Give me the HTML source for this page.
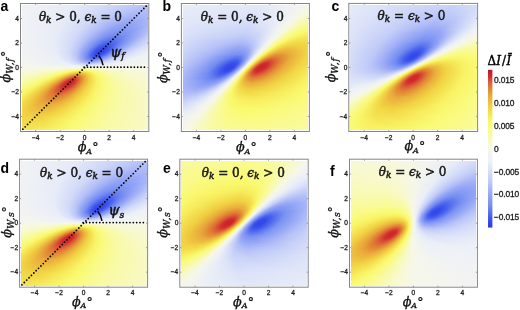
<!DOCTYPE html>
<html><head><meta charset="utf-8"><style>
html,body{margin:0;padding:0;background:#fff;}
#fig{filter:blur(0.25px);position:relative;width:520px;height:310px;overflow:hidden;background:#fff;}
.hm{position:absolute;display:flex;flex-direction:column;}
.hm i{display:block;flex:1 1 0;}
svg{position:absolute;left:0;top:0;}
.tl{font-family:"Liberation Sans",Arial,sans-serif;font-size:6.6px;fill:#222;stroke:#222;stroke-width:0.3px;}
.pl{font-family:"Liberation Sans",Arial,sans-serif;font-size:14px;font-weight:bold;fill:#000;}
.ti{font-family:"DejaVu Serif","Liberation Serif",serif;font-size:12px;fill:#1a1a1a;stroke:#1a1a1a;stroke-width:0.5px;}
.al{font-family:"DejaVu Serif","Liberation Serif",serif;fill:#111;stroke:#111;stroke-width:0.3px;}
.psi{font-family:"DejaVu Serif","Liberation Serif",serif;font-size:14px;font-style:italic;fill:#111;stroke:#111;stroke-width:0.5px;}
.cbl{font-family:"Liberation Sans",Arial,sans-serif;font-size:8.4px;fill:#1a1a1a;stroke:#1a1a1a;stroke-width:0.3px;letter-spacing:-0.12px;}
.cbt{font-family:"DejaVu Serif","Liberation Serif",serif;font-size:12px;fill:#000;stroke:#000;stroke-width:0.4px;}
</style></head><body><div id="fig">
<div class="hm" style="left:22px;top:5px;width:126px;height:125px"><i style="background:linear-gradient(90deg,#f0f2f4 0.4%,#e7ebf8 41.7%,#cad3f8 75.8%,#b9c4f8 97.2%,#b9c4f8 99.6%)"></i><i style="background:linear-gradient(90deg,#f0f2f4 0.4%,#e7ebf8 40.9%,#cbd4f8 72.6%,#b8c3f8 95.6%,#b8c3f8 99.6%)"></i><i style="background:linear-gradient(90deg,#f0f2f4 0.4%,#e7ebf8 40.1%,#ccd5f8 71.0%,#b6c2f8 94.0%,#b6c2f8 99.6%)"></i><i style="background:linear-gradient(90deg,#f0f2f4 0.4%,#e6ebf8 40.1%,#cbd4f8 70.2%,#b5c0f8 93.3%,#b5c0f8 99.6%)"></i><i style="background:linear-gradient(90deg,#f0f2f4 0.4%,#e7ebf8 39.3%,#cdd5f8 67.9%,#b4bff8 91.7%,#b4bff8 99.6%)"></i><i style="background:linear-gradient(90deg,#f0f2f4 0.4%,#e7ebf8 38.5%,#cdd6f8 66.3%,#b2bef8 90.9%,#b2bef8 99.6%)"></i><i style="background:linear-gradient(90deg,#f0f2f4 0.4%,#e7ebf8 37.7%,#ced6f8 64.7%,#b1bdf8 89.3%,#b1bdf8 99.6%)"></i><i style="background:linear-gradient(90deg,#f0f2f4 0.4%,#e6ebf8 37.7%,#cdd6f8 63.9%,#aebbf8 89.3%,#b0bcf8 99.6%)"></i><i style="background:linear-gradient(90deg,#f0f2f4 0.4%,#e7ebf8 36.9%,#ced7f8 62.3%,#acb9f8 88.5%,#afbbf8 99.6%)"></i><i style="background:linear-gradient(90deg,#f0f2f4 0.4%,#e7ebf8 36.1%,#ced6f8 61.5%,#aab7f8 87.7%,#adbaf8 99.6%)"></i><i style="background:linear-gradient(90deg,#f0f2f4 0.4%,#e6ebf8 36.1%,#ced6f8 60.7%,#a7b5f7 87.7%,#acb9f8 99.6%)"></i><i style="background:linear-gradient(90deg,#f0f2f4 0.4%,#e7ebf8 35.3%,#ced7f8 59.1%,#a6b3f7 86.1%,#a9b6f7 98.0%,#abb8f8 99.6%)"></i><i style="background:linear-gradient(90deg,#f0f2f4 0.4%,#e7ebf8 34.5%,#cfd8f8 57.5%,#a3b1f7 85.3%,#a7b4f7 97.2%,#aab7f8 99.6%)"></i><i style="background:linear-gradient(90deg,#f0f2f4 0.4%,#e6ebf8 34.5%,#cfd7f8 56.7%,#a1aff7 84.5%,#a4b2f7 95.6%,#aab7f7 99.6%)"></i><i style="background:linear-gradient(90deg,#f0f2f4 0.4%,#e7ebf8 33.7%,#cfd7f8 56.0%,#9eadf7 83.7%,#a1b0f7 94.8%,#a9b6f7 99.6%)"></i><i style="background:linear-gradient(90deg,#f0f2f4 0.4%,#e7ecf8 32.9%,#d0d8f8 54.4%,#9cabf6 82.9%,#9eadf6 93.3%,#a9b6f7 99.6%)"></i><i style="background:linear-gradient(90deg,#f0f2f4 0.4%,#e7ebf8 32.9%,#cfd7f8 54.4%,#9aaaf6 81.3%,#9aaaf6 91.7%,#a9b6f7 99.6%)"></i><i style="background:linear-gradient(90deg,#f0f2f4 0.4%,#e7ebf8 32.1%,#d0d8f8 52.8%,#97a7f6 80.6%,#99a9f6 91.7%,#a9b6f7 99.6%)"></i><i style="background:linear-gradient(90deg,#f0f2f4 0.4%,#e6ebf8 32.1%,#d0d8f8 52.0%,#96a6f6 79.0%,#96a6f6 90.1%,#a9b6f7 99.6%)"></i><i style="background:linear-gradient(90deg,#f0f2f4 0.4%,#e7ebf8 31.3%,#d0d8f8 51.2%,#a8b5f7 68.7%,#93a4f5 79.0%,#93a5f5 89.3%,#a9b7f7 99.6%)"></i><i style="background:linear-gradient(90deg,#f0f2f4 0.4%,#e6ebf8 31.3%,#d0d8f8 50.4%,#abb8f8 66.3%,#92a4f5 76.6%,#90a2f5 86.9%,#a1aff7 96.4%,#aab7f8 99.6%)"></i><i style="background:linear-gradient(90deg,#f0f2f4 0.4%,#e7ebf8 30.6%,#d0d8f8 49.6%,#acb9f8 64.7%,#91a3f5 75.0%,#8d9ff5 85.3%,#9faef7 95.6%,#abb8f8 99.6%)"></i><i style="background:linear-gradient(90deg,#f0f2f4 0.4%,#e6ebf8 30.6%,#d0d8f8 48.8%,#adbaf8 63.1%,#90a2f5 73.4%,#899df4 82.9%,#98a8f6 93.3%,#adb9f8 99.6%)"></i><i style="background:linear-gradient(90deg,#f0f2f4 0.4%,#e7ebf8 29.8%,#d0d9f8 48.0%,#afbbf8 61.5%,#90a2f5 71.8%,#869bf4 81.3%,#94a5f6 91.7%,#aebbf8 99.6%)"></i><i style="background:linear-gradient(90deg,#f0f2f4 0.4%,#e7ebf8 29.8%,#d1d9f8 47.2%,#b1bdf8 59.9%,#8ea0f5 71.0%,#8399f3 80.6%,#91a2f5 90.1%,#b0bcf8 99.6%)"></i><i style="background:linear-gradient(90deg,#f0f2f4 0.4%,#e7ecf8 29.0%,#d1d9f8 46.4%,#b3bef8 58.3%,#8da0f5 69.4%,#8196f3 79.0%,#8da0f5 88.5%,#b2bef8 99.6%)"></i><i style="background:linear-gradient(90deg,#f0f2f4 0.4%,#e7ebf8 29.0%,#d1d9f8 45.6%,#b2bef8 57.5%,#8b9ef4 68.7%,#7e94f3 77.4%,#879bf4 86.1%,#a5b3f7 95.6%,#b4bff8 99.6%)"></i><i style="background:linear-gradient(90deg,#f0f2f4 0.4%,#e6ebf8 29.0%,#d0d8f8 45.6%,#b2bdf8 56.7%,#8b9ef4 67.1%,#7b92f2 75.8%,#8197f3 83.7%,#a0aff7 94.0%,#b6c1f8 99.6%)"></i><i style="background:linear-gradient(90deg,#f0f2f4 0.4%,#e7ecf8 28.2%,#d0d8f8 44.8%,#b1bdf8 56.0%,#899df4 66.3%,#7890f2 75.0%,#7e95f3 82.9%,#9faef7 93.3%,#b8c4f8 99.6%)"></i><i style="background:linear-gradient(90deg,#f0f2f4 0.4%,#e7ebf8 28.2%,#d1d9f8 44.0%,#b4bff8 54.4%,#879bf4 65.5%,#738bf1 75.0%,#7e94f3 82.9%,#a2b0f7 93.3%,#bbc6f8 99.6%)"></i><i style="background:linear-gradient(90deg,#f0f2f4 0.4%,#e7ecf8 27.4%,#d1d9f8 43.3%,#b4bff8 53.6%,#859af4 64.7%,#6e86f1 74.2%,#778ff2 80.6%,#9dacf6 91.7%,#bec9f8 99.6%)"></i><i style="background:linear-gradient(90deg,#f0f2f4 0.4%,#e7ecf8 27.4%,#d2daf8 42.5%,#b6c2f8 52.0%,#8399f3 63.9%,#6a82f0 72.6%,#6e86f1 78.2%,#9cabf6 90.9%,#c1cbf8 99.6%)"></i><i style="background:linear-gradient(90deg,#f0f2f4 0.4%,#e7ebf8 27.4%,#d1d9f8 42.5%,#b4bff8 52.0%,#8297f3 63.1%,#677ff0 71.0%,#6880f0 76.6%,#9babf6 90.1%,#c1ccf8 98.8%,#c4cef8 99.6%)"></i><i style="background:linear-gradient(90deg,#f1f2f3 0.4%,#e7ecf8 26.6%,#d1d9f8 41.7%,#b7c2f8 50.4%,#8096f3 62.3%,#627aef 70.2%,#637bef 75.8%,#9faef7 90.1%,#c5cff8 98.8%,#c7d1f8 99.6%)"></i><i style="background:linear-gradient(90deg,#f1f2f3 0.4%,#e7ecf8 26.6%,#d2daf8 40.9%,#b7c3f8 49.6%,#7e94f3 61.5%,#5f77ee 68.7%,#5c74ee 73.4%,#6d85f0 79.0%,#c0caf8 96.4%,#cad3f8 99.6%)"></i><i style="background:linear-gradient(90deg,#f1f2f3 0.4%,#e7ecf8 26.6%,#d1d9f8 40.9%,#b5c0f8 49.6%,#6f87f1 63.1%,#5870ee 68.7%,#5770ee 73.4%,#6e86f1 79.0%,#8ea0f5 85.3%,#bdc8f8 94.8%,#cdd5f8 99.6%)"></i><i style="background:linear-gradient(90deg,#f1f2f3 0.4%,#e7ecf8 26.6%,#d2daf8 40.1%,#b9c4f8 48.0%,#7189f1 61.5%,#556dee 67.1%,#4f68ee 71.0%,#5e76ee 75.8%,#8197f3 82.1%,#bec9f8 94.0%,#d0d8f8 99.6%)"></i><i style="background:linear-gradient(90deg,#f1f2f3 0.4%,#e7ecf8 26.6%,#d1d9f8 40.1%,#b6c2f8 48.0%,#748cf1 59.9%,#4f68ee 66.3%,#4963ee 70.2%,#556eee 74.2%,#8096f3 81.3%,#bcc7f8 92.5%,#d3daf8 99.6%)"></i><i style="background:linear-gradient(90deg,#f1f2f3 0.4%,#e7ecf8 26.6%,#d2daf8 39.3%,#b7c2f8 47.2%,#728af1 59.1%,#4a64ee 65.5%,#445eee 69.4%,#516aee 73.4%,#8096f3 80.6%,#bdc8f8 91.7%,#d6ddf8 99.6%)"></i><i style="background:linear-gradient(90deg,#f1f2f3 0.4%,#e7ecf8 26.6%,#d2d9f8 39.3%,#b8c4f8 46.4%,#7088f1 58.3%,#4963ee 63.9%,#4058ed 67.9%,#4861ee 71.8%,#7f95f3 79.8%,#bbc6f8 90.1%,#d7def8 98.8%,#d9dff8 99.6%)"></i><i style="background:linear-gradient(90deg,#f1f3f3 0.4%,#e7ecf8 26.6%,#d3dbf8 38.5%,#bac5f8 45.6%,#768ef2 56.7%,#455eee 63.1%,#3d53ec 67.1%,#445dee 71.0%,#7f95f3 79.0%,#bcc7f8 89.3%,#dae0f8 98.8%,#dce2f8 99.6%)"></i><i style="background:linear-gradient(90deg,#f1f3f3 0.4%,#e7ecf8 26.6%,#d2daf8 38.5%,#b8c3f8 45.6%,#758df2 56.0%,#465fee 61.5%,#3a4feb 65.5%,#3e56ec 69.4%,#5069ee 72.6%,#7f95f3 78.2%,#bac5f8 87.7%,#d6ddf8 95.6%,#dee4f8 99.6%)"></i><i style="background:linear-gradient(90deg,#f1f3f3 0.4%,#e7ecf8 26.6%,#d2d9f8 38.5%,#b5c1f8 45.6%,#758df2 55.2%,#435ced 60.7%,#364beb 64.7%,#3b52ec 68.7%,#4d67ee 71.8%,#7f95f3 77.4%,#bcc7f8 86.9%,#d9e0f8 95.6%,#e1e6f8 99.6%)"></i><i style="background:linear-gradient(90deg,#f1f3f3 0.4%,#e7ecf8 26.6%,#d3dbf8 37.7%,#bcc7f8 44.0%,#7c93f2 53.6%,#425aed 59.9%,#3549ea 63.1%,#364beb 67.1%,#4c65ee 71.0%,#7a92f2 75.8%,#bac5f8 85.3%,#d5dcf8 92.5%,#e3e8f8 99.6%)"></i><i style="background:linear-gradient(90deg,#f2f3f2 0.4%,#e8ecf8 26.6%,#d3dbf8 37.7%,#bac5f8 44.0%,#778ff2 53.6%,#4058ed 59.1%,#3347e9 62.3%,#3448ea 66.3%,#4a64ee 70.2%,#7b92f2 75.0%,#b9c4f8 83.7%,#d5dcf8 90.9%,#e5eaf8 99.6%)"></i><i style="background:linear-gradient(90deg,#f2f3f2 0.4%,#e8ecf8 26.6%,#d3daf8 37.7%,#b8c4f8 44.0%,#7990f2 52.8%,#4057ed 58.3%,#3448ea 60.7%,#3447e9 65.5%,#435ced 68.7%,#7d94f3 74.2%,#bbc6f8 82.9%,#d7def8 90.1%,#e8ecf8 99.6%)"></i><i style="background:linear-gradient(90deg,#f2f3f2 0.4%,#e8edf8 26.6%,#d2daf8 37.7%,#b7c2f8 44.0%,#738bf1 52.8%,#4058ed 57.5%,#3447e9 59.9%,#3347e9 64.7%,#445ded 67.9%,#7990f2 72.6%,#bac5f8 81.3%,#d4dcf8 87.7%,#eaeef8 99.6%)"></i><i style="background:linear-gradient(90deg,#f2f3f2 0.4%,#e9edf8 26.6%,#d5dcf8 36.9%,#bac5f8 43.3%,#768ef2 52.0%,#4159ed 56.7%,#3448ea 59.1%,#3347e9 63.9%,#455fee 67.1%,#7b92f2 71.8%,#b9c4f8 79.8%,#d2daf8 85.3%,#e7ecf8 95.6%,#ecf0f8 99.6%)"></i><i style="background:linear-gradient(90deg,#f2f3f2 0.4%,#e8edf8 27.4%,#d3daf8 37.7%,#b9c5f8 43.3%,#7189f1 52.0%,#435ced 56.0%,#3549ea 58.3%,#3346e9 62.3%,#3c53ec 64.7%,#526bee 67.1%,#7890f2 70.2%,#b8c3f8 78.2%,#d2daf8 83.7%,#e8ecf8 94.0%,#edf0f7 99.6%)"></i><i style="background:linear-gradient(90deg,#f2f3f1 0.4%,#e9edf8 27.4%,#d3dbf8 37.7%,#b9c4f8 43.3%,#778ff2 51.2%,#4761ee 55.2%,#3549ea 58.3%,#3448ea 61.5%,#455eee 64.7%,#7c93f3 69.4%,#bcc7f8 77.4%,#dae0f8 84.5%,#edf0f7 97.2%,#eef1f6 99.6%)"></i><i style="background:linear-gradient(90deg,#f3f4f1 0.4%,#e8edf8 28.2%,#d4dbf8 37.7%,#b9c4f8 43.3%,#758df2 51.2%,#455fee 55.2%,#374ceb 58.3%,#384deb 60.7%,#4b65ee 63.9%,#7b92f2 67.9%,#bcc7f8 75.8%,#dbe1f8 82.9%,#edf0f7 94.8%,#eff1f5 99.6%)"></i><i style="background:linear-gradient(90deg,#f3f4f1 0.4%,#e9eef8 28.2%,#d5dcf8 37.7%,#b9c5f8 43.3%,#748cf1 51.2%,#4761ee 55.2%,#3d54ec 57.5%,#3e56ec 59.9%,#4c66ee 62.3%,#7a91f2 66.3%,#bdc8f8 74.2%,#dce2f8 81.3%,#edf1f7 93.3%,#f0f2f4 99.6%)"></i><i style="background:linear-gradient(90deg,#f3f4f0 0.4%,#e9eef8 29.0%,#d3dbf8 38.5%,#bbc6f8 43.3%,#758df2 51.2%,#4d66ee 55.2%,#445dee 57.5%,#4b65ee 59.9%,#8197f3 65.5%,#bec9f8 72.6%,#dde3f8 79.8%,#edf1f7 90.9%,#f0f2f4 99.6%)"></i><i style="background:linear-gradient(90deg,#f3f4f0 0.4%,#e9eef8 29.8%,#d5dcf8 38.5%,#bdc7f8 43.3%,#7088f1 52.0%,#5770ee 55.2%,#536cee 57.5%,#677ff0 60.7%,#8499f3 63.9%,#bbc6f8 70.2%,#d7def8 75.8%,#ecf0f8 86.1%,#f1f3f3 99.6%)"></i><i style="background:linear-gradient(90deg,#f3f4ef 0.4%,#eaeef8 30.6%,#d4dbf8 39.3%,#bac5f8 44.0%,#8499f3 50.4%,#6880f0 54.4%,#657def 56.7%,#778ff2 59.9%,#a4b2f7 65.5%,#c8d2f8 70.2%,#e2e7f8 77.4%,#eef1f6 86.9%,#f2f3f2 99.6%)"></i><i style="background:linear-gradient(90deg,#f4f5ef 0.4%,#eaeef8 31.3%,#d4dbf8 40.1%,#b9c4f8 44.8%,#8b9ef4 50.4%,#7991f2 54.4%,#7d94f3 57.5%,#9babf6 62.3%,#c3cdf8 67.1%,#e0e6f8 74.2%,#eef1f6 83.7%,#f2f3f1 99.6%)"></i><i style="background:linear-gradient(90deg,#f4f5ee 0.4%,#ebeff8 32.1%,#d5dcf8 40.9%,#bac5f8 45.6%,#91a3f5 51.2%,#899df4 55.2%,#99a9f6 59.1%,#c8d2f8 65.5%,#e3e8f8 72.6%,#eef1f6 81.3%,#f3f4f0 99.6%)"></i><i style="background:linear-gradient(90deg,#f4f5ee 0.4%,#ebf0f8 33.7%,#d7def8 41.7%,#b0bcf8 48.8%,#9eadf6 52.8%,#a1b0f7 56.0%,#d6ddf8 65.5%,#ecf0f8 74.2%,#f4f5ef 99.6%)"></i><i style="background:linear-gradient(90deg,#f5f6ed 0.4%,#ecf0f8 35.3%,#d5dcf8 44.0%,#b7c2f8 52.0%,#bcc7f8 56.0%,#e3e9f8 66.3%,#eef1f6 73.4%,#f4f5ee 99.6%)"></i><i style="background:linear-gradient(90deg,#f5f6ec 0.4%,#edf1f7 36.9%,#d5dcf8 47.2%,#cdd5f8 52.8%,#edf0f7 67.1%,#f5f6ed 99.6%)"></i><i style="background:linear-gradient(90deg,#f5f6ec 0.4%,#eef1f6 39.3%,#e0e6f8 52.0%,#f0f2f4 65.5%,#f5f6ec 99.6%)"></i><i style="background:linear-gradient(90deg,#f6f7eb 0.4%,#f1f2f3 42.5%,#f2f3f2 61.5%,#f6f7eb 99.6%)"></i><i style="background:linear-gradient(90deg,#f6f7ea 0.4%,#f6f7ea 99.6%)"></i><i style="background:linear-gradient(90deg,#f6f7e7 0.4%,#f7f8dc 29.8%,#f8f9c9 40.9%,#f8fab9 48.8%,#f8f9c8 56.7%,#f7f8dd 68.7%,#f6f7e7 99.6%)"></i><i style="background:linear-gradient(90deg,#f6f7e4 0.4%,#f7f8d7 24.2%,#f8f9c1 33.7%,#fafa8d 46.4%,#fafa8e 50.4%,#f8f9ca 65.5%,#f7f8dd 78.2%,#f6f7e5 99.6%)"></i><i style="background:linear-gradient(90deg,#f7f8e1 0.4%,#f8f9d1 21.0%,#f8fab7 30.6%,#fafa8d 38.5%,#faf96f 43.3%,#f9f568 48.0%,#fafa71 52.0%,#f8faab 61.5%,#f8f9ca 70.2%,#f7f8dc 84.5%,#f7f8e3 99.6%)"></i><i style="background:linear-gradient(90deg,#f7f8de 0.4%,#f8f9cd 17.9%,#f8fab1 27.4%,#fafa8b 34.5%,#f9f669 39.3%,#f4e151 44.8%,#f5e353 48.8%,#fafa77 56.0%,#f9faa2 62.3%,#f8f9c6 71.8%,#f7f8d8 84.5%,#f7f8e1 99.6%)"></i><i style="background:linear-gradient(90deg,#f7f8da 0.4%,#f8f9c9 15.5%,#f8faab 25.0%,#fafa89 31.3%,#f9f76b 35.3%,#f1d444 42.5%,#f0cc40 46.4%,#f2da4a 50.4%,#f9f66a 56.0%,#f9faa0 63.9%,#f8f9c3 73.4%,#f8f9d6 86.1%,#f7f8df 99.6%)"></i><i style="background:linear-gradient(90deg,#f7f8d7 0.4%,#f8f9c4 13.9%,#f9faa1 24.2%,#fafa79 30.6%,#f8ef5f 34.5%,#f0d141 39.3%,#edb83f 42.5%,#ebb33e 45.6%,#eec040 48.8%,#f1d444 51.2%,#f9f467 56.7%,#fafa7d 59.9%,#f9faa3 66.3%,#f8f9c5 76.6%,#f7f8d8 90.9%,#f7f8dd 99.6%)"></i><i style="background:linear-gradient(90deg,#f8f9d3 0.4%,#f8fabb 13.9%,#fafa96 23.4%,#faf86c 29.8%,#f6e959 32.9%,#f0cd40 36.9%,#ecb53e 39.3%,#e69a38 43.3%,#e69d39 45.6%,#eec140 50.4%,#f2d747 52.8%,#f9f466 57.5%,#fafa81 61.5%,#f9faa7 68.7%,#f8f9c7 79.8%,#f7f8da 97.2%,#f7f8db 99.6%)"></i><i style="background:linear-gradient(90deg,#f8f9ce 0.4%,#f8fab4 13.1%,#fafa91 21.8%,#faf86c 27.4%,#f6ea5a 30.6%,#f0ce40 34.5%,#e38a35 40.9%,#e18133 43.3%,#e28834 45.6%,#e7a03a 48.0%,#f1d343 52.8%,#f9f467 58.3%,#fafa81 62.3%,#f9faa6 69.4%,#f8f9c6 81.3%,#f7f8d9 99.6%)"></i><i style="background:linear-gradient(90deg,#f8f9c9 0.4%,#f8faab 13.1%,#fafa88 21.0%,#f9f66a 25.8%,#f6e656 29.0%,#f0d141 32.1%,#e7a63b 36.1%,#e28634 38.5%,#dc6935 41.7%,#dd6c34 44.0%,#e38b35 47.2%,#ebb43e 50.4%,#f0d040 52.8%,#f8f264 58.3%,#fafa76 61.5%,#f9fa9f 68.7%,#f8f9c2 80.6%,#f8f9d6 97.2%,#f7f8d8 99.6%)"></i><i style="background:linear-gradient(90deg,#f8f9c4 0.4%,#f9faa3 13.1%,#fafa7f 20.2%,#f9f567 24.2%,#f3da4a 29.0%,#f0d040 30.6%,#e7a13a 34.5%,#de7433 37.7%,#d95738 40.1%,#d74f36 41.7%,#da5c37 44.0%,#e28634 47.2%,#e8aa3c 49.6%,#f1d343 53.6%,#f9f466 59.1%,#fafa7e 63.1%,#f9faa2 70.2%,#f8f9c4 82.9%,#f8f9d6 99.6%)"></i><i style="background:linear-gradient(90deg,#f8fabf 0.4%,#f9fa9a 13.1%,#faf86e 21.0%,#f6e858 25.0%,#f0ce40 29.0%,#e6a03a 32.9%,#e07d32 35.3%,#d85538 37.7%,#d64032 39.3%,#d53830 40.9%,#d63e32 42.5%,#da5e37 44.8%,#e28434 47.2%,#e8a93c 49.6%,#f1d343 53.6%,#f9f365 59.1%,#fafa7b 63.1%,#f9faa2 71.0%,#f8f9c4 84.5%,#f8f9d5 99.6%)"></i><i style="background:linear-gradient(90deg,#f8fab9 0.4%,#fafa97 11.5%,#faf86d 19.4%,#f6e858 23.4%,#f0cf40 27.4%,#e7a13a 31.3%,#e07e32 33.7%,#d85338 36.1%,#d42f2d 38.5%,#d2292c 40.1%,#d42d2d 41.7%,#d74e36 44.0%,#e07a32 46.4%,#e8aa3c 49.6%,#f1d343 53.6%,#f8f264 59.1%,#fafa79 63.1%,#f9faa0 71.0%,#f8f9c2 84.5%,#f8f9d4 99.6%)"></i><i style="background:linear-gradient(90deg,#f8fab3 0.4%,#fafa92 10.7%,#f9f76c 17.9%,#f6e858 21.8%,#f0d040 25.8%,#e7a43b 29.8%,#de7333 32.9%,#d85538 34.5%,#d42c2c 36.9%,#cc272b 39.3%,#d32a2c 41.7%,#d64132 43.3%,#da5f36 44.8%,#e07e32 46.4%,#e9ac3c 49.6%,#f1d343 53.6%,#f8f264 59.1%,#fafa7c 63.9%,#f9faa1 71.8%,#f8f9c3 86.1%,#f8f9d2 99.6%)"></i><i style="background:linear-gradient(90deg,#f8faae 0.4%,#fafa8d 9.9%,#f9f76c 16.3%,#f6e858 20.2%,#f0d141 24.2%,#e8a93c 28.2%,#e07a32 31.3%,#d74c36 33.7%,#d42f2d 35.3%,#cc272b 36.9%,#c8252b 39.3%,#d42b2c 41.7%,#d95738 44.0%,#e18233 46.4%,#eaaf3d 49.6%,#f1d444 53.6%,#f8f263 59.1%,#fafa7b 63.9%,#f9faa2 72.6%,#f8f9c4 87.7%,#f8f9d1 99.6%)"></i><i style="background:linear-gradient(90deg,#f8faa8 0.4%,#fafa85 9.9%,#f9f568 15.5%,#f3db4b 21.0%,#f0cc40 23.4%,#e7a23a 27.4%,#de7333 30.6%,#d85638 32.1%,#d42a2c 34.5%,#c7252b 36.9%,#c9262b 39.3%,#d2292c 40.9%,#d64133 42.5%,#da6036 44.0%,#e07d32 45.6%,#e8ab3c 48.8%,#f1d646 53.6%,#f8f264 59.1%,#fafa7b 63.9%,#f9faa0 72.6%,#f8f9c3 87.7%,#f8f9d0 99.6%)"></i><i style="background:linear-gradient(90deg,#f9faa2 0.4%,#fafa7c 9.9%,#f8f162 15.5%,#f0cf40 21.8%,#e8a93c 25.8%,#e28734 28.2%,#dd6f34 29.8%,#d85237 31.3%,#d32a2c 33.7%,#c7252b 36.1%,#c8262b 38.5%,#d1292c 40.1%,#d63e32 41.7%,#da5c37 43.3%,#e28434 45.6%,#e9ae3d 48.8%,#f1d343 52.8%,#f9f364 59.1%,#fafa7a 63.9%,#f9fa9f 72.6%,#f8f9c2 88.5%,#f8f9cf 99.6%)"></i><i style="background:linear-gradient(90deg,#f9fa9d 0.4%,#fafa77 9.1%,#f8ef5f 14.7%,#efcb40 21.0%,#e7a53b 25.0%,#e07b32 28.2%,#d85137 30.6%,#d42a2c 32.9%,#c7252b 36.1%,#d2292c 39.3%,#d63e32 40.9%,#d95a37 42.5%,#e18233 44.8%,#e9ac3c 48.0%,#f1d545 52.8%,#f9f365 59.1%,#fafa7a 63.9%,#f9faa1 73.4%,#f8f9c4 90.1%,#f8f9ce 99.6%)"></i><i style="background:linear-gradient(90deg,#fafa97 0.4%,#faf86c 9.9%,#f6e858 14.7%,#f0cf40 19.4%,#e7a23a 24.2%,#df7932 27.4%,#d85237 29.8%,#d42d2d 32.1%,#ca262b 35.3%,#d42a2c 38.5%,#d95b37 41.7%,#e18033 44.0%,#e8aa3c 47.2%,#f1d242 52.0%,#f9f365 59.1%,#fafa7f 64.7%,#f9faa5 75.0%,#f8f9c6 92.5%,#f8f9cd 99.6%)"></i><i style="background:linear-gradient(90deg,#fafa91 0.4%,#f9f66a 9.1%,#f5e555 13.9%,#f0cc40 18.7%,#e8aa3c 22.6%,#df7932 26.6%,#d85438 29.0%,#d5322e 31.3%,#d42a2c 32.1%,#ce282b 35.3%,#d32a2c 36.9%,#d64433 39.3%,#da5c37 40.9%,#e28834 44.0%,#eaaf3d 47.2%,#f1d545 52.0%,#f9f466 59.1%,#fafa7f 64.7%,#f9faa4 75.0%,#f8f9c5 92.5%,#f8f9cd 99.6%)"></i><i style="background:linear-gradient(90deg,#fafa8b 0.4%,#f9f76b 7.5%,#f6e757 12.3%,#efc940 17.9%,#e8a93c 21.8%,#e07a32 25.8%,#d74d36 29.0%,#d5312e 31.3%,#d2292c 33.7%,#d42f2d 36.1%,#d74935 38.5%,#da5f36 40.1%,#e28834 43.3%,#e9ae3d 46.4%,#f1d343 51.2%,#f9f364 58.3%,#fafa7b 63.9%,#f9faa1 74.2%,#f8f9c4 92.5%,#f8f9cc 99.6%)"></i><i style="background:linear-gradient(90deg,#fafa84 0.4%,#f9f669 6.7%,#f5e555 11.5%,#f0ce40 16.3%,#e8a83c 21.0%,#de7134 25.8%,#d85338 28.2%,#d53930 30.6%,#d5302e 32.9%,#d53830 35.3%,#d95937 38.5%,#e18133 41.7%,#e9ad3d 45.6%,#f0d242 50.4%,#f9f365 58.3%,#fafa7c 63.9%,#f9faa3 75.0%,#f8f9c4 93.3%,#f8f9cb 99.6%)"></i><i style="background:linear-gradient(90deg,#fafa7e 0.4%,#f9f567 6.0%,#f2d949 13.1%,#efc640 16.3%,#e8a83c 20.2%,#df7533 25.0%,#d85137 28.2%,#d63e32 30.6%,#d63a31 32.9%,#d74734 35.3%,#da5f36 37.7%,#e18333 40.9%,#ebb23e 45.6%,#f1d444 50.4%,#f9f466 58.3%,#fafa80 64.7%,#f9faa5 75.8%,#f8f9c5 94.8%,#f8f9ca 99.6%)"></i><i style="background:linear-gradient(90deg,#fafa78 0.4%,#f7ed5d 7.5%,#f0cb40 14.7%,#e8a93c 19.4%,#e18133 23.4%,#d85237 28.2%,#d74534 30.6%,#d74734 32.9%,#db6536 36.9%,#e38c35 40.9%,#e9ad3d 44.0%,#f1d444 49.6%,#f9f365 57.5%,#fafa7e 63.9%,#f9faa2 75.0%,#f8f9c5 94.8%,#f8f9ca 99.6%)"></i><i style="background:linear-gradient(90deg,#fafa71 0.4%,#f7eb5b 6.7%,#efcb40 13.9%,#e7a13a 19.4%,#e18333 22.6%,#d95a37 27.4%,#d74f36 30.6%,#d95937 33.7%,#e18233 38.5%,#ebb23e 44.0%,#f1d343 48.8%,#f9f466 57.5%,#fafa7b 63.1%,#f9faa2 75.0%,#f8f9c4 94.8%,#f8f9c9 99.6%)"></i><i style="background:linear-gradient(90deg,#faf86d 0.4%,#f6e757 6.7%,#efca40 13.1%,#e7a33a 18.7%,#e18133 22.6%,#da5e36 27.4%,#d95937 30.6%,#dc6635 33.7%,#e38a35 38.5%,#e9ae3d 42.5%,#f1d242 48.0%,#f9f365 56.7%,#fafa7c 63.1%,#f9faa2 75.0%,#f8f9c5 95.6%,#f8f9c9 99.6%)"></i><i style="background:linear-gradient(90deg,#f9f66a 0.4%,#f5e656 6.0%,#efca40 12.3%,#e7a53b 17.9%,#e28434 21.8%,#db6436 27.4%,#db6336 30.6%,#df7932 34.5%,#e69b39 39.3%,#eaaf3d 41.7%,#f1d242 47.2%,#f9f466 56.7%,#fafa7e 63.1%,#f9faa4 75.8%,#f8f9c5 96.4%,#f8f9c8 99.6%)"></i><i style="background:linear-gradient(90deg,#f9f466 0.4%,#f0d040 10.7%,#e7a13a 17.9%,#e28434 21.8%,#dd6b35 27.4%,#de7134 31.3%,#e59738 37.7%,#eab03d 40.9%,#f0d242 46.4%,#f9f365 56.0%,#fafa7f 63.1%,#f9faa4 75.8%,#f8f9c5 97.2%,#f8f9c8 99.6%)"></i><i style="background:linear-gradient(90deg,#f8f263 0.4%,#efca40 10.7%,#e7a43b 17.1%,#e28834 21.0%,#de7433 26.6%,#e07a32 30.6%,#e59537 36.1%,#e9ad3d 39.3%,#f0d242 45.6%,#f9f467 56.0%,#fafa7d 62.3%,#f9faa3 75.0%,#f8f9c5 97.2%,#f8f9c7 99.6%)"></i><i style="background:linear-gradient(90deg,#f8ef5f 0.4%,#efcb40 9.9%,#e69b39 17.9%,#e28534 21.8%,#e07c32 27.4%,#e38b35 32.9%,#ebb23e 39.3%,#f1d242 44.8%,#f9f466 55.2%,#fafa7e 62.3%,#f9faa4 75.8%,#f8f9c5 98.0%,#f8f9c7 99.6%)"></i><i style="background:linear-gradient(90deg,#f7ec5c 0.4%,#f0cc40 9.1%,#e9ae3d 14.7%,#e38a35 21.0%,#e18133 26.6%,#e48f36 32.1%,#eab03d 37.7%,#f1d242 44.0%,#f9f365 54.4%,#fafa7d 61.5%,#f9faa3 75.0%,#f8f9c5 98.0%,#f8f9c7 99.6%)"></i><i style="background:linear-gradient(90deg,#f6e959 0.4%,#f0cc40 8.3%,#e9ad3d 14.7%,#e38c35 21.0%,#e28734 26.6%,#e59437 31.3%,#ecb53f 37.7%,#f1d343 43.3%,#f9f467 54.4%,#fafa81 62.3%,#f9faa6 76.6%,#f8f9c6 99.6%)"></i><i style="background:linear-gradient(90deg,#f5e656 0.4%,#f0ce40 7.5%,#ebb23e 13.1%,#e48f36 21.0%,#e38d35 26.6%,#e69e39 31.3%,#f1d343 42.5%,#f9f466 53.6%,#fafa80 61.5%,#f9faa5 75.8%,#f8f9c6 99.6%)"></i><i style="background:linear-gradient(90deg,#f5e353 0.4%,#efca40 7.5%,#e9ae3d 13.9%,#e49337 21.0%,#e59437 26.6%,#efc440 38.5%,#f1d646 42.5%,#f9f466 52.8%,#fafa7c 59.9%,#f9faa2 74.2%,#f8f9c4 98.0%,#f8f9c6 99.6%)"></i><i style="background:linear-gradient(90deg,#f4e050 0.4%,#f0cc40 6.7%,#eab03d 13.1%,#e59838 21.0%,#e69c39 26.6%,#efc640 37.7%,#f2d949 42.5%,#f9f568 52.8%,#fafa83 61.5%,#f8faa9 77.4%,#f8f9c6 99.6%)"></i><i style="background:linear-gradient(90deg,#f4de4e 0.4%,#efc940 6.7%,#eab13d 13.1%,#e69d39 21.0%,#e7a43b 26.6%,#efc440 36.1%,#f1d545 40.1%,#f9f567 52.0%,#fafa82 60.7%,#f9faa7 76.6%,#f8f9c5 99.6%)"></i><i style="background:linear-gradient(90deg,#f3dc4c 0.4%,#f0cb40 6.0%,#ebb33e 12.3%,#e7a33a 21.0%,#ecb73f 31.3%,#f1d343 38.5%,#f9f467 51.2%,#fafa7e 59.1%,#f9faa5 75.0%,#f8f9c5 99.6%)"></i><i style="background:linear-gradient(90deg,#f3db4b 0.4%,#efca40 6.0%,#ebb33e 12.3%,#e8a93c 21.0%,#edb93f 30.6%,#f1d444 37.7%,#f9f569 51.2%,#fafa85 60.7%,#f8faa9 77.4%,#f8f9c5 99.6%)"></i><i style="background:linear-gradient(90deg,#f2d949 0.4%,#efc840 6.0%,#ebb43e 12.3%,#e9ad3d 21.0%,#eebe40 30.6%,#f1d343 36.1%,#f9f568 50.4%,#fafa86 60.7%,#f8faab 78.2%,#f8f9c5 99.6%)"></i><i style="background:linear-gradient(90deg,#f2d848 0.4%,#efc840 6.0%,#ecb53f 12.3%,#eab03d 21.0%,#eec140 29.8%,#f1d444 35.3%,#f9f568 49.6%,#fafa83 59.1%,#f8faa9 76.6%,#f8f9c5 99.6%)"></i><i style="background:linear-gradient(90deg,#f2d747 0.4%,#efc740 6.0%,#ecb63f 13.1%,#ecb53f 22.6%,#efc640 29.8%,#f2d747 35.3%,#f9f568 48.8%,#fafa82 58.3%,#f9faa8 75.8%,#f8f9c5 99.6%)"></i><i style="background:linear-gradient(90deg,#f2d646 0.4%,#efc740 6.0%,#ecb73f 13.1%,#edb93f 22.6%,#f1d242 32.1%,#f9f568 48.0%,#fafa81 57.5%,#f8faa8 75.8%,#f8f9c5 99.6%)"></i><i style="background:linear-gradient(90deg,#f1d646 0.4%,#efc540 6.7%,#edb83f 14.7%,#eebe40 23.4%,#f1d444 31.3%,#f9f568 47.2%,#fafa81 56.7%,#f9faa8 75.0%,#f8f9c5 99.6%)"></i><i style="background:linear-gradient(90deg,#f1d545 0.4%,#efc440 7.5%,#eebb40 15.5%,#efc440 23.4%,#f1d545 30.6%,#f9f66a 47.2%,#fafa8f 61.5%,#f8fab3 82.9%,#f8f9c5 99.6%)"></i><i style="background:linear-gradient(90deg,#f1d545 0.4%,#efc440 8.3%,#eebf40 17.1%,#f1d343 28.2%,#f9f66a 46.4%,#fafa91 62.3%,#f8fab7 86.1%,#f8f9c5 99.6%)"></i><i style="background:linear-gradient(90deg,#f1d545 0.4%,#efc640 8.3%,#efc340 17.1%,#f1d343 26.6%,#f9f66a 45.6%,#fafa93 62.3%,#f8fab8 86.9%,#f8f9c5 99.6%)"></i><i style="background:linear-gradient(90deg,#f1d545 0.4%,#efc640 10.7%,#f0cc40 20.2%,#f4e151 32.9%,#f9f66a 44.8%,#fafa94 62.3%,#f8fab9 87.7%,#f8f9c5 99.6%)"></i><i style="background:linear-gradient(90deg,#f1d545 0.4%,#efc940 11.5%,#f1d444 23.4%,#faf86d 45.6%,#f9fa9f 67.9%,#f8f9c3 98.0%,#f8f9c5 99.6%)"></i><i style="background:linear-gradient(90deg,#f1d545 0.4%,#f0cc40 12.3%,#f2d646 23.4%,#f9f76c 44.0%,#f9faa0 67.9%,#f8f9c4 98.8%,#f8f9c5 99.6%)"></i><i style="background:linear-gradient(90deg,#f1d646 0.4%,#f0d040 13.9%,#f5e454 30.6%,#faf86d 44.0%,#f9fa9f 67.1%,#f8f9c3 98.0%,#f8f9c5 99.6%)"></i><i style="background:linear-gradient(90deg,#f2d646 0.4%,#f1d242 14.7%,#f6e858 31.3%,#fafa72 45.6%,#f9fa9f 66.3%,#f8f9c3 98.0%,#f8f9c5 99.6%)"></i><i style="background:linear-gradient(90deg,#f2d747 0.4%,#f1d444 14.7%,#f6ea5a 31.3%,#fafa76 46.4%,#f9faa1 67.1%,#f8f9c5 99.6%)"></i><i style="background:linear-gradient(90deg,#f2d848 0.4%,#f2d747 15.5%,#f7ee5e 32.1%,#fafa78 46.4%,#f9faa3 67.9%,#f8f9c5 99.6%)"></i><i style="background:linear-gradient(90deg,#f2d848 0.4%,#f2d949 15.5%,#f8f162 33.7%,#fafa7a 46.4%,#f9faa4 68.7%,#f8f9c5 99.6%)"></i><i style="background:linear-gradient(90deg,#f2d949 0.4%,#f3db4b 16.3%,#fafa71 41.7%,#f9fa9e 63.9%,#f8f9c3 97.2%,#f8f9c5 99.6%)"></i><i style="background:linear-gradient(90deg,#f3da4a 0.4%,#f4de4e 17.1%,#fafa71 40.9%,#f9fa9f 63.9%,#f8f9c4 98.0%,#f8f9c5 99.6%)"></i><i style="background:linear-gradient(90deg,#f3db4b 0.4%,#f4e050 17.1%,#fafa71 40.1%,#f9faa0 63.9%,#f8f9c4 98.0%,#f8f9c5 99.6%)"></i><i style="background:linear-gradient(90deg,#f3dc4c 0.4%,#f5e252 17.1%,#fafa72 39.3%,#f9fa9f 63.1%,#f8f9c4 98.0%,#f8f9c5 99.6%)"></i><i style="background:linear-gradient(90deg,#f3dd4d 0.4%,#f5e454 17.1%,#fafa74 39.3%,#f9faa1 63.9%,#f8f9c5 99.6%)"></i><i style="background:linear-gradient(90deg,#f4df4f 0.4%,#f6e656 17.1%,#fafa76 39.3%,#f9faa3 64.7%,#f8f9c5 99.6%)"></i><i style="background:linear-gradient(90deg,#f4e050 0.4%,#f6e959 17.9%,#fafa78 39.3%,#f9faa5 65.5%,#f8f9c5 99.6%)"></i><i style="background:linear-gradient(90deg,#f4e151 0.4%,#f7ec5c 18.7%,#fafa79 38.5%,#f9faa6 65.5%,#f8f9c6 99.6%)"></i><i style="background:linear-gradient(90deg,#f5e353 0.4%,#f8ef5f 19.4%,#fafa79 37.7%,#f9faa5 64.7%,#f8f9c6 99.6%)"></i></div><div class="hm" style="left:183px;top:5px;width:125px;height:125px"><i style="background:linear-gradient(90deg,#e8ecf8 0.4%,#e3e8f8 62.0%,#f1f2f3 89.2%,#f6f7ea 99.6%)"></i><i style="background:linear-gradient(90deg,#e8ecf8 0.4%,#e3e8f8 62.0%,#f0f2f4 88.4%,#f6f7e7 99.6%)"></i><i style="background:linear-gradient(90deg,#e7ecf8 0.4%,#e2e7f8 61.2%,#f0f2f4 87.6%,#f6f7e7 98.8%,#f6f7e4 99.6%)"></i><i style="background:linear-gradient(90deg,#e7ecf8 0.4%,#e1e7f8 60.4%,#f1f2f3 87.6%,#f6f7e7 98.0%,#f7f8e1 99.6%)"></i><i style="background:linear-gradient(90deg,#e7ebf8 0.4%,#e1e6f8 60.4%,#f0f2f4 86.8%,#f6f7e7 97.2%,#f7f8dd 99.6%)"></i><i style="background:linear-gradient(90deg,#e6ebf8 0.4%,#e0e6f8 59.6%,#f0f2f4 86.0%,#f6f7e6 96.4%,#f7f8da 99.6%)"></i><i style="background:linear-gradient(90deg,#e6ebf8 0.4%,#e0e5f8 58.8%,#f0f2f4 85.2%,#f6f7e6 95.6%,#f8f9d6 99.6%)"></i><i style="background:linear-gradient(90deg,#e6eaf8 0.4%,#dfe5f8 58.8%,#f0f2f4 84.4%,#f6f7e6 94.8%,#f8f9d2 99.6%)"></i><i style="background:linear-gradient(90deg,#e5eaf8 0.4%,#dee4f8 58.0%,#f0f2f4 84.4%,#f6f7e6 94.0%,#f8f9ce 99.6%)"></i><i style="background:linear-gradient(90deg,#e5eaf8 0.4%,#dee3f8 58.0%,#f0f2f4 83.6%,#f6f7e6 93.2%,#f8f9c9 99.6%)"></i><i style="background:linear-gradient(90deg,#e5eaf8 0.4%,#dde3f8 57.2%,#f0f2f4 82.8%,#f6f7e6 92.4%,#f8f9c4 99.6%)"></i><i style="background:linear-gradient(90deg,#e4e9f8 0.4%,#dce2f8 56.4%,#ebeff8 76.4%,#f6f7ea 90.8%,#f8fabe 99.6%)"></i><i style="background:linear-gradient(90deg,#e4e9f8 0.4%,#dbe1f8 55.6%,#eaeef8 75.6%,#f5f6eb 89.2%,#f8fab8 99.6%)"></i><i style="background:linear-gradient(90deg,#e3e8f8 0.4%,#dae0f8 55.6%,#ebeff8 75.6%,#f6f7ea 89.2%,#f8fab3 99.6%)"></i><i style="background:linear-gradient(90deg,#e3e8f8 0.4%,#d9dff8 54.8%,#e9edf8 74.0%,#f5f6eb 87.6%,#f8faad 99.6%)"></i><i style="background:linear-gradient(90deg,#e3e8f8 0.4%,#d8def8 54.0%,#e8ecf8 73.2%,#f5f6ed 86.0%,#f7f8e0 89.2%,#f9faa7 99.6%)"></i><i style="background:linear-gradient(90deg,#e2e7f8 0.4%,#d7def8 54.0%,#e8ecf8 73.2%,#f5f6eb 86.0%,#f9faa2 99.6%)"></i><i style="background:linear-gradient(90deg,#e2e7f8 0.4%,#d5dcf8 53.2%,#e6eaf8 71.6%,#f4f5ee 83.6%,#f6f7e5 86.8%,#f9faa3 98.0%,#f9fa9c 99.6%)"></i><i style="background:linear-gradient(90deg,#e1e7f8 0.4%,#d4dcf8 53.2%,#e5e9f8 70.8%,#f3f4f0 82.0%,#f6f7e4 86.0%,#f9faa4 96.4%,#fafa96 99.6%)"></i><i style="background:linear-gradient(90deg,#e1e6f8 0.4%,#d3daf8 52.4%,#e2e7f8 69.2%,#f2f3f2 80.4%,#f6f7e9 84.4%,#f9faa6 94.8%,#fafa90 99.6%)"></i><i style="background:linear-gradient(90deg,#e0e6f8 0.4%,#d2daf8 52.4%,#e1e6f8 68.4%,#f1f2f3 78.8%,#f6f7e9 83.6%,#f9faa3 94.0%,#fafa8a 99.6%)"></i><i style="background:linear-gradient(90deg,#e0e5f8 0.4%,#d0d8f8 51.6%,#dee4f8 66.8%,#f1f2f3 78.0%,#f6f7e9 82.8%,#f9faa5 92.4%,#fafa83 99.6%)"></i><i style="background:linear-gradient(90deg,#dfe5f8 0.4%,#cfd7f8 50.8%,#dce2f8 65.2%,#f0f2f4 77.2%,#f6f7e9 82.0%,#f9faa2 91.6%,#fafa7d 99.6%)"></i><i style="background:linear-gradient(90deg,#dfe5f8 0.4%,#cdd6f8 50.8%,#dae0f8 64.4%,#f0f2f4 76.4%,#f6f7e9 81.2%,#f9faa0 90.8%,#fafa79 98.8%,#fafa77 99.6%)"></i><i style="background:linear-gradient(90deg,#dee4f8 0.4%,#ccd5f8 50.0%,#d8dff8 63.6%,#f0f2f4 75.6%,#f6f7e9 80.4%,#f9faa2 89.2%,#fafa79 97.2%,#fafa71 99.6%)"></i><i style="background:linear-gradient(90deg,#dee4f8 0.4%,#cad4f8 50.0%,#d6ddf8 62.8%,#f0f2f4 74.8%,#f6f7e9 79.6%,#f9faa5 87.6%,#fafa7b 94.8%,#faf86d 99.6%)"></i><i style="background:linear-gradient(90deg,#dde3f8 0.4%,#c9d2f8 50.0%,#d6ddf8 62.8%,#eff2f5 74.0%,#f6f7e9 78.8%,#f9faa2 86.8%,#fafa77 94.0%,#f9f669 99.6%)"></i><i style="background:linear-gradient(90deg,#dde3f8 0.4%,#c7d1f8 49.2%,#d2daf8 61.2%,#eff1f5 73.2%,#f6f7e9 78.0%,#f9fa9f 86.0%,#fafa73 93.2%,#f9f466 99.6%)"></i><i style="background:linear-gradient(90deg,#dce2f8 0.4%,#c5cff8 49.2%,#d1d9f8 61.2%,#eff1f5 72.4%,#f6f7e9 77.2%,#f9faa2 84.4%,#fafa72 91.6%,#f8f162 99.6%)"></i><i style="background:linear-gradient(90deg,#dce2f8 0.4%,#c3cdf8 49.2%,#d1d9f8 61.2%,#f0f2f4 72.4%,#f6f7e9 76.4%,#f9fa9f 83.6%,#fafa72 90.0%,#f8f060 98.8%,#f8ef5f 99.6%)"></i><i style="background:linear-gradient(90deg,#dbe1f8 0.4%,#c1cbf8 49.2%,#ced7f8 60.4%,#eff2f5 71.6%,#f6f7e9 75.6%,#f9faa2 82.0%,#fafa71 88.4%,#f7ee5e 97.2%,#f7ec5c 99.6%)"></i><i style="background:linear-gradient(90deg,#dae1f8 0.4%,#bec9f8 48.4%,#cad3f8 58.8%,#eff1f5 70.8%,#f6f7e9 74.8%,#f9fa9f 81.2%,#fafa71 86.8%,#f7ed5d 94.8%,#f6e858 99.6%)"></i><i style="background:linear-gradient(90deg,#dae0f8 0.4%,#bcc7f8 48.4%,#c7d1f8 58.0%,#eef1f6 70.0%,#f6f7e9 74.0%,#f9fa9c 80.4%,#fafa72 85.2%,#f7eb5b 93.2%,#f5e555 99.6%)"></i><i style="background:linear-gradient(90deg,#d9dff8 0.4%,#b9c4f8 47.6%,#c4cef8 57.2%,#f0f2f4 70.0%,#f6f7e9 73.2%,#f9faa0 78.8%,#fafa73 83.6%,#f7ea5a 90.8%,#f5e252 99.6%)"></i><i style="background:linear-gradient(90deg,#d8dff8 0.4%,#b6c1f8 47.6%,#c1cbf8 56.4%,#e4e9f8 66.0%,#f3f4f0 70.8%,#f6f7e9 72.4%,#f9fa9d 78.0%,#faf96e 82.8%,#f5e555 90.8%,#f4e050 99.6%)"></i><i style="background:linear-gradient(90deg,#d7def8 0.4%,#b8c3f8 38.0%,#b5c0f8 50.8%,#c7d1f8 58.8%,#eff1f5 68.4%,#f6f7e9 71.6%,#f9fa99 77.2%,#faf96f 81.2%,#f5e454 88.4%,#f3dd4d 98.0%,#f3de4e 99.6%)"></i><i style="background:linear-gradient(90deg,#d6ddf8 0.4%,#bac5f8 33.2%,#b0bcf8 48.4%,#bec8f8 56.4%,#eef1f6 67.6%,#f6f7e9 70.8%,#fafa95 76.4%,#fafa70 79.6%,#f5e252 86.8%,#f3db4b 96.4%,#f3dc4c 99.6%)"></i><i style="background:linear-gradient(90deg,#d6ddf8 0.4%,#bac5f8 30.8%,#acb9f8 47.6%,#b9c5f8 55.6%,#e7ecf8 65.2%,#f4f5ee 69.2%,#f6f7e9 70.0%,#f9fa9b 74.8%,#fafa73 78.0%,#f5e353 84.4%,#f2d848 92.4%,#f3db4b 99.6%)"></i><i style="background:linear-gradient(90deg,#d5dcf8 0.4%,#bbc6f8 28.4%,#a8b5f7 46.8%,#b3bff8 54.0%,#d3dbf8 61.2%,#edf1f7 66.0%,#f6f7e9 69.2%,#fafa97 74.0%,#faf96e 77.2%,#f4de4e 83.6%,#f1d545 92.4%,#f2d949 99.6%)"></i><i style="background:linear-gradient(90deg,#d4dbf8 0.4%,#bac5f8 26.8%,#a4b2f7 46.0%,#abb8f8 52.4%,#c7d1f8 58.8%,#eff2f5 66.0%,#f6f7e9 68.4%,#fafa92 73.2%,#fafa70 75.6%,#f4df4f 81.2%,#f1d343 88.4%,#f2d848 99.6%)"></i><i style="background:linear-gradient(90deg,#d3dbf8 0.4%,#bac5f8 25.2%,#9faef7 45.2%,#a6b3f7 51.6%,#c2cdf8 58.0%,#eff1f5 65.2%,#f6f7e8 67.6%,#f9fa9b 71.6%,#fafa75 74.0%,#f4e252 78.8%,#f0d141 85.2%,#f1d242 94.8%,#f2d747 99.6%)"></i><i style="background:linear-gradient(90deg,#d2daf8 0.4%,#b9c4f8 24.4%,#9baaf6 44.4%,#a0aff7 50.8%,#bec8f8 57.2%,#eef1f6 64.4%,#f6f7e8 66.8%,#fafa96 70.8%,#faf96f 73.2%,#f3dd4d 78.0%,#f0cd40 83.6%,#efca40 90.0%,#f2d646 99.6%)"></i><i style="background:linear-gradient(90deg,#d1d9f8 0.4%,#b9c4f8 22.8%,#96a7f6 43.6%,#9aaaf6 50.0%,#afbbf8 54.8%,#eef1f6 63.6%,#f6f7e8 66.0%,#fafa91 70.0%,#fafa74 71.6%,#f4e151 75.6%,#f0ce40 80.4%,#efc340 86.0%,#f1d343 98.0%,#f1d646 99.6%)"></i><i style="background:linear-gradient(90deg,#d0d8f8 0.4%,#b8c3f8 22.0%,#93a4f5 42.8%,#96a7f6 50.0%,#a8b5f7 54.0%,#edf1f7 62.8%,#f6f7e8 65.2%,#f9fa9d 68.4%,#faf96f 70.8%,#f3dd4d 74.8%,#f0cd40 78.0%,#eebd40 82.8%,#efc240 90.0%,#f1d545 99.6%)"></i><i style="background:linear-gradient(90deg,#cfd8f8 0.4%,#b7c2f8 21.2%,#8fa1f5 42.0%,#91a3f5 49.2%,#a1aff7 53.2%,#edf0f7 62.0%,#f6f7e8 64.4%,#fafa98 67.6%,#fafa76 69.2%,#f7ea5a 71.6%,#f0d040 75.6%,#eebb40 79.6%,#edba3f 86.8%,#f1d444 98.8%,#f1d545 99.6%)"></i><i style="background:linear-gradient(90deg,#ced7f8 0.4%,#b4c0f8 21.2%,#8b9ff4 41.2%,#8c9ff4 48.4%,#9aa9f6 52.4%,#ecf0f8 61.2%,#f6f7e8 63.6%,#fafa93 66.8%,#fafa6f 68.4%,#f3de4e 71.6%,#f0ce40 74.0%,#edb93f 77.2%,#ebb33e 82.8%,#eec140 91.6%,#f1d545 99.6%)"></i><i style="background:linear-gradient(90deg,#cdd6f8 0.4%,#b2bef8 21.2%,#889cf4 40.4%,#869bf4 47.6%,#98a8f6 52.4%,#ebeff8 60.4%,#f3f4f0 62.0%,#f6f7e8 62.8%,#fafa8e 66.0%,#f9f76b 67.6%,#f2d949 70.8%,#efc440 73.2%,#ebb33e 76.4%,#e9ae3d 82.0%,#efc240 92.4%,#f1d545 99.6%)"></i><i style="background:linear-gradient(90deg,#ccd5f8 0.4%,#afbbf8 21.2%,#8398f3 40.4%,#8196f3 46.8%,#91a3f5 51.6%,#b1bdf8 54.8%,#e9edf8 59.6%,#f3f4f1 61.2%,#f6f7e8 62.0%,#fafa88 65.2%,#fafa73 66.0%,#f3da4a 69.2%,#f0cc40 70.8%,#ecb63f 73.2%,#e7a73b 78.8%,#eebc40 90.8%,#f1d444 98.8%,#f1d545 99.6%)"></i><i style="background:linear-gradient(90deg,#cbd4f8 0.4%,#aebaf8 20.4%,#7d94f3 41.2%,#7e94f3 47.6%,#90a2f5 51.6%,#aab7f7 54.0%,#e7ecf8 58.8%,#f2f3f1 60.4%,#f6f7e7 61.2%,#f9fa99 63.6%,#faf96e 65.2%,#f1d545 68.4%,#efc240 70.0%,#e8ab3c 73.2%,#e69d39 77.2%,#e7a43b 82.0%,#f0cd40 95.6%,#f1d545 99.6%)"></i><i style="background:linear-gradient(90deg,#cad3f8 0.4%,#acb9f8 19.6%,#768ef2 42.0%,#7890f2 46.8%,#8a9df4 50.8%,#a2b0f7 53.2%,#e5eaf8 58.0%,#f2f3f2 59.6%,#f6f7e7 60.4%,#fafa94 62.8%,#fafa7c 63.6%,#f7ed5d 65.2%,#f0d040 67.6%,#edb93f 69.2%,#e59738 74.0%,#e59337 78.0%,#f1d343 98.0%,#f1d646 99.6%)"></i><i style="background:linear-gradient(90deg,#c9d3f8 0.4%,#abb8f8 18.8%,#6d85f0 42.8%,#728af1 46.8%,#899df4 50.8%,#a6b4f7 53.2%,#e4e9f8 57.2%,#f2f3f2 58.8%,#f6f7e7 59.6%,#fafa8f 62.0%,#fafa75 62.8%,#f6e757 64.4%,#f1d242 66.0%,#edb93f 67.6%,#e49337 71.6%,#e38a35 74.8%,#e49236 79.6%,#eab03d 86.8%,#f1d545 98.8%,#f2d646 99.6%)"></i><i style="background:linear-gradient(90deg,#c8d2f8 0.4%,#aab7f8 18.0%,#7088f1 38.0%,#657def 43.6%,#6c84f0 46.8%,#8a9df4 50.8%,#adbaf8 53.2%,#ecf0f8 57.2%,#f2f3f2 58.0%,#f6f7e7 58.8%,#fafa8a 61.2%,#faf96f 62.0%,#f2d747 64.4%,#efcb40 65.2%,#ebb23e 66.8%,#e38d35 70.0%,#e18233 73.2%,#e38935 78.0%,#eab03d 86.8%,#f1d444 98.0%,#f2d747 99.6%)"></i><i style="background:linear-gradient(90deg,#c7d1f8 0.4%,#a9b6f7 17.2%,#728af1 35.6%,#5e76ee 42.0%,#637bef 46.0%,#7c93f2 49.2%,#97a7f6 51.6%,#e0e5f8 55.6%,#ecf0f8 56.4%,#f1f3f3 57.2%,#f6f7e7 58.0%,#fafa84 60.4%,#f9f76b 61.2%,#f0d242 63.6%,#ebb43e 65.2%,#e49036 67.6%,#e07b32 70.8%,#df7932 74.0%,#e59537 81.2%,#e9ae3d 86.0%,#f1d343 97.2%,#f2d848 99.6%)"></i><i style="background:linear-gradient(90deg,#c6d0f8 0.4%,#a8b5f7 16.4%,#758df2 33.2%,#566eee 41.2%,#566fee 44.4%,#6a82f0 47.6%,#90a2f5 50.8%,#eaeef8 55.6%,#f1f3f3 56.4%,#f6f7e7 57.2%,#fafa7e 59.6%,#f9f467 60.4%,#f2d848 62.0%,#efc940 62.8%,#e48f36 66.0%,#de7034 69.2%,#dc6a35 71.6%,#df7933 75.6%,#e69f39 82.8%,#ebb23e 86.8%,#f1d444 97.2%,#f2d949 99.6%)"></i><i style="background:linear-gradient(90deg,#c4cef8 0.4%,#a7b5f7 15.6%,#768ef2 31.6%,#4e68ee 40.4%,#4d66ee 43.6%,#5a72ee 46.0%,#7f95f3 49.2%,#97a7f6 50.8%,#dbe1f8 54.0%,#e9edf8 54.8%,#f1f2f3 55.6%,#f6f7e6 56.4%,#fafa79 58.8%,#f8f263 59.6%,#f1d343 61.2%,#e49036 64.4%,#de7034 66.8%,#da5e37 69.2%,#db6136 72.4%,#e28834 78.8%,#e9ad3d 85.2%,#f1d444 96.4%,#f2d949 99.6%)"></i><i style="background:linear-gradient(90deg,#c3cdf8 0.4%,#a7b4f7 14.8%,#738bf1 30.8%,#4761ee 39.6%,#455eee 42.8%,#4f69ee 45.2%,#6c84f0 47.6%,#91a3f5 50.0%,#d9dff8 53.2%,#e7ecf8 54.0%,#f1f2f3 54.8%,#f6f7e6 55.6%,#fafa73 58.0%,#f8ef5f 58.8%,#f0ce40 60.4%,#edb83f 61.2%,#e8ab3c 62.0%,#e59537 62.8%,#e07a32 64.4%,#da6036 66.0%,#d85037 68.4%,#d85338 70.8%,#de7433 75.6%,#e9ac3c 84.4%,#f1d343 95.6%,#f3da4a 99.6%)"></i><i style="background:linear-gradient(90deg,#c1ccf8 0.4%,#a6b4f7 14.0%,#748cf1 29.2%,#435bed 38.8%,#3f57ec 42.0%,#4660ee 44.4%,#637bef 46.8%,#9cabf6 50.0%,#d6ddf8 52.4%,#e6ebf8 53.2%,#f0f2f4 54.0%,#f6f7e6 54.8%,#fafa93 56.4%,#faf96f 57.2%,#f2d949 58.8%,#efc640 59.6%,#e38b35 62.0%,#dd6b35 63.6%,#d74835 66.0%,#d64032 68.4%,#d85237 71.6%,#e18133 77.2%,#e9ad3d 84.4%,#f1d444 95.6%,#f3db4b 99.6%)"></i><i style="background:linear-gradient(90deg,#c0cbf8 0.4%,#a5b3f7 13.2%,#728af1 28.4%,#415aed 37.2%,#3a50eb 41.2%,#4058ed 43.6%,#4f68ee 45.2%,#879bf4 48.4%,#96a7f6 49.2%,#d4dcf8 51.6%,#e5eaf8 52.4%,#f0f2f4 53.2%,#f6f7e6 54.0%,#fafa90 55.6%,#faf86c 56.4%,#f1d545 58.0%,#e18333 61.2%,#d74f36 63.6%,#d53930 65.2%,#d5332f 67.6%,#d74835 70.8%,#dc6735 74.0%,#e18333 77.2%,#e9ac3d 83.6%,#f1d444 94.8%,#f3dc4c 99.6%)"></i><i style="background:linear-gradient(90deg,#bfc9f8 0.4%,#a2b1f7 13.2%,#758df2 26.8%,#3e56ec 36.4%,#364bea 40.4%,#3b52ec 42.8%,#4761ee 44.4%,#92a4f5 48.4%,#d2daf8 50.8%,#f0f2f4 52.4%,#f6f7e6 53.2%,#fafa8d 54.8%,#f9f66a 55.6%,#f1d242 57.2%,#edb93f 58.0%,#e8a73b 58.8%,#e38d35 59.6%,#e07c32 60.4%,#d85237 62.0%,#d5342f 63.6%,#d32a2c 65.2%,#d42c2d 67.6%,#d74935 70.8%,#de7333 74.8%,#e8ab3c 82.8%,#f1d444 94.0%,#f3de4e 99.6%)"></i><i style="background:linear-gradient(90deg,#bdc8f8 0.4%,#a2b0f7 12.4%,#748cf1 26.0%,#3f57ec 34.8%,#3447ea 38.8%,#374deb 42.0%,#425bed 43.6%,#5d75ee 45.2%,#8fa1f5 47.6%,#e3e8f8 50.8%,#f0f2f4 51.6%,#f6f7e6 52.4%,#fafa8a 54.0%,#f9f568 54.8%,#f0cf40 56.4%,#de7234 59.6%,#d95b37 60.4%,#d5352f 62.0%,#d32a2c 62.8%,#cd272b 65.2%,#d42a2c 67.6%,#da5e36 72.4%,#e17f33 75.6%,#e9ae3d 82.8%,#f1d343 93.2%,#f4df4f 99.6%)"></i><i style="background:linear-gradient(90deg,#bcc7f8 0.4%,#9faef7 12.4%,#738bf1 25.2%,#3d55ec 34.0%,#3347e9 37.2%,#3549ea 41.2%,#4862ee 43.6%,#8da0f5 46.8%,#e2e8f8 50.0%,#eff2f5 50.8%,#f6f7e5 51.6%,#fafa89 53.2%,#f9f466 54.0%,#f4df4f 54.8%,#f0cc40 55.6%,#e18333 58.0%,#d85338 59.6%,#d42c2d 61.2%,#c9262b 63.6%,#d1292c 66.8%,#d5352f 68.4%,#da5c37 71.6%,#e18333 75.6%,#e9ad3d 82.0%,#f1d343 92.4%,#f4e050 99.6%)"></i><i style="background:linear-gradient(90deg,#bac5f8 0.4%,#9cacf6 12.4%,#738bf1 24.4%,#3d53ec 33.2%,#3346e8 36.4%,#3347e9 40.4%,#3d54ec 42.0%,#4660ee 42.8%,#7b92f2 45.2%,#a0aff7 46.8%,#e2e7f8 49.2%,#eff2f5 50.0%,#f6f7e5 50.8%,#fafa87 52.4%,#f9f365 53.2%,#f4de4e 54.0%,#efca40 54.8%,#e18033 57.2%,#d74e36 58.8%,#d53830 59.6%,#d2292c 60.4%,#c7252b 62.8%,#cf282b 66.0%,#d32a2c 66.8%,#d95a37 70.8%,#e18233 74.8%,#e9ad3d 81.2%,#f1d343 91.6%,#f4e151 99.6%)"></i><i style="background:linear-gradient(90deg,#b9c4f8 0.4%,#9aa9f6 12.4%,#728af1 23.6%,#3c53ec 32.4%,#3346e8 35.6%,#3347e9 39.6%,#3d54ec 41.2%,#455fee 42.0%,#7a92f2 44.4%,#9faef7 46.0%,#e2e7f8 48.4%,#eff2f5 49.2%,#f6f7e5 50.0%,#fafa87 51.6%,#f9f365 52.4%,#f3de4e 53.2%,#efc940 54.0%,#e17f33 56.4%,#d74c36 58.0%,#d5362f 58.8%,#d1292c 59.6%,#c6242a 62.0%,#ce282b 65.2%,#d5312e 66.8%,#d95937 70.0%,#e18233 74.0%,#e9ad3d 80.4%,#f1d343 90.8%,#f5e353 99.6%)"></i><i style="background:linear-gradient(90deg,#b7c3f8 0.4%,#8ea0f5 15.6%,#738bf1 22.8%,#3d53ec 31.6%,#3346e8 34.8%,#3347e9 38.8%,#3d54ec 40.4%,#4660ee 41.2%,#7b92f2 43.6%,#a0aff7 45.2%,#e2e7f8 47.6%,#eff2f5 48.4%,#f6f7e5 49.2%,#fafa87 50.8%,#f9f365 51.6%,#f4de4e 52.4%,#efca40 53.2%,#e18033 55.6%,#d74e36 57.2%,#d53830 58.0%,#d2292c 58.8%,#c7252b 61.2%,#cf282b 64.4%,#d32a2c 65.2%,#d95a37 69.2%,#e18233 73.2%,#e9ad3d 79.6%,#f1d343 90.0%,#f5e454 99.6%)"></i><i style="background:linear-gradient(90deg,#b6c1f8 0.4%,#869bf4 17.2%,#738bf1 22.0%,#3d55ec 30.8%,#3347e9 34.0%,#3549ea 38.0%,#4862ee 40.4%,#8da0f5 43.6%,#e2e8f8 46.8%,#eff2f5 47.6%,#f6f7e5 48.4%,#fafa89 50.0%,#f9f466 50.8%,#f4df4f 51.6%,#f0cc40 52.4%,#e18333 54.8%,#d85338 56.4%,#d42c2d 58.0%,#c9262b 60.4%,#d1292c 63.6%,#d5352f 65.2%,#da5c37 68.4%,#e18333 72.4%,#e9ad3d 78.8%,#f1d343 89.2%,#f5e656 99.6%)"></i><i style="background:linear-gradient(90deg,#b5c0f8 0.4%,#7b92f2 19.6%,#4c65ee 27.6%,#3449ea 33.2%,#3449ea 36.4%,#425bed 38.8%,#5d75ee 40.4%,#8fa1f5 42.8%,#e3e8f8 46.0%,#f0f2f4 46.8%,#f6f7e6 47.6%,#fafa8a 49.2%,#f9f568 50.0%,#f0cf40 51.6%,#de7234 54.8%,#d95b37 55.6%,#d5352f 57.2%,#d32a2c 58.0%,#cd272b 60.4%,#d42a2c 62.8%,#da5e36 67.6%,#e17f33 70.8%,#e9ae3d 78.0%,#f1d343 88.4%,#f6e757 99.6%)"></i><i style="background:linear-gradient(90deg,#b3bff8 0.4%,#7991f2 19.6%,#3e56ec 30.0%,#364bea 34.0%,#3b52ec 36.4%,#4761ee 38.0%,#92a4f5 42.0%,#d2daf8 44.4%,#f0f2f4 46.0%,#f6f7e6 46.8%,#fafa8d 48.4%,#f9f66a 49.2%,#f1d242 50.8%,#edb93f 51.6%,#e8a73b 52.4%,#e38d35 53.2%,#e07c32 54.0%,#d85237 55.6%,#d5342f 57.2%,#d32a2c 58.8%,#d42c2d 61.2%,#d74935 64.4%,#de7333 68.4%,#e8ab3c 76.4%,#f1d444 87.6%,#f6e959 99.6%)"></i><i style="background:linear-gradient(90deg,#b2bef8 0.4%,#778ff2 19.6%,#415aed 29.2%,#3a50eb 33.2%,#4058ed 35.6%,#4f68ee 37.2%,#879bf4 40.4%,#96a7f6 41.2%,#d4dcf8 43.6%,#e5eaf8 44.4%,#f0f2f4 45.2%,#f6f7e6 46.0%,#fafa90 47.6%,#faf86c 48.4%,#f1d545 50.0%,#e18333 53.2%,#d74f36 55.6%,#d53930 57.2%,#d5332f 59.6%,#d74835 62.8%,#dc6735 66.0%,#e18333 69.2%,#e9ac3d 75.6%,#f1d444 86.8%,#f7ea5a 99.6%)"></i><i style="background:linear-gradient(90deg,#b1bdf8 0.4%,#748cf1 19.6%,#435bed 29.2%,#3f57ec 32.4%,#4660ee 34.8%,#637bef 37.2%,#9cabf6 40.4%,#d6ddf8 42.8%,#e6ebf8 43.6%,#f0f2f4 44.4%,#f6f7e6 45.2%,#fafa93 46.8%,#faf96f 47.6%,#f2d949 49.2%,#efc640 50.0%,#e38b35 52.4%,#dd6b35 54.0%,#d74835 56.4%,#d64032 58.8%,#d85237 62.0%,#e18133 67.6%,#e9ad3d 74.8%,#f1d444 86.0%,#f7ec5c 99.6%)"></i><i style="background:linear-gradient(90deg,#afbbf8 0.4%,#738bf1 19.6%,#4761ee 28.4%,#455eee 31.6%,#4f69ee 34.0%,#6c84f0 36.4%,#91a3f5 38.8%,#d9dff8 42.0%,#e7ecf8 42.8%,#f1f2f3 43.6%,#f6f7e6 44.4%,#fafa73 46.8%,#f8ef5f 47.6%,#f0ce40 49.2%,#edb83f 50.0%,#e8ab3c 50.8%,#e59537 51.6%,#e07a32 53.2%,#da6036 54.8%,#d85037 57.2%,#d85338 59.6%,#de7433 64.4%,#e9ac3c 73.2%,#f1d343 84.4%,#f7ed5d 99.6%)"></i><i style="background:linear-gradient(90deg,#aebaf8 0.4%,#768ef2 18.8%,#4e68ee 27.6%,#4d66ee 30.8%,#5a72ee 33.2%,#7f95f3 36.4%,#97a7f6 38.0%,#dbe1f8 41.2%,#e9edf8 42.0%,#f1f2f3 42.8%,#f6f7e6 43.6%,#fafa79 46.0%,#f8f263 46.8%,#f1d343 48.4%,#e49036 51.6%,#de7034 54.0%,#da5e37 56.4%,#db6136 59.6%,#e28834 66.0%,#e9ad3d 72.4%,#f1d444 83.6%,#f8ef5f 99.6%)"></i><i style="background:linear-gradient(90deg,#acb9f8 0.4%,#758df2 18.8%,#566eee 26.8%,#566fee 30.0%,#6a82f0 33.2%,#90a2f5 36.4%,#eaeef8 41.2%,#f1f3f3 42.0%,#f6f7e7 42.8%,#fafa7e 45.2%,#f9f467 46.0%,#f2d848 47.6%,#efc940 48.4%,#e48f36 51.6%,#de7034 54.8%,#dc6a35 57.2%,#df7933 61.2%,#e69f39 68.4%,#ebb23e 72.4%,#f1d444 82.8%,#f8f060 99.6%)"></i><i style="background:linear-gradient(90deg,#abb8f8 0.4%,#728af1 19.6%,#5e76ee 26.0%,#637bef 30.0%,#7c93f2 33.2%,#97a7f6 35.6%,#e0e5f8 39.6%,#ecf0f8 40.4%,#f1f3f3 41.2%,#f6f7e7 42.0%,#fafa84 44.4%,#f9f76b 45.2%,#f0d242 47.6%,#ebb43e 49.2%,#e49036 51.6%,#e07b32 54.8%,#df7932 58.0%,#e59537 65.2%,#e9ae3d 70.0%,#f1d343 81.2%,#f8f161 99.6%)"></i><i style="background:linear-gradient(90deg,#aab7f8 0.4%,#7088f1 20.4%,#657def 26.0%,#6c84f0 29.2%,#8a9df4 33.2%,#adbaf8 35.6%,#ecf0f8 39.6%,#f2f3f2 40.4%,#f6f7e7 41.2%,#fafa8a 43.6%,#faf96f 44.4%,#f2d747 46.8%,#efcb40 47.6%,#ebb23e 49.2%,#e38d35 52.4%,#e18233 55.6%,#e38935 60.4%,#eab03d 69.2%,#f1d444 80.4%,#f8f263 99.6%)"></i><i style="background:linear-gradient(90deg,#a9b6f7 0.4%,#6d85f0 23.6%,#728af1 27.6%,#899df4 31.6%,#a6b4f7 34.0%,#e4e9f8 38.0%,#f2f3f2 39.6%,#f6f7e7 40.4%,#fafa8f 42.8%,#fafa75 43.6%,#f6e757 45.2%,#f1d242 46.8%,#edb93f 48.4%,#e49337 52.4%,#e38a35 55.6%,#e49236 60.4%,#eab03d 67.6%,#f1d545 79.6%,#f8f264 99.6%)"></i><i style="background:linear-gradient(90deg,#a8b6f7 0.4%,#768ef2 21.2%,#7890f2 26.0%,#8a9df4 30.0%,#a2b0f7 32.4%,#e5eaf8 37.2%,#f2f3f2 38.8%,#f6f7e7 39.6%,#fafa94 42.0%,#fafa7c 42.8%,#f7ed5d 44.4%,#f0d040 46.8%,#edb93f 48.4%,#e59738 53.2%,#e59337 57.2%,#f1d343 77.2%,#f9f365 99.6%)"></i><i style="background:linear-gradient(90deg,#a8b5f7 0.4%,#7c93f2 19.6%,#7e94f3 25.2%,#90a2f5 29.2%,#aab7f7 31.6%,#e7ecf8 36.4%,#f2f3f1 38.0%,#f6f7e7 38.8%,#f9fa99 41.2%,#faf96e 42.8%,#f1d545 46.0%,#efc240 47.6%,#e8ab3c 50.8%,#e69d39 54.8%,#e7a43b 59.6%,#f0cd40 73.2%,#f8f264 97.2%,#f9f466 99.6%)"></i><i style="background:linear-gradient(90deg,#a7b5f7 0.4%,#8197f3 18.0%,#8499f3 24.4%,#97a7f6 28.4%,#e9edf8 35.6%,#f3f4f1 37.2%,#f6f7e8 38.0%,#fafa88 41.2%,#fafa73 42.0%,#f3da4a 45.2%,#f0cc40 46.8%,#ecb63f 49.2%,#e7a73b 54.8%,#eebc40 66.8%,#f1d444 74.8%,#f9f365 97.2%,#f9f568 99.6%)"></i><i style="background:linear-gradient(90deg,#a7b4f7 0.4%,#869af4 16.4%,#889cf4 22.8%,#98a8f6 26.8%,#ebeff8 34.8%,#f3f4f0 36.4%,#f6f7e8 37.2%,#fafa8e 40.4%,#f9f76b 42.0%,#f2d949 45.2%,#efc440 47.6%,#ebb33e 50.8%,#e9ae3d 56.4%,#efc240 66.8%,#f1d545 74.0%,#f9f365 96.4%,#f9f569 99.6%)"></i><i style="background:linear-gradient(90deg,#a7b4f7 0.4%,#8b9ef4 14.8%,#8c9ff4 21.2%,#9aa9f6 25.2%,#ecf0f8 34.0%,#f6f7e8 36.4%,#fafa93 39.6%,#fafa6f 41.2%,#f3de4e 44.4%,#f0ce40 46.8%,#edb93f 50.0%,#ebb33e 55.6%,#eec140 64.4%,#f1d545 72.4%,#f9f365 94.8%,#f9f66a 99.6%)"></i><i style="background:linear-gradient(90deg,#a7b4f7 0.4%,#8ea1f5 14.0%,#91a3f5 20.4%,#a1aff7 24.4%,#edf0f7 33.2%,#f6f7e8 35.6%,#fafa98 38.8%,#fafa76 40.4%,#f7ea5a 42.8%,#f0d040 46.8%,#eebb40 50.8%,#edba3f 58.0%,#f1d444 70.0%,#f9f365 94.0%,#f9f76b 99.6%)"></i><i style="background:linear-gradient(90deg,#a7b5f7 0.4%,#92a4f5 13.2%,#98a8f6 20.4%,#b3bff8 25.2%,#edf1f7 32.4%,#f6f7e8 34.8%,#f9fa9d 38.0%,#faf96f 40.4%,#f3dd4d 44.4%,#f0cd40 47.6%,#eebd40 52.4%,#efc240 59.6%,#f1d545 69.2%,#f9f466 93.2%,#faf86c 99.6%)"></i><i style="background:linear-gradient(90deg,#a8b5f7 0.4%,#96a7f6 12.4%,#9cabf6 18.8%,#b9c4f8 24.4%,#eef1f6 31.6%,#f6f7e8 34.0%,#fafa91 38.0%,#fafa74 39.6%,#f4e151 43.6%,#f0ce40 48.4%,#efc340 54.0%,#f1d343 66.0%,#f9f365 91.6%,#faf86d 99.6%)"></i><i style="background:linear-gradient(90deg,#a9b6f7 0.4%,#9aaaf6 12.4%,#a5b3f7 18.8%,#c9d2f8 25.2%,#eef1f6 30.8%,#f6f7e8 33.2%,#fafa96 37.2%,#faf96f 39.6%,#f3dd4d 44.4%,#f0cd40 50.0%,#efca40 56.4%,#f2d848 67.6%,#f9f466 90.8%,#faf96e 99.6%)"></i><i style="background:linear-gradient(90deg,#aab7f8 0.4%,#9faef7 11.6%,#abb8f8 18.0%,#d2d9f8 25.2%,#eff1f5 30.0%,#f6f7e8 32.4%,#f9fa9b 36.4%,#fafa75 38.8%,#f4e252 43.6%,#f0d141 50.0%,#f1d242 59.6%,#f9f467 90.0%,#fafa6f 99.6%)"></i><i style="background:linear-gradient(90deg,#acb8f8 0.4%,#a4b2f7 10.8%,#b1bdf8 17.2%,#d5dcf8 24.4%,#eff2f5 29.2%,#f6f7e9 31.6%,#fafa92 36.4%,#fafa70 38.8%,#f4df4f 44.4%,#f1d343 51.6%,#f3dc4c 66.8%,#f9f467 89.2%,#fafa71 99.6%)"></i><i style="background:linear-gradient(90deg,#aebaf8 0.4%,#a9b6f7 10.8%,#bbc6f8 18.0%,#edf1f7 27.6%,#f6f7e9 30.8%,#fafa97 35.6%,#faf96e 38.8%,#f4de4e 45.2%,#f1d545 54.0%,#f6e959 74.8%,#fafa70 98.0%,#fafa72 99.6%)"></i><i style="background:linear-gradient(90deg,#b0bcf8 0.4%,#aebaf8 10.0%,#bfcaf8 17.2%,#eef1f6 26.8%,#f6f7e9 30.0%,#f9fa9b 34.8%,#fafa73 38.0%,#f5e353 44.4%,#f2d848 52.4%,#f5e555 70.0%,#f9f76b 90.0%,#fafa74 99.6%)"></i><i style="background:linear-gradient(90deg,#b2bdf8 0.4%,#b4c0f8 10.8%,#cdd6f8 18.8%,#eef1f6 26.0%,#f6f7e9 29.2%,#fafa95 34.8%,#fafa70 38.0%,#f5e252 45.2%,#f3db4b 54.8%,#f8f161 78.8%,#fafa76 99.6%)"></i><i style="background:linear-gradient(90deg,#b4bff8 0.4%,#b8c3f8 10.0%,#d3dbf8 18.8%,#eff1f5 25.2%,#f6f7e9 28.4%,#f9fa99 34.0%,#faf96f 38.0%,#f5e454 45.2%,#f3dd4d 54.8%,#faf96f 92.4%,#fafa78 99.6%)"></i><i style="background:linear-gradient(90deg,#b6c2f8 0.4%,#bdc8f8 10.0%,#dae0f8 18.8%,#eff2f5 24.4%,#f6f7e9 27.6%,#f9fa9d 33.2%,#faf96e 38.0%,#f5e555 46.0%,#f4e050 56.4%,#faf96f 90.8%,#fafa79 99.6%)"></i><i style="background:linear-gradient(90deg,#b9c4f8 0.4%,#c2cdf8 10.0%,#e2e8f8 19.6%,#f0f2f4 23.6%,#f6f7e9 26.8%,#f9faa0 32.4%,#fafa73 37.2%,#f7ea5a 44.4%,#f5e353 54.8%,#fafa73 93.2%,#fafa7b 99.6%)"></i><i style="background:linear-gradient(90deg,#bcc7f8 0.4%,#c7d1f8 10.0%,#eef1f6 22.0%,#f6f7e9 26.0%,#f9fa9c 32.4%,#fafa72 37.2%,#f7eb5b 45.2%,#f5e656 56.4%,#fafa76 94.0%,#fafa7c 99.6%)"></i><i style="background:linear-gradient(90deg,#bfc9f8 0.4%,#ced6f8 10.8%,#eff1f5 21.2%,#f6f7e9 25.2%,#f9fa9f 31.6%,#fafa71 37.2%,#f7ed5d 45.2%,#f6e959 57.2%,#fafa78 94.0%,#fafa7e 99.6%)"></i><i style="background:linear-gradient(90deg,#c2ccf8 0.4%,#d2daf8 10.8%,#eff2f5 20.4%,#f6f7e9 24.4%,#f9faa2 30.8%,#fafa71 37.2%,#f7ee5e 46.0%,#f7ec5c 59.6%,#fafa78 93.2%,#fafa7f 99.6%)"></i><i style="background:linear-gradient(90deg,#c5cff8 0.4%,#d7def8 10.8%,#f0f2f4 19.6%,#f6f7e9 23.6%,#f9fa9f 30.8%,#fafa72 37.2%,#f8f060 46.0%,#f8ef5f 60.4%,#fafa7a 93.2%,#fafa81 99.6%)"></i><i style="background:linear-gradient(90deg,#c8d2f8 0.4%,#dce2f8 10.8%,#f0f2f4 18.8%,#f6f7e9 22.8%,#f9faa2 30.0%,#fafa72 37.2%,#f8f162 46.0%,#f8f162 62.0%,#fafa7b 92.4%,#fafa82 99.6%)"></i><i style="background:linear-gradient(90deg,#cbd4f8 0.4%,#e3e9f8 12.4%,#f3f4f1 19.6%,#f6f7e9 22.0%,#f9fa9f 30.0%,#fafa73 37.2%,#f8f263 46.8%,#f9f466 66.0%,#fafa80 95.6%,#fafa83 99.6%)"></i><i style="background:linear-gradient(90deg,#ced7f8 0.4%,#eff2f5 16.4%,#f6f7e9 21.2%,#f9faa2 29.2%,#fafa77 36.4%,#f9f568 42.8%,#f8f264 58.0%,#fafa78 86.8%,#fafa85 99.6%)"></i><i style="background:linear-gradient(90deg,#d1d9f8 0.4%,#f0f2f4 15.6%,#f6f7e9 20.4%,#f9faa5 28.4%,#fafa7b 35.6%,#f9f76c 41.2%,#f9f365 55.6%,#fafa78 84.4%,#fafa86 99.6%)"></i><i style="background:linear-gradient(90deg,#d4dcf8 0.4%,#eff1f5 14.0%,#f6f7e9 19.6%,#f9faa2 28.4%,#fafa79 36.4%,#f9f76b 42.8%,#f9f568 59.6%,#fafa7a 85.2%,#fafa87 99.6%)"></i><i style="background:linear-gradient(90deg,#d7def8 0.4%,#f0f2f4 14.0%,#f6f7e9 18.8%,#f9faa0 28.4%,#fafa79 36.4%,#faf86c 42.8%,#f9f66a 60.4%,#fafa7d 86.0%,#fafa89 99.6%)"></i><i style="background:linear-gradient(90deg,#dae1f8 0.4%,#eff2f5 12.4%,#f6f7e9 18.0%,#f9faa2 27.6%,#fafa7b 36.4%,#faf86d 43.6%,#faf86d 63.6%,#fafa8a 99.6%)"></i><i style="background:linear-gradient(90deg,#dde3f8 0.4%,#f1f2f3 12.4%,#f6f7e9 17.2%,#f9faa5 26.8%,#fafa7e 35.6%,#faf96e 43.6%,#faf96f 64.4%,#fafa8b 99.6%)"></i><i style="background:linear-gradient(90deg,#e0e5f8 0.4%,#f1f2f3 11.6%,#f6f7e9 16.4%,#f9faa3 26.8%,#fafa7f 35.6%,#faf96f 45.2%,#fafa72 67.6%,#fafa8c 99.6%)"></i><i style="background:linear-gradient(90deg,#e2e7f8 0.4%,#f2f3f2 11.6%,#f6f7e9 15.6%,#f9faa6 26.0%,#fafa80 35.6%,#fafa70 46.0%,#fafa74 66.8%,#fafa8e 99.6%)"></i><i style="background:linear-gradient(90deg,#e5e9f8 0.4%,#f3f4f0 11.6%,#f6f7e4 15.6%,#f9faa4 26.0%,#fafa81 35.6%,#fafa71 46.8%,#fafa75 66.0%,#fafa8f 99.6%)"></i><i style="background:linear-gradient(90deg,#e7ecf8 0.4%,#f5f6ed 12.4%,#f6f7e5 14.8%,#f9faa3 26.0%,#fafa82 35.6%,#fafa73 47.6%,#fafa7a 69.2%,#fafa90 99.6%)"></i><i style="background:linear-gradient(90deg,#e9eef8 0.4%,#f5f6eb 12.4%,#f9faa2 26.0%,#fafa82 36.4%,#fafa75 49.2%,#fafa80 75.6%,#fafa91 99.6%)"></i><i style="background:linear-gradient(90deg,#ebeff8 0.4%,#f6f7ea 12.4%,#f9faa4 25.2%,#fafa84 35.6%,#fafa77 48.4%,#fafa81 74.0%,#fafa92 99.6%)"></i><i style="background:linear-gradient(90deg,#edf0f7 0.4%,#f6f7ea 11.6%,#f9faa6 24.4%,#fafa86 35.6%,#fafa79 49.2%,#fafa85 78.0%,#fafa93 99.6%)"></i><i style="background:linear-gradient(90deg,#eef1f6 0.4%,#f6f7ea 10.8%,#f9faa5 24.4%,#fafa87 35.6%,#fafa7b 50.0%,#fafa89 82.8%,#fafa94 99.6%)"></i><i style="background:linear-gradient(90deg,#eff1f5 0.4%,#f6f7ea 10.0%,#f9faa7 23.6%,#fafa89 34.8%,#fafa7d 49.2%,#fafa8a 81.2%,#fafa95 99.6%)"></i><i style="background:linear-gradient(90deg,#eff2f5 0.4%,#f6f7e6 10.0%,#f9faa7 23.6%,#fafa89 35.6%,#fafa7e 50.8%,#fafa92 92.4%,#fafa96 99.6%)"></i><i style="background:linear-gradient(90deg,#f0f2f4 0.4%,#f6f7e6 9.2%,#f8faa9 22.8%,#fafa8b 34.8%,#fafa80 50.0%,#fafa91 88.4%,#fafa97 99.6%)"></i><i style="background:linear-gradient(90deg,#f1f3f3 0.4%,#f6f7e6 8.4%,#f9faa8 22.8%,#fafa8b 35.6%,#fafa82 52.4%,#fafa98 99.6%)"></i><i style="background:linear-gradient(90deg,#f2f3f2 0.4%,#f6f7e6 7.6%,#f9faa7 22.8%,#fafa8c 35.6%,#fafa84 53.2%,#f9fa99 99.6%)"></i><i style="background:linear-gradient(90deg,#f2f3f1 0.4%,#f6f7e6 6.8%,#f8faa9 22.0%,#fafa8e 35.6%,#fafa85 54.0%,#f9fa9a 99.6%)"></i><i style="background:linear-gradient(90deg,#f3f4f0 0.4%,#f6f7e6 6.0%,#f8faa9 22.0%,#fafa8f 35.6%,#fafa87 54.0%,#f9fa9b 99.6%)"></i><i style="background:linear-gradient(90deg,#f4f5ef 0.4%,#f6f7e6 5.2%,#f8faa8 22.0%,#fafa8f 36.4%,#fafa89 56.4%,#f9fa9b 99.6%)"></i><i style="background:linear-gradient(90deg,#f4f5ee 0.4%,#f6f7e4 5.2%,#f8faaa 21.2%,#fafa91 35.6%,#fafa8a 55.6%,#f9fa9c 99.6%)"></i><i style="background:linear-gradient(90deg,#f5f6ed 0.4%,#f7f8e1 5.2%,#f8faaa 21.2%,#fafa91 36.4%,#fafa8c 58.0%,#f9fa9d 99.6%)"></i><i style="background:linear-gradient(90deg,#f5f6ec 0.4%,#f8f9d3 8.4%,#f9faa8 22.0%,#fafa92 37.2%,#fafa8e 60.4%,#f9fa9e 99.6%)"></i><i style="background:linear-gradient(90deg,#f6f7eb 0.4%,#f8faa9 21.2%,#fafa93 37.2%,#fafa8f 61.2%,#f9fa9f 99.6%)"></i><i style="background:linear-gradient(90deg,#f6f7ea 0.4%,#f8faab 20.4%,#fafa94 36.4%,#fafa91 60.4%,#f9fa9f 99.6%)"></i></div><div class="hm" style="left:350px;top:5px;width:127px;height:125px"><i style="background:linear-gradient(90deg,#e7ebf8 0.4%,#ced7f8 57.1%,#c9d2f8 83.9%,#d5dcf8 99.6%)"></i><i style="background:linear-gradient(90deg,#e6ebf8 0.4%,#ced7f8 54.7%,#c7d1f8 81.5%,#d5ddf8 99.6%)"></i><i style="background:linear-gradient(90deg,#e6ebf8 0.4%,#cfd7f8 52.4%,#c6d0f8 80.7%,#d6ddf8 99.6%)"></i><i style="background:linear-gradient(90deg,#e6ebf8 0.4%,#cfd7f8 50.8%,#c4cef8 79.1%,#d5dcf8 98.8%,#d6ddf8 99.6%)"></i><i style="background:linear-gradient(90deg,#e6ebf8 0.4%,#cfd7f8 49.2%,#c3cdf8 78.3%,#d4dcf8 98.0%,#d7def8 99.6%)"></i><i style="background:linear-gradient(90deg,#e5eaf8 0.4%,#cfd7f8 47.6%,#c1ccf8 76.8%,#d1d9f8 95.7%,#d7def8 99.6%)"></i><i style="background:linear-gradient(90deg,#e5eaf8 0.4%,#cfd7f8 46.1%,#c0caf8 76.0%,#cfd7f8 94.1%,#d8def8 99.6%)"></i><i style="background:linear-gradient(90deg,#e5eaf8 0.4%,#ced7f8 45.3%,#bec9f8 75.2%,#cdd6f8 92.5%,#d8dff8 99.6%)"></i><i style="background:linear-gradient(90deg,#e5eaf8 0.4%,#ced7f8 43.7%,#bdc7f8 74.4%,#cad3f8 90.2%,#d9e0f8 99.6%)"></i><i style="background:linear-gradient(90deg,#e4e9f8 0.4%,#ced7f8 42.9%,#bbc6f8 72.8%,#c5cff8 87.0%,#dae1f8 99.6%)"></i><i style="background:linear-gradient(90deg,#e4e9f8 0.4%,#ced6f8 42.1%,#b9c4f8 72.0%,#c4cef8 86.2%,#dbe1f8 99.6%)"></i><i style="background:linear-gradient(90deg,#e4e9f8 0.4%,#cdd6f8 41.3%,#b8c3f8 71.3%,#c1cbf8 84.6%,#dce2f8 99.6%)"></i><i style="background:linear-gradient(90deg,#e4e9f8 0.4%,#cdd6f8 40.6%,#b6c1f8 70.5%,#bfcaf8 83.9%,#dde3f8 99.6%)"></i><i style="background:linear-gradient(90deg,#e3e8f8 0.4%,#ccd5f8 39.8%,#b4c0f8 69.7%,#bdc8f8 83.1%,#dfe4f8 99.6%)"></i><i style="background:linear-gradient(90deg,#e3e8f8 0.4%,#ccd5f8 39.0%,#b2bef8 68.9%,#bac5f8 81.5%,#e0e5f8 99.6%)"></i><i style="background:linear-gradient(90deg,#e3e8f8 0.4%,#ccd5f8 38.2%,#b0bcf8 68.1%,#b8c4f8 80.7%,#e1e7f8 99.6%)"></i><i style="background:linear-gradient(90deg,#e2e8f8 0.4%,#cbd4f8 37.4%,#aebaf8 68.1%,#b8c3f8 80.7%,#e3e8f8 99.6%)"></i><i style="background:linear-gradient(90deg,#e2e7f8 0.4%,#cad3f8 37.4%,#abb8f8 68.1%,#b6c1f8 79.9%,#e5e9f8 99.6%)"></i><i style="background:linear-gradient(90deg,#e2e7f8 0.4%,#cad3f8 36.6%,#a9b6f7 67.3%,#b1bdf8 77.6%,#e6ebf8 99.6%)"></i><i style="background:linear-gradient(90deg,#e2e7f8 0.4%,#c9d3f8 35.8%,#a6b4f7 66.5%,#aebbf8 76.8%,#e8edf8 99.6%)"></i><i style="background:linear-gradient(90deg,#e1e7f8 0.4%,#c8d2f8 35.8%,#a4b2f7 65.7%,#aab7f7 75.2%,#eaeef8 99.6%)"></i><i style="background:linear-gradient(90deg,#e1e6f8 0.4%,#c8d2f8 35.0%,#a1aff7 65.0%,#a7b4f7 74.4%,#ecf0f8 99.6%)"></i><i style="background:linear-gradient(90deg,#e1e6f8 0.4%,#c8d1f8 34.3%,#9eadf6 64.2%,#a4b2f7 73.6%,#ebeff8 98.0%,#edf1f7 99.6%)"></i><i style="background:linear-gradient(90deg,#e0e6f8 0.4%,#c6d0f8 34.3%,#9babf6 63.4%,#9faef7 72.0%,#c3cdf8 83.9%,#ebf0f8 97.2%,#eef1f6 99.6%)"></i><i style="background:linear-gradient(90deg,#e0e5f8 0.4%,#c6d0f8 33.5%,#98a8f6 63.4%,#9dacf6 72.0%,#d6ddf8 88.6%,#eef1f6 98.0%,#eff2f5 99.6%)"></i><i style="background:linear-gradient(90deg,#e0e5f8 0.4%,#c6d0f8 32.7%,#96a6f6 61.8%,#9aaaf6 71.3%,#c0cbf8 82.3%,#e9edf8 94.1%,#f0f2f4 99.6%)"></i><i style="background:linear-gradient(90deg,#dfe5f8 0.4%,#c5cff8 31.9%,#94a5f5 60.2%,#95a6f6 69.7%,#abb8f8 76.8%,#e0e6f8 90.2%,#eef1f6 96.5%,#f1f3f3 99.6%)"></i><i style="background:linear-gradient(90deg,#dfe5f8 0.4%,#c5cff8 31.1%,#9baaf6 53.1%,#8fa1f5 64.2%,#99a9f6 72.0%,#e3e8f8 90.2%,#eff1f5 95.7%,#f3f4f1 99.6%)"></i><i style="background:linear-gradient(90deg,#dfe4f8 0.4%,#c5cff8 30.3%,#a0aef7 49.2%,#8da0f5 61.8%,#94a5f5 70.5%,#b1bdf8 77.6%,#e1e6f8 88.6%,#eff2f5 94.9%,#f4f5ef 99.6%)"></i><i style="background:linear-gradient(90deg,#dee4f8 0.4%,#c4cff8 29.5%,#a0aef7 47.6%,#8a9ef4 60.2%,#8ea0f5 68.1%,#a2b0f7 74.4%,#dce2f8 86.2%,#eef1f6 92.5%,#f5f6ed 99.6%)"></i><i style="background:linear-gradient(90deg,#dee4f8 0.4%,#c4cef8 28.7%,#a2b1f7 45.3%,#889cf4 58.7%,#899df4 66.5%,#9baaf6 72.8%,#d9dff8 84.6%,#eef1f6 91.7%,#f6f7eb 99.6%)"></i><i style="background:linear-gradient(90deg,#dee3f8 0.4%,#c3cdf8 28.7%,#a1aff7 44.5%,#859af4 58.7%,#879bf4 66.5%,#9cabf6 72.8%,#d6ddf8 83.1%,#eef1f6 90.2%,#f6f7e5 99.6%)"></i><i style="background:linear-gradient(90deg,#dde3f8 0.4%,#c2cdf8 28.0%,#a2b0f7 42.9%,#8297f3 57.9%,#8499f3 65.7%,#98a8f6 72.0%,#d6ddf8 82.3%,#edf1f7 88.6%,#f6f7e5 98.0%,#f7f8de 99.6%)"></i><i style="background:linear-gradient(90deg,#dde3f8 0.4%,#c2cdf8 27.2%,#a3b1f7 41.3%,#7f95f3 57.1%,#7f95f3 64.2%,#92a3f5 70.5%,#dae1f8 82.3%,#eef1f6 87.8%,#f6f7e5 96.5%,#f7f8d7 99.6%)"></i><i style="background:linear-gradient(90deg,#dde3f8 0.4%,#c2cdf8 26.4%,#a2b0f7 40.6%,#7c93f3 56.3%,#7b92f2 63.4%,#8fa1f5 69.7%,#bac5f8 76.0%,#e2e7f8 83.1%,#eff2f5 87.8%,#f6f7e4 94.9%,#f8f9d1 99.6%)"></i><i style="background:linear-gradient(90deg,#dce2f8 0.4%,#c2ccf8 25.6%,#a3b1f7 39.0%,#7991f2 55.5%,#768ef2 61.8%,#889cf4 68.1%,#a6b4f7 72.8%,#d3dbf8 79.1%,#eef1f6 85.4%,#f6f7e8 92.5%,#f8f9c9 99.6%)"></i><i style="background:linear-gradient(90deg,#dce2f8 0.4%,#c1cbf8 25.6%,#a2b1f7 38.2%,#7189f1 57.1%,#748cf1 62.6%,#8da0f5 68.9%,#b8c3f8 74.4%,#e1e6f8 80.7%,#eef1f6 84.6%,#f6f7e8 90.9%,#f8f9c2 99.6%)"></i><i style="background:linear-gradient(90deg,#dce2f8 0.4%,#c1cbf8 24.8%,#a2b0f7 37.4%,#6b83f0 57.1%,#6e86f1 61.8%,#8fa1f5 68.9%,#d4dcf8 77.6%,#eef1f6 83.1%,#f6f7e8 89.4%,#f8f9c2 97.2%,#f8fabb 99.6%)"></i><i style="background:linear-gradient(90deg,#dbe1f8 0.4%,#c1cbf8 24.0%,#a4b2f7 35.8%,#6d85f0 53.1%,#657def 58.7%,#728af1 63.4%,#98a8f6 69.7%,#cbd4f8 75.2%,#ebeff8 80.7%,#f6f7e8 87.8%,#f8fabf 95.7%,#f8fab4 99.6%)"></i><i style="background:linear-gradient(90deg,#dbe1f8 0.4%,#c1cbf8 23.2%,#a3b1f7 35.0%,#728af1 50.0%,#6078ef 56.3%,#657def 61.0%,#90a2f5 68.1%,#d1d9f8 75.2%,#ecf0f8 79.9%,#f6f7e8 86.2%,#f8fac0 93.3%,#f8faad 99.6%)"></i><i style="background:linear-gradient(90deg,#dae1f8 0.4%,#bfcaf8 23.2%,#a3b1f7 34.3%,#728af1 48.4%,#5a73ee 55.5%,#5d75ee 59.4%,#7189f1 63.4%,#9dacf6 68.9%,#ccd5f8 73.6%,#ebeff8 78.3%,#f6f7e7 84.6%,#f8fabd 91.7%,#f8faa9 98.8%,#f8faa8 99.6%)"></i><i style="background:linear-gradient(90deg,#dae0f8 0.4%,#bfcaf8 22.4%,#a3b1f7 33.5%,#738bf1 46.9%,#546dee 54.7%,#566fee 58.7%,#6c84f0 62.6%,#9babf6 68.1%,#ced6f8 72.8%,#ecf0f8 77.6%,#f6f7e7 83.1%,#f8fabd 89.4%,#f8faa9 95.7%,#f9faa3 99.6%)"></i><i style="background:linear-gradient(90deg,#d9e0f8 0.4%,#c0caf8 21.7%,#a2b1f7 32.7%,#758df2 45.3%,#516aee 53.1%,#4d67ee 57.1%,#6078ef 61.0%,#9aaaf6 67.3%,#c9d2f8 71.3%,#ebeff8 76.0%,#f6f7e7 81.5%,#f8faba 87.8%,#f9faa5 94.1%,#f9fa9e 99.6%)"></i><i style="background:linear-gradient(90deg,#d9e0f8 0.4%,#c0caf8 20.9%,#a2b1f7 31.9%,#738bf1 44.5%,#4b65ee 52.4%,#4761ee 56.3%,#556dee 59.4%,#9aaaf6 66.5%,#cad3f8 70.5%,#e9edf8 74.4%,#f5f6ec 79.1%,#f8fab6 86.2%,#f9faa1 92.5%,#f9fa99 99.6%)"></i><i style="background:linear-gradient(90deg,#d9dff8 0.4%,#bfc9f8 20.9%,#a2b1f7 31.1%,#768ef2 42.9%,#4660ee 51.6%,#425bed 55.5%,#4963ee 57.9%,#657def 61.0%,#8096f3 63.4%,#a5b3f7 66.5%,#ccd5f8 69.7%,#ecf0f8 73.6%,#f6f7e7 78.3%,#f8fab7 83.9%,#f9faa1 89.4%,#fafa95 99.6%)"></i><i style="background:linear-gradient(90deg,#d8dff8 0.4%,#bfcaf8 20.1%,#a3b1f7 30.3%,#748cf1 42.1%,#435ced 50.8%,#3e56ec 54.7%,#4963ee 57.9%,#6b83f0 61.0%,#a7b4f7 65.7%,#cfd7f8 68.9%,#edf1f7 72.8%,#f6f7e6 76.8%,#f8fab9 81.5%,#f9faa1 86.2%,#fafa92 94.9%,#fafa91 99.6%)"></i><i style="background:linear-gradient(90deg,#d8dff8 0.4%,#bec9f8 20.1%,#a0aff7 30.3%,#748cf1 41.3%,#435ced 49.2%,#3a51eb 53.1%,#4059ed 56.3%,#546dee 58.7%,#879bf4 62.6%,#b5c0f8 65.7%,#dae1f8 68.9%,#eff1f5 72.0%,#f6f7e6 75.2%,#f8fab4 79.9%,#f9fa9c 84.6%,#fafa8e 92.5%,#fafa8d 99.6%)"></i><i style="background:linear-gradient(90deg,#d7def8 0.4%,#bec9f8 19.3%,#a1aff7 29.5%,#738bf1 40.6%,#4159ed 48.4%,#374ceb 52.4%,#3d54ec 55.5%,#4761ee 57.1%,#879bf4 61.8%,#cdd6f8 66.5%,#ebeff8 69.7%,#f5f6ec 72.8%,#f8fab0 78.3%,#fafa94 83.9%,#fafa88 91.7%,#fafa8a 99.6%)"></i><i style="background:linear-gradient(90deg,#d7def8 0.4%,#bdc8f8 19.3%,#a1b0f7 28.7%,#738bf1 39.8%,#425bed 46.9%,#354aea 50.8%,#374deb 53.9%,#445dee 56.3%,#889cf4 61.0%,#d1d9f8 65.7%,#eef1f6 68.9%,#f6f7e5 72.0%,#f8fab2 76.0%,#fafa94 80.7%,#fafa84 87.8%,#fafa87 99.6%)"></i><i style="background:linear-gradient(90deg,#d7def8 0.4%,#bec9f8 18.5%,#a2b0f7 28.0%,#738bf1 39.0%,#415aed 46.1%,#3448ea 50.0%,#354aea 53.1%,#435bed 55.5%,#657def 57.9%,#8a9df4 60.2%,#ccd5f8 64.2%,#edf0f7 67.3%,#f5f6ed 69.7%,#f8f9cc 72.0%,#f9faa6 75.2%,#fafa8b 79.9%,#fafa7e 87.0%,#fafa84 99.6%)"></i><i style="background:linear-gradient(90deg,#d6ddf8 0.4%,#bdc8f8 18.5%,#a0aff7 28.0%,#748cf1 38.2%,#4159ed 45.3%,#3347e9 49.2%,#3448ea 52.4%,#425aed 54.7%,#667eef 57.1%,#8096f3 58.7%,#aab7f7 61.0%,#d1d9f8 63.4%,#ebf0f8 65.7%,#f5f6ed 68.1%,#f7f8d7 69.7%,#f8faa9 72.8%,#fafa8b 76.8%,#fafa7a 82.3%,#fafa7a 92.5%,#fafa81 99.6%)"></i><i style="background:linear-gradient(90deg,#d6ddf8 0.4%,#bec8f8 17.7%,#a1b0f7 27.2%,#758df2 37.4%,#4159ed 44.5%,#3347e9 48.4%,#3448ea 51.6%,#425bed 53.9%,#6880f0 56.3%,#7890f2 57.1%,#9faef7 59.4%,#ccd5f8 61.8%,#e9eef8 64.2%,#f4f5ed 66.5%,#f8f9d5 68.1%,#f8faad 70.5%,#fafa8d 73.6%,#fafa77 78.3%,#fafa71 86.2%,#fafa7f 99.6%)"></i><i style="background:linear-gradient(90deg,#d6ddf8 0.4%,#bdc8f8 17.7%,#9faef7 27.2%,#778ff2 36.6%,#425aed 43.7%,#3347e9 47.6%,#3448ea 50.8%,#445dee 53.1%,#7c93f2 56.3%,#a7b4f7 58.7%,#d2daf8 61.0%,#eef1f6 63.4%,#f4f5ed 65.0%,#f8f9d3 66.5%,#f9faa7 68.9%,#fafa86 72.0%,#fafa71 76.0%,#faf86d 85.4%,#fafa7d 99.6%)"></i><i style="background:linear-gradient(90deg,#d5ddf8 0.4%,#bec8f8 16.9%,#a1aff7 26.4%,#738bf1 36.6%,#4057ed 43.7%,#3448ea 46.9%,#364beb 50.0%,#4861ee 52.4%,#8196f3 55.5%,#9dacf6 57.1%,#cdd6f8 59.4%,#edf0f7 61.8%,#f4f5ee 63.4%,#f7f8e2 64.2%,#f8faae 66.5%,#fafa85 69.7%,#faf96f 72.8%,#f9f567 80.7%,#fafa77 97.2%,#fafa7b 99.6%)"></i><i style="background:linear-gradient(90deg,#d5dcf8 0.4%,#bdc8f8 16.9%,#9faef7 26.4%,#768ef2 35.8%,#425bed 42.9%,#364aea 46.9%,#3a50eb 49.2%,#445dee 50.8%,#6b83f0 53.1%,#879cf4 54.7%,#a8b5f7 56.3%,#d6ddf8 58.7%,#ecf0f8 60.2%,#f4f5ee 61.8%,#f7f8e2 62.6%,#f8faa9 65.0%,#fafa85 67.3%,#faf96f 69.7%,#f8f162 76.0%,#fafa70 94.1%,#fafa79 99.6%)"></i><i style="background:linear-gradient(90deg,#d5dcf8 0.4%,#bcc7f8 16.9%,#a1b0f7 25.6%,#748cf1 35.8%,#425bed 42.9%,#3a50eb 46.1%,#3f57ec 48.4%,#4c66ee 50.0%,#8298f3 53.1%,#b3bff8 55.5%,#dfe5f8 57.9%,#f0f2f4 59.4%,#f4f5ee 60.2%,#f7f8e1 61.0%,#f9faa3 63.4%,#fafa7c 65.7%,#faf86d 67.3%,#f7ed5d 72.8%,#f8f264 84.6%,#fafa78 99.6%)"></i><i style="background:linear-gradient(90deg,#d5dcf8 0.4%,#bec8f8 16.1%,#a0aff7 25.6%,#738bf1 35.8%,#445dee 42.9%,#4059ed 46.1%,#4660ee 47.6%,#647cef 50.0%,#9baaf6 53.1%,#cfd7f8 55.5%,#e8edf8 57.1%,#f4f5ef 58.7%,#f7f8e0 59.4%,#f8fab0 61.0%,#fafa7f 63.4%,#f9f76b 65.0%,#f6e858 69.7%,#f6e858 77.6%,#fafa74 98.0%,#fafa77 99.6%)"></i><i style="background:linear-gradient(90deg,#d5dcf8 0.4%,#bdc8f8 16.1%,#a0aef7 25.6%,#738bf1 35.8%,#4c65ee 42.1%,#4963ee 45.3%,#5b73ee 47.6%,#97a7f6 51.6%,#dae1f8 54.7%,#eff1f5 56.3%,#f3f4ef 57.1%,#f7f8df 57.9%,#f8faab 59.4%,#fafa76 61.8%,#f8f060 64.2%,#f4e050 68.1%,#f5e353 76.8%,#f9f76b 92.5%,#fafa75 99.6%)"></i><i style="background:linear-gradient(90deg,#d5dcf8 0.4%,#bdc8f8 16.1%,#9faef7 25.6%,#748cf1 35.8%,#576fee 41.3%,#546dee 43.7%,#6179ef 46.1%,#96a6f6 50.0%,#d8dff8 53.1%,#eef1f6 54.7%,#f3f4ef 55.5%,#f7f8df 56.3%,#f9faa7 57.9%,#fafa7d 59.4%,#faf96e 60.2%,#f5e353 63.4%,#f2d747 68.1%,#f5e353 79.1%,#f9f66a 92.5%,#fafa75 99.6%)"></i><i style="background:linear-gradient(90deg,#d4dcf8 0.4%,#bdc8f8 16.1%,#9faef7 25.6%,#728af1 36.6%,#6179ef 41.3%,#657def 43.7%,#8197f3 46.9%,#96a7f6 48.4%,#d7def8 51.6%,#eef1f6 53.1%,#f3f4f0 53.9%,#f7f8de 54.7%,#f9faa3 56.3%,#fafa76 57.9%,#f6e757 60.2%,#f1d545 63.4%,#f0d141 68.9%,#f9f467 90.9%,#fafa74 99.6%)"></i><i style="background:linear-gradient(90deg,#d4dcf8 0.4%,#bdc8f8 16.1%,#a0aef7 25.6%,#6e86f1 39.8%,#748cf1 42.9%,#8ea1f5 46.1%,#a9b6f7 47.6%,#e3e8f8 50.8%,#f3f4f0 52.4%,#f7f8dd 53.1%,#f9fa9f 54.7%,#faf96f 56.3%,#f4e050 58.7%,#f0d141 61.0%,#efc340 64.2%,#efc840 68.9%,#f2d848 75.2%,#f9f365 90.2%,#fafa73 99.6%)"></i><i style="background:linear-gradient(90deg,#d4dcf8 0.4%,#bdc8f8 16.1%,#a1aff7 25.6%,#7b93f2 37.4%,#7e94f3 41.3%,#94a5f5 44.5%,#eef1f6 50.0%,#f3f4f0 50.8%,#f7f8dd 51.6%,#f9fa9c 53.1%,#f9f76b 54.7%,#f2da4a 57.1%,#f0cb40 58.7%,#edba40 61.0%,#edb83f 65.7%,#f1d444 74.4%,#f9f365 90.2%,#fafa73 99.6%)"></i><i style="background:linear-gradient(90deg,#d5dcf8 0.4%,#bcc7f8 16.9%,#9dacf6 27.2%,#8499f4 36.6%,#8a9df4 40.6%,#9baaf6 42.9%,#eef1f6 48.4%,#f3f4f0 49.2%,#f7f8dd 50.0%,#fafa7d 52.4%,#f9f568 53.1%,#f1d545 55.5%,#edb83f 57.9%,#e9ac3d 61.0%,#ebb43e 66.5%,#f1d545 75.2%,#f9f364 90.2%,#fafa73 99.6%)"></i><i style="background:linear-gradient(90deg,#d5dcf8 0.4%,#bdc7f8 16.9%,#8fa1f5 33.5%,#90a2f5 38.2%,#9cabf6 40.6%,#ced6f8 44.5%,#eef1f6 46.9%,#f3f4f0 47.6%,#f7f8dd 48.4%,#fafa7b 50.8%,#f9f466 51.6%,#f0d040 53.9%,#ecb73f 55.5%,#e69e39 58.7%,#e69c39 61.8%,#f0cb40 72.8%,#f8f263 89.4%,#fafa73 99.6%)"></i><i style="background:linear-gradient(90deg,#d5dcf8 0.4%,#bcc7f8 17.7%,#97a7f6 33.5%,#9dacf6 37.4%,#b5c1f8 40.6%,#eef1f6 45.3%,#f3f4f0 46.1%,#f7f8dd 46.9%,#fafa7b 49.2%,#f9f466 50.0%,#f2d848 51.6%,#efcb40 52.4%,#edba40 53.1%,#e49237 56.3%,#e38935 58.7%,#e59437 62.6%,#eab03d 67.3%,#f1d343 75.2%,#f9f364 90.2%,#fafa73 99.6%)"></i><i style="background:linear-gradient(90deg,#d5dcf8 0.4%,#bcc7f8 18.5%,#a1b0f7 31.9%,#a8b5f7 35.8%,#c4cef8 39.8%,#eff1f5 43.7%,#f3f4ef 44.5%,#f7f8de 45.3%,#fafa7d 47.6%,#f9f466 48.4%,#f2d747 50.0%,#ecb73f 51.6%,#e48f36 53.9%,#e07e32 56.3%,#e17f33 59.4%,#e59938 64.2%,#eaaf3d 67.3%,#f1d545 76.0%,#f9f364 90.2%,#fafa73 99.6%)"></i><i style="background:linear-gradient(90deg,#d6ddf8 0.4%,#bbc6f8 20.1%,#acb9f8 31.1%,#b9c4f8 35.8%,#d9dff8 39.8%,#eff2f5 42.1%,#f3f4ef 42.9%,#f7f8de 43.7%,#fafa80 46.1%,#f9f568 46.9%,#f2d848 48.4%,#efc740 49.2%,#e28834 52.4%,#dd6d34 54.7%,#dc6835 57.1%,#e38a35 62.6%,#e9ae3d 67.3%,#f1d343 75.2%,#f9f364 90.2%,#fafa73 99.6%)"></i><i style="background:linear-gradient(90deg,#d6ddf8 0.4%,#b5c0f8 28.7%,#bdc8f8 33.5%,#d5ddf8 37.4%,#f0f2f4 40.6%,#f4f5ef 41.3%,#f7f8df 42.1%,#fafa84 44.5%,#f9f66a 45.3%,#f2d949 46.9%,#efc940 47.6%,#e8a73b 49.2%,#e49236 50.0%,#dc6835 52.4%,#d95837 53.9%,#d85638 56.3%,#dd6d34 59.4%,#e59537 64.2%,#e9ae3d 67.3%,#f1d343 75.2%,#f9f365 90.2%,#fafa73 99.6%)"></i><i style="background:linear-gradient(90deg,#d6ddf8 0.4%,#bcc7f8 27.2%,#c8d1f8 32.7%,#e6ebf8 37.4%,#f4f5ee 39.8%,#f7f8e0 40.6%,#faf96e 43.7%,#f0cf40 46.1%,#edb93f 46.9%,#e8ab3c 47.6%,#e59337 48.4%,#de7233 50.0%,#d85538 51.6%,#d64433 53.1%,#d64233 54.7%,#d95a37 57.9%,#e18333 61.8%,#eaaf3d 67.3%,#f1d444 75.2%,#f9f365 90.2%,#fafa73 99.6%)"></i><i style="background:linear-gradient(90deg,#d7def8 0.4%,#c3cdf8 25.6%,#d1d9f8 31.9%,#edf1f7 36.6%,#f4f5ee 38.2%,#f7f8e1 39.0%,#fafa73 42.1%,#f8f162 42.9%,#f1d343 44.5%,#df7533 48.4%,#d85137 50.0%,#d53830 51.6%,#d5312e 53.1%,#d63d31 55.5%,#db6136 58.7%,#e28434 61.8%,#e9ac3c 66.5%,#f1d242 74.4%,#f8f264 89.4%,#fafa74 99.6%)"></i><i style="background:linear-gradient(90deg,#d8dff8 0.4%,#c8d2f8 23.2%,#d2daf8 29.5%,#eef1f6 35.0%,#f4f5ee 36.6%,#f7f8e1 37.4%,#fafa7b 40.6%,#f9f467 41.3%,#f2d848 42.9%,#efc840 43.7%,#e7a33a 45.3%,#e38c35 46.1%,#e07c32 46.9%,#d85338 48.4%,#d5342f 50.0%,#d42b2c 50.8%,#d42c2d 53.9%,#d85037 57.1%,#e18033 61.0%,#e9ad3d 66.5%,#f1d343 74.4%,#f9f364 89.4%,#fafa74 99.6%)"></i><i style="background:linear-gradient(90deg,#d9dff8 0.4%,#cdd6f8 21.7%,#d7def8 28.0%,#eff1f5 33.5%,#f4f5ed 35.0%,#f7f8e2 35.8%,#faf86c 39.8%,#f0d141 42.1%,#eebc40 42.9%,#e9ad3d 43.7%,#e28434 45.3%,#d74734 47.6%,#d42a2c 49.2%,#cd272b 51.6%,#d42b2c 53.9%,#d85538 57.1%,#e07d32 60.2%,#e9ac3c 65.7%,#f1d444 74.4%,#f9f365 89.4%,#fafa75 99.6%)"></i><i style="background:linear-gradient(90deg,#dae0f8 0.4%,#d1d9f8 20.1%,#dee4f8 27.2%,#eff2f5 31.9%,#f4f5ed 33.5%,#f7f8e3 34.3%,#fafa8b 37.4%,#fafa73 38.2%,#f5e555 39.8%,#efc840 41.3%,#e7a53b 42.9%,#e48e36 43.7%,#dc6835 45.3%,#d85438 46.1%,#d5302e 47.6%,#cd272b 49.2%,#cc272b 51.6%,#d2292c 53.1%,#d74534 55.5%,#db6535 57.9%,#e18133 60.2%,#e9ae3d 65.7%,#f1d343 73.6%,#f9f364 88.6%,#fafa75 99.6%)"></i><i style="background:linear-gradient(90deg,#dbe1f8 0.4%,#d6ddf8 19.3%,#e6ebf8 27.2%,#f2f3f1 31.1%,#f7f8e3 32.7%,#fafa92 35.8%,#f9f66a 37.4%,#f1d242 39.8%,#df7932 43.7%,#d84f37 45.3%,#d42d2d 46.9%,#ca262b 49.2%,#d2292c 52.4%,#d53830 53.9%,#d95937 56.3%,#e17f33 59.4%,#e9ac3d 65.0%,#f1d242 72.8%,#f9f365 88.6%,#fafa76 99.6%)"></i><i style="background:linear-gradient(90deg,#dce2f8 0.4%,#d9e0f8 17.7%,#e8edf8 25.6%,#f5f6ed 30.3%,#f6f7e4 31.1%,#f9fa99 34.3%,#fafa70 35.8%,#f2d949 38.2%,#f0cd40 39.0%,#e59938 41.3%,#df7633 42.9%,#d74e36 44.5%,#d42e2d 46.1%,#cb262b 48.4%,#d2292c 51.6%,#d53830 53.1%,#d95837 55.5%,#e28434 59.4%,#eaaf3d 65.0%,#f1d343 72.8%,#f9f364 87.8%,#fafa77 99.6%)"></i><i style="background:linear-gradient(90deg,#dde3f8 0.4%,#dde3f8 16.9%,#eff2f5 26.4%,#f5f6ec 28.7%,#f6f7e5 29.5%,#f9faa0 32.7%,#f9f66a 35.0%,#f1d646 37.4%,#e8ab3c 39.8%,#e28534 41.3%,#d85037 43.7%,#d5322e 45.3%,#d3292c 46.1%,#cd272b 48.4%,#d42a2c 50.8%,#d95837 54.7%,#e28434 58.7%,#e9ae3d 64.2%,#f1d545 72.8%,#f9f365 87.8%,#fafa77 99.6%)"></i><i style="background:linear-gradient(90deg,#dee4f8 0.4%,#e1e7f8 16.9%,#f0f2f4 24.8%,#f5f6ec 27.2%,#f6f7e5 28.0%,#f8fab7 30.3%,#fafa70 33.5%,#f1d343 36.6%,#e8a93c 39.0%,#e28534 40.6%,#d85438 42.9%,#d53730 44.5%,#d3292c 46.1%,#d32a2c 49.2%,#d63e32 51.6%,#d95a37 53.9%,#e28434 57.9%,#e9ae3d 63.4%,#f1d444 72.0%,#f9f364 87.0%,#fafa78 99.6%)"></i><i style="background:linear-gradient(90deg,#dfe5f8 0.4%,#e5e9f8 16.1%,#f2f3f2 24.0%,#f6f7e5 26.4%,#f8fabb 28.7%,#f9f76b 32.7%,#f0d141 35.8%,#e8a83b 38.2%,#e28734 39.8%,#d74b36 42.9%,#d5362f 44.5%,#d42b2c 46.9%,#d5352f 49.2%,#da5d37 53.1%,#e28434 57.1%,#e9ae3d 62.6%,#f1d444 71.3%,#f9f365 87.0%,#fafa79 99.6%)"></i><i style="background:linear-gradient(90deg,#e1e6f8 0.4%,#e8ecf8 15.4%,#f4f5ef 23.2%,#f6f7e6 24.8%,#f8fac0 27.2%,#fafa71 31.1%,#f4e151 33.5%,#f0cf40 35.0%,#ebb33e 36.6%,#e8a83c 37.4%,#e38935 39.0%,#da6036 41.3%,#d74835 42.9%,#d5362f 45.3%,#d53830 47.6%,#d95937 51.6%,#e18033 55.5%,#e9ae3d 61.8%,#f1d343 70.5%,#f9f364 86.2%,#fafa79 99.6%)"></i><i style="background:linear-gradient(90deg,#e2e8f8 0.4%,#ebeff8 14.6%,#f4f5ee 21.7%,#f6f7e6 23.2%,#f8f9c4 25.6%,#faf86d 30.3%,#f0cd40 34.3%,#ebb33e 35.8%,#e8aa3c 36.6%,#e38b35 38.2%,#da5c37 41.3%,#d64433 43.7%,#d63f32 46.1%,#d85137 49.2%,#e18233 54.7%,#e9ae3d 61.0%,#f1d343 69.7%,#f9f364 85.4%,#fafa7a 99.6%)"></i><i style="background:linear-gradient(90deg,#e4e9f8 0.4%,#f0f2f4 16.9%,#f6f7e6 21.7%,#f8faba 24.8%,#fafa75 28.7%,#f8f161 30.3%,#f0cc40 33.5%,#ebb43e 35.0%,#e69d39 36.6%,#e28534 38.2%,#da5c37 41.3%,#d74c36 43.7%,#d74c36 46.1%,#dd6b35 50.8%,#e38d35 55.5%,#e9ae3d 60.2%,#f1d343 68.9%,#f9f365 85.4%,#fafa7b 99.6%)"></i><i style="background:linear-gradient(90deg,#e6ebf8 0.4%,#f0f2f4 15.4%,#f6f7e7 20.1%,#f8fabe 23.2%,#fafa70 28.0%,#f5e555 30.3%,#f0cc40 32.7%,#e38935 37.4%,#da5f36 41.3%,#d85538 43.7%,#da5c37 46.9%,#e28634 53.1%,#eaaf3d 59.4%,#f1d545 68.9%,#f9f365 84.6%,#fafa7a 98.8%,#fafa7c 99.6%)"></i><i style="background:linear-gradient(90deg,#e8ecf8 0.4%,#f2f3f2 14.6%,#f6f7e7 18.5%,#f8f9c2 21.7%,#faf86d 27.2%,#f1d545 31.1%,#eec040 32.7%,#e59938 35.8%,#dd6f34 39.8%,#db6136 42.1%,#db6136 45.3%,#e38935 52.4%,#e9ad3d 57.9%,#f1d545 68.1%,#f9f364 83.9%,#fafa7b 98.8%,#fafa7d 99.6%)"></i><i style="background:linear-gradient(90deg,#eaeef8 0.4%,#f3f4ef 14.6%,#f6f7e7 16.9%,#f8f9c5 20.1%,#f9f76b 26.4%,#f0ce40 31.1%,#eab13e 33.5%,#e28534 37.4%,#dd6b35 41.3%,#dc6a35 44.5%,#e38c35 51.6%,#e9ae3d 57.1%,#f1d545 67.3%,#f9f365 83.9%,#fafa7c 98.8%,#fafa7d 99.6%)"></i><i style="background:linear-gradient(90deg,#ecf0f8 0.4%,#f4f5ef 13.0%,#f6f7e7 15.4%,#f8fabe 19.3%,#fafa71 24.8%,#f7eb5b 27.2%,#f0cf40 30.3%,#ebb43e 32.7%,#e38b35 36.6%,#de7333 41.3%,#df7833 45.3%,#e59938 52.4%,#eaaf3d 56.3%,#f1d343 65.7%,#f9f365 83.1%,#fafa7c 98.0%,#fafa7e 99.6%)"></i><i style="background:linear-gradient(90deg,#edf0f7 0.4%,#f5f6ed 12.2%,#f7f8e1 14.6%,#f8fab7 18.5%,#faf96f 24.0%,#f5e353 27.2%,#f0d141 29.5%,#ecb63f 31.9%,#e7a13a 34.3%,#e38b35 36.6%,#e07d32 40.6%,#e18133 45.3%,#e59738 50.8%,#eab03d 55.5%,#f1d343 65.0%,#f9f365 82.3%,#fafa7b 97.2%,#fafa7f 99.6%)"></i><i style="background:linear-gradient(90deg,#eef1f6 0.4%,#f5f6eb 11.4%,#f8f9cd 15.4%,#faf96e 23.2%,#f5e353 26.4%,#efca40 29.5%,#e9ae3d 32.7%,#e38d35 36.6%,#e18233 41.3%,#e48f36 47.6%,#eaaf3d 53.9%,#f1d444 64.2%,#f9f365 81.5%,#fafa7b 96.5%,#fafa80 99.6%)"></i><i style="background:linear-gradient(90deg,#eff2f5 0.4%,#f6f7eb 9.8%,#f8f9cf 13.8%,#faf86d 22.4%,#f5e353 25.6%,#f0cc40 28.7%,#ecb63f 31.1%,#e48f36 36.6%,#e28834 41.3%,#e59437 46.9%,#eab03d 53.1%,#f1d444 63.4%,#f9f365 80.7%,#fafa7b 95.7%,#fafa81 99.6%)"></i><i style="background:linear-gradient(90deg,#f0f2f4 0.4%,#f6f7e8 9.1%,#f8f9c2 13.8%,#f9f76c 21.7%,#f0cf40 28.0%,#ebb43e 31.1%,#e49136 37.4%,#e49036 42.9%,#edb93f 54.7%,#f1d444 62.6%,#f9f466 80.7%,#fafa7d 96.5%,#fafa82 99.6%)"></i><i style="background:linear-gradient(90deg,#f1f3f3 0.4%,#f6f7e8 7.5%,#f8f9c5 12.2%,#f9f76b 20.9%,#f0d141 27.2%,#ecb73f 30.3%,#e59637 37.4%,#e59637 42.1%,#f0cd40 58.7%,#f9f364 79.1%,#fafa7b 94.9%,#fafa83 99.6%)"></i><i style="background:linear-gradient(90deg,#f2f3f1 0.4%,#f6f7e8 5.9%,#f8f9c0 11.4%,#f9f76b 20.1%,#f1d343 26.4%,#ebb33e 31.1%,#e69c39 37.4%,#e6a03a 42.9%,#efc840 56.3%,#f4de4e 65.7%,#f9f467 79.9%,#fafa7e 95.7%,#fafa83 99.6%)"></i><i style="background:linear-gradient(90deg,#f4f5ef 0.4%,#f6f7e8 4.3%,#f8f9c3 9.8%,#f9f76b 19.3%,#f0d141 26.4%,#ecb63f 30.3%,#e7a23a 37.4%,#e8a83c 42.9%,#efc440 53.9%,#f1d545 59.4%,#f9f366 78.3%,#fafa7c 94.1%,#fafa84 99.6%)"></i><i style="background:linear-gradient(90deg,#f5f6ed 0.4%,#f6f7e4 3.5%,#f8fabf 9.1%,#f9f76b 18.5%,#f1d343 25.6%,#ecb73f 30.3%,#e8a93c 37.4%,#ecb63f 47.6%,#f1d444 57.9%,#f9f366 77.6%,#fafa7c 93.3%,#fafa85 99.6%)"></i><i style="background:linear-gradient(90deg,#f6f7eb 0.4%,#f8f9ce 5.9%,#faf96f 16.9%,#f0d141 25.6%,#edb83f 30.3%,#e9ad3d 37.4%,#edba40 47.6%,#f1d343 56.3%,#f9f466 76.8%,#fafa7c 92.5%,#fafa86 99.6%)"></i><i style="background:linear-gradient(90deg,#f6f7e5 0.4%,#f8fabf 6.7%,#f9f76b 16.9%,#f1d343 24.8%,#edb93f 30.3%,#eab03d 37.4%,#eebe40 47.6%,#f1d444 55.5%,#f9f466 76.0%,#fafa7c 91.7%,#fafa87 99.6%)"></i><i style="background:linear-gradient(90deg,#f7f8de 0.4%,#f8fab5 6.7%,#f9f76b 16.1%,#f1d242 24.8%,#edb83f 31.1%,#ebb43e 39.0%,#efc340 47.6%,#f1d545 54.7%,#f9f466 75.2%,#fafa7d 91.7%,#fafa88 99.6%)"></i><i style="background:linear-gradient(90deg,#f7f8d7 0.4%,#fafa96 9.8%,#f9f76b 15.4%,#f1d444 24.0%,#eec140 28.7%,#ecb73f 35.0%,#eec040 44.5%,#f1d444 53.1%,#f9f466 74.4%,#fafa7d 90.9%,#fafa89 99.6%)"></i><i style="background:linear-gradient(90deg,#f8f9d0 0.4%,#fafa75 13.0%,#f6e959 18.5%,#f0cf40 25.6%,#eebc40 31.9%,#eebd40 40.6%,#f1d343 50.8%,#f9f466 73.6%,#fafa7d 90.2%,#fafa89 99.6%)"></i><i style="background:linear-gradient(90deg,#f8f9c9 0.4%,#faf86c 13.8%,#f1d646 23.2%,#efc740 28.0%,#eebd40 35.0%,#f0cc40 45.3%,#f9f365 72.0%,#fafa7c 88.6%,#fafa8a 99.6%)"></i><i style="background:linear-gradient(90deg,#f8f9c1 0.4%,#faf86c 13.0%,#f2d848 22.4%,#efc940 28.0%,#efc140 35.0%,#f1d343 47.6%,#f9f467 72.0%,#fafa7e 89.4%,#fafa8b 99.6%)"></i><i style="background:linear-gradient(90deg,#f8faba 0.4%,#faf86d 12.2%,#f2d848 22.4%,#efca40 28.7%,#efc640 36.6%,#f1d444 46.9%,#f9f467 71.3%,#fafa7e 88.6%,#fafa8c 99.6%)"></i><i style="background:linear-gradient(90deg,#f8fab3 0.4%,#faf86e 11.4%,#f2da4a 21.7%,#f0cc40 29.5%,#f0cc40 38.2%,#f5e353 56.3%,#f9f669 72.0%,#fafa85 93.3%,#fafa8d 99.6%)"></i><i style="background:linear-gradient(90deg,#f8faad 0.4%,#f9f76b 11.4%,#f2da4a 21.7%,#f0ce40 31.1%,#f1d646 44.5%,#f9f568 70.5%,#fafa82 90.2%,#fafa8d 99.6%)"></i><i style="background:linear-gradient(90deg,#f9faa7 0.4%,#f9f76c 10.6%,#f3da4a 21.7%,#f0d040 32.7%,#f4e151 52.4%,#f9f568 69.7%,#fafa83 90.2%,#fafa8e 99.6%)"></i><i style="background:linear-gradient(90deg,#f9faa2 0.4%,#faf86d 9.8%,#f3db4b 21.7%,#f1d242 33.5%,#f6e757 54.7%,#faf96e 74.4%,#fafa8f 99.6%)"></i><i style="background:linear-gradient(90deg,#f9fa9d 0.4%,#faf86d 9.1%,#f3dc4c 20.9%,#f1d444 33.5%,#f6e959 54.7%,#fafa72 76.0%,#fafa90 99.6%)"></i><i style="background:linear-gradient(90deg,#f9fa98 0.4%,#f9f76c 9.1%,#f3dd4d 20.9%,#f2d646 33.5%,#f7eb5b 54.7%,#fafa75 77.6%,#fafa90 99.6%)"></i><i style="background:linear-gradient(90deg,#fafa94 0.4%,#faf86c 8.3%,#f3de4e 20.9%,#f2d848 34.3%,#f8ee5e 56.3%,#fafa78 78.3%,#fafa91 99.6%)"></i><i style="background:linear-gradient(90deg,#fafa90 0.4%,#f9f76b 8.3%,#f4de4e 20.9%,#f3db4b 35.0%,#faf96e 69.7%,#fafa92 99.6%)"></i><i style="background:linear-gradient(90deg,#fafa8c 0.4%,#f9f76c 7.5%,#f4df4f 20.9%,#f3dd4d 35.8%,#faf96e 68.9%,#fafa93 99.6%)"></i><i style="background:linear-gradient(90deg,#fafa88 0.4%,#f9f76b 7.5%,#f4df4f 21.7%,#f4df4f 37.4%,#faf96e 67.3%,#fafa93 99.6%)"></i><i style="background:linear-gradient(90deg,#fafa85 0.4%,#f9f76c 6.7%,#f4e151 20.9%,#f4e151 36.6%,#fafa6f 68.1%,#fafa94 99.6%)"></i><i style="background:linear-gradient(90deg,#fafa82 0.4%,#f9f76b 6.7%,#f4e252 21.7%,#f5e353 37.4%,#fafa71 68.1%,#fafa95 99.6%)"></i><i style="background:linear-gradient(90deg,#fafa80 0.4%,#f9f66a 6.7%,#f5e353 21.7%,#f5e555 37.4%,#fafa73 68.9%,#fafa96 99.6%)"></i><i style="background:linear-gradient(90deg,#fafa7d 0.4%,#f9f66a 6.7%,#f5e555 21.7%,#f6e858 39.0%,#fafa77 70.5%,#fafa96 99.6%)"></i><i style="background:linear-gradient(90deg,#fafa7b 0.4%,#f9f669 6.7%,#f5e656 21.7%,#f7eb5b 39.8%,#fafa77 69.7%,#fafa97 99.6%)"></i><i style="background:linear-gradient(90deg,#fafa7a 0.4%,#f9f466 8.3%,#f6e757 23.2%,#f8f060 43.7%,#fafa7b 71.3%,#fafa98 99.6%)"></i><i style="background:linear-gradient(90deg,#fafa78 0.4%,#f9f365 9.1%,#f6e858 24.8%,#f9f568 51.6%,#fafa81 75.2%,#f9fa98 99.6%)"></i><i style="background:linear-gradient(90deg,#fafa77 0.4%,#f8f161 12.2%,#f6ea5a 28.0%,#fafa76 65.0%,#f9fa99 99.6%)"></i><i style="background:linear-gradient(90deg,#fafa75 0.4%,#f8f060 13.8%,#f7ec5c 30.3%,#fafa77 65.0%,#f9fa9a 99.6%)"></i><i style="background:linear-gradient(90deg,#fafa74 0.4%,#f8f060 14.6%,#f8ef5f 32.7%,#fafa78 64.2%,#f9fa9a 99.6%)"></i><i style="background:linear-gradient(90deg,#fafa74 0.4%,#f8f060 15.4%,#f8f161 35.0%,#fafa78 63.4%,#f9fa9b 99.6%)"></i><i style="background:linear-gradient(90deg,#fafa73 0.4%,#f8f161 16.1%,#f9f364 37.4%,#fafa7a 63.4%,#f9fa9b 99.6%)"></i><i style="background:linear-gradient(90deg,#fafa72 0.4%,#f8f162 16.9%,#f9f567 40.6%,#fafa7e 65.7%,#f9fa9c 99.6%)"></i><i style="background:linear-gradient(90deg,#fafa72 0.4%,#f8f162 17.7%,#f9f76a 43.7%,#f9fa9d 99.6%)"></i></div><div class="hm" style="left:21px;top:161px;width:126px;height:125px"><i style="background:linear-gradient(90deg,#f0f2f4 0.4%,#e7ebf8 41.7%,#cad3f8 75.0%,#b9c4f8 97.2%,#b9c4f8 99.6%)"></i><i style="background:linear-gradient(90deg,#f0f2f4 0.4%,#e7ebf8 40.9%,#cbd4f8 72.6%,#b7c3f8 95.6%,#b7c3f8 99.6%)"></i><i style="background:linear-gradient(90deg,#f0f2f4 0.4%,#e7ebf8 40.1%,#cbd4f8 71.0%,#b6c1f8 94.0%,#b6c1f8 99.6%)"></i><i style="background:linear-gradient(90deg,#f0f2f4 0.4%,#e7ebf8 39.3%,#cdd5f8 68.7%,#b5c0f8 92.5%,#b4c0f8 99.6%)"></i><i style="background:linear-gradient(90deg,#f0f2f4 0.4%,#e6ebf8 39.3%,#ccd5f8 67.9%,#b3bff8 91.7%,#b3bff8 99.6%)"></i><i style="background:linear-gradient(90deg,#f0f2f4 0.4%,#e7ebf8 38.5%,#cdd5f8 66.3%,#b2bef8 90.1%,#b2bef8 99.6%)"></i><i style="background:linear-gradient(90deg,#f0f2f4 0.4%,#e7ebf8 37.7%,#cdd6f8 64.7%,#b0bcf8 89.3%,#b1bdf8 99.6%)"></i><i style="background:linear-gradient(90deg,#f0f2f4 0.4%,#e7ebf8 36.9%,#ced7f8 63.1%,#aebaf8 88.5%,#b0bcf8 99.6%)"></i><i style="background:linear-gradient(90deg,#f0f2f4 0.4%,#e6ebf8 36.9%,#ced6f8 62.3%,#acb8f8 88.5%,#aebbf8 99.6%)"></i><i style="background:linear-gradient(90deg,#f0f2f4 0.4%,#e7ebf8 36.1%,#ced7f8 60.7%,#a9b6f7 87.7%,#adbaf8 99.6%)"></i><i style="background:linear-gradient(90deg,#f0f2f4 0.4%,#e7ebf8 35.3%,#ced7f8 59.9%,#a7b5f7 86.9%,#abb8f8 98.8%,#acb9f8 99.6%)"></i><i style="background:linear-gradient(90deg,#f0f2f4 0.4%,#e6ebf8 35.3%,#ced6f8 59.1%,#a5b3f7 86.1%,#a9b6f7 98.0%,#abb8f8 99.6%)"></i><i style="background:linear-gradient(90deg,#f0f2f4 0.4%,#e7ebf8 34.5%,#cfd7f8 57.5%,#a2b1f7 85.3%,#a6b3f7 96.4%,#aab7f8 99.6%)"></i><i style="background:linear-gradient(90deg,#f0f2f4 0.4%,#e7ebf8 33.7%,#cfd7f8 56.7%,#a0aff7 84.5%,#a3b1f7 95.6%,#aab7f7 99.6%)"></i><i style="background:linear-gradient(90deg,#f0f2f4 0.4%,#e7ebf8 33.7%,#cfd7f8 56.0%,#9eadf6 82.9%,#a0aff7 94.0%,#a9b6f7 99.6%)"></i><i style="background:linear-gradient(90deg,#f0f2f4 0.4%,#e7ebf8 32.9%,#d0d8f8 54.4%,#9babf6 82.1%,#9dacf6 92.5%,#a9b6f7 99.6%)"></i><i style="background:linear-gradient(90deg,#f0f2f4 0.4%,#e6ebf8 32.9%,#d0d8f8 53.6%,#99a9f6 81.3%,#9aaaf6 91.7%,#a9b6f7 99.6%)"></i><i style="background:linear-gradient(90deg,#f0f2f4 0.4%,#e7ebf8 32.1%,#d0d8f8 52.8%,#97a7f6 79.8%,#97a8f6 90.9%,#a9b6f7 99.6%)"></i><i style="background:linear-gradient(90deg,#f0f2f4 0.4%,#e7ecf8 31.3%,#cfd8f8 52.0%,#95a6f6 79.0%,#95a6f6 90.1%,#a9b6f7 99.6%)"></i><i style="background:linear-gradient(90deg,#f0f2f4 0.4%,#e7ebf8 31.3%,#d0d8f8 51.2%,#a7b4f7 68.7%,#93a4f5 78.2%,#92a4f5 88.5%,#a7b5f7 98.8%,#aab7f7 99.6%)"></i><i style="background:linear-gradient(90deg,#f0f2f4 0.4%,#e7ecf8 30.6%,#d1d9f8 49.6%,#afbbf8 64.7%,#92a4f5 75.8%,#8ea1f5 86.1%,#a1b0f7 96.4%,#abb8f8 99.6%)"></i><i style="background:linear-gradient(90deg,#f0f2f4 0.4%,#e7ebf8 30.6%,#d0d8f8 49.6%,#abb8f8 64.7%,#90a2f5 75.0%,#8b9ff4 84.5%,#9dacf6 94.8%,#acb8f8 99.6%)"></i><i style="background:linear-gradient(90deg,#f0f2f4 0.4%,#e6ebf8 30.6%,#d0d8f8 48.8%,#acb9f8 63.1%,#8fa1f5 73.4%,#889cf4 82.9%,#98a8f6 93.3%,#adbaf8 99.6%)"></i><i style="background:linear-gradient(90deg,#f0f2f4 0.4%,#e7ebf8 29.8%,#d0d8f8 48.0%,#aebaf8 61.5%,#8fa1f5 71.8%,#859af4 81.3%,#95a5f6 91.7%,#afbbf8 99.6%)"></i><i style="background:linear-gradient(90deg,#f0f2f4 0.4%,#e7ecf8 29.0%,#d2daf8 46.4%,#b2bef8 59.1%,#8ea1f5 70.2%,#8398f3 79.8%,#8fa1f5 89.3%,#b1bdf8 99.6%)"></i><i style="background:linear-gradient(90deg,#f0f2f4 0.4%,#e7ebf8 29.0%,#d0d9f8 46.4%,#b2bdf8 58.3%,#8c9ff4 69.4%,#8096f3 79.0%,#8da0f5 88.5%,#b3bef8 99.6%)"></i><i style="background:linear-gradient(90deg,#f0f2f4 0.4%,#e7ebf8 29.0%,#d1d9f8 45.6%,#b1bdf8 57.5%,#8c9ff4 67.9%,#7d94f3 76.6%,#859af4 85.3%,#a6b3f7 95.6%,#b5c0f8 99.6%)"></i><i style="background:linear-gradient(90deg,#f0f2f4 0.4%,#e7ecf8 28.2%,#d1d9f8 44.8%,#b3bff8 56.0%,#8a9df4 67.1%,#7a92f2 75.8%,#8197f3 83.7%,#a1b0f7 94.0%,#b7c2f8 99.6%)"></i><i style="background:linear-gradient(90deg,#f0f2f4 0.4%,#e7ebf8 28.2%,#d2d9f8 44.0%,#b3bff8 55.2%,#8a9ef4 65.5%,#778ff2 75.0%,#7e95f3 82.9%,#a0aff7 93.3%,#b9c4f8 99.6%)"></i><i style="background:linear-gradient(90deg,#f0f2f4 0.4%,#e7ebf8 28.2%,#d0d8f8 44.0%,#b3bef8 54.4%,#869af4 65.5%,#728af1 75.0%,#7c93f2 82.1%,#a3b1f7 93.3%,#bcc7f8 99.6%)"></i><i style="background:linear-gradient(90deg,#f0f2f4 0.4%,#e7ecf8 27.4%,#d1d9f8 43.3%,#b5c1f8 52.8%,#879bf4 63.9%,#6d85f0 73.4%,#728af1 79.0%,#9aaaf6 90.9%,#bfcaf8 99.6%)"></i><i style="background:linear-gradient(90deg,#f0f2f4 0.4%,#e7ecf8 27.4%,#d1d9f8 42.5%,#b5c1f8 52.0%,#859af4 63.1%,#6a82f0 71.8%,#6c84f0 77.4%,#9dacf6 90.9%,#c2ccf8 99.6%)"></i><i style="background:linear-gradient(90deg,#f1f2f3 0.4%,#e7ebf8 27.4%,#d0d8f8 42.5%,#b3bef8 52.0%,#8398f3 62.3%,#657def 71.0%,#677ff0 76.6%,#a1aff7 90.9%,#c5cff8 99.6%)"></i><i style="background:linear-gradient(90deg,#f1f2f3 0.4%,#e7ecf8 26.6%,#d1d9f8 41.7%,#b6c1f8 50.4%,#7e95f3 62.3%,#627aef 69.4%,#6179ef 75.0%,#899df4 85.3%,#c0cbf8 97.2%,#c8d2f8 99.6%)"></i><i style="background:linear-gradient(90deg,#f1f2f3 0.4%,#e7ecf8 26.6%,#d2daf8 40.9%,#b6c2f8 49.6%,#7c93f3 61.5%,#5d75ee 68.7%,#5a72ee 73.4%,#6e86f1 79.0%,#bec9f8 95.6%,#cbd4f8 99.6%)"></i><i style="background:linear-gradient(90deg,#f1f2f3 0.4%,#e7ecf8 26.6%,#d3daf8 40.1%,#b7c2f8 48.8%,#6d85f0 63.1%,#556eee 68.7%,#566fee 73.4%,#6f87f1 79.0%,#8fa1f5 85.3%,#bfc9f8 94.8%,#ced6f8 99.6%)"></i><i style="background:linear-gradient(90deg,#f1f2f3 0.4%,#e7ecf8 26.6%,#d2daf8 40.1%,#b8c3f8 48.0%,#6f87f1 61.5%,#526bee 67.1%,#4e67ee 71.0%,#5e76ee 75.8%,#8298f3 82.1%,#bcc7f8 93.3%,#d1d9f8 99.6%)"></i><i style="background:linear-gradient(90deg,#f1f2f3 0.4%,#e7ecf8 26.6%,#d1d9f8 40.1%,#b5c1f8 48.0%,#728af1 59.9%,#4d66ee 66.3%,#4862ee 70.2%,#556eee 74.2%,#8297f3 81.3%,#bdc8f8 92.5%,#d4dbf8 99.6%)"></i><i style="background:linear-gradient(90deg,#f1f2f3 0.4%,#e7ecf8 26.6%,#d2daf8 39.3%,#b6c2f8 47.2%,#6f87f1 59.1%,#4b64ee 64.7%,#435ced 68.7%,#4c66ee 72.6%,#7c93f3 79.8%,#bbc6f8 90.9%,#d7def8 99.6%)"></i><i style="background:linear-gradient(90deg,#f1f2f3 0.4%,#e8ecf8 25.8%,#d3dbf8 38.5%,#b7c3f8 46.4%,#748cf1 57.5%,#4660ee 63.9%,#3f57ec 67.9%,#4861ee 71.8%,#7c93f2 79.0%,#bdc7f8 90.1%,#dae0f8 99.6%)"></i><i style="background:linear-gradient(90deg,#f1f3f3 0.4%,#e8ecf8 25.8%,#d3daf8 38.5%,#b9c4f8 45.6%,#738bf1 56.7%,#4660ee 62.3%,#3c52ec 66.3%,#415aed 70.2%,#546dee 73.4%,#7b93f2 78.2%,#bac5f8 88.5%,#d5ddf8 96.4%,#dde2f8 99.6%)"></i><i style="background:linear-gradient(90deg,#f1f3f3 0.4%,#e8ecf8 25.8%,#d2daf8 38.5%,#b7c2f8 45.6%,#728af1 56.0%,#445ded 61.5%,#384eeb 65.5%,#3e56ec 69.4%,#526bee 72.6%,#7b92f2 77.4%,#bcc7f8 87.7%,#d9dff8 96.4%,#dfe5f8 99.6%)"></i><i style="background:linear-gradient(90deg,#f1f3f3 0.4%,#e7ecf8 26.6%,#d1d9f8 38.5%,#b5c0f8 45.6%,#728af1 55.2%,#415aed 60.7%,#354aea 64.7%,#3c52ec 68.7%,#4f69ee 71.8%,#7c93f2 76.6%,#bac5f8 86.1%,#d6ddf8 94.0%,#e1e7f8 99.6%)"></i><i style="background:linear-gradient(90deg,#f1f3f3 0.4%,#e7ecf8 26.6%,#d3dbf8 37.7%,#bbc6f8 44.0%,#7a92f2 53.6%,#445dee 59.1%,#3448ea 63.1%,#374beb 67.1%,#4660ee 70.2%,#7c93f3 75.8%,#b8c4f8 84.5%,#d4dbf8 91.7%,#e4e9f8 99.6%)"></i><i style="background:linear-gradient(90deg,#f2f3f2 0.4%,#e8ecf8 26.6%,#d3daf8 37.7%,#b9c4f8 44.0%,#748cf1 53.6%,#435ced 58.3%,#3448ea 61.5%,#3549ea 66.3%,#455fee 69.4%,#7890f2 74.2%,#bbc6f8 83.7%,#d6ddf8 90.9%,#e6ebf8 99.6%)"></i><i style="background:linear-gradient(90deg,#f2f3f2 0.4%,#e8ecf8 26.6%,#d2daf8 37.7%,#b8c3f8 44.0%,#768ef2 52.8%,#435ced 57.5%,#3347e9 60.7%,#3448ea 65.5%,#455fee 68.7%,#7991f2 73.4%,#b9c5f8 82.1%,#d3dbf8 88.5%,#e8edf8 99.6%)"></i><i style="background:linear-gradient(90deg,#f2f3f2 0.4%,#e8edf8 26.6%,#d2daf8 37.7%,#bbc6f8 43.3%,#7991f2 52.0%,#445ded 56.7%,#3347e9 59.9%,#3447ea 64.7%,#4660ee 67.9%,#7c93f2 72.6%,#b8c3f8 80.6%,#d3dbf8 86.9%,#eaeef8 98.8%,#ebeff8 99.6%)"></i><i style="background:linear-gradient(90deg,#f2f3f2 0.4%,#e8ecf8 27.4%,#d2daf8 37.7%,#bac5f8 43.3%,#748cf1 52.0%,#3f57ed 56.7%,#3347e9 59.1%,#3448ea 63.9%,#4962ee 67.1%,#7890f2 71.0%,#bcc7f8 79.8%,#d8dff8 86.9%,#ecf0f8 99.6%)"></i><i style="background:linear-gradient(90deg,#f2f3f2 0.4%,#e8edf8 27.4%,#d3daf8 37.7%,#b9c4f8 43.3%,#7991f2 51.2%,#425bed 56.0%,#3448ea 58.3%,#3347e9 62.3%,#445eee 65.5%,#7c93f2 70.2%,#bbc6f8 78.2%,#d6ddf8 84.5%,#ecf0f8 96.4%,#edf1f7 99.6%)"></i><i style="background:linear-gradient(90deg,#f2f3f1 0.4%,#e9edf8 27.4%,#d3dbf8 37.7%,#b9c4f8 43.3%,#768ef2 51.2%,#4660ee 55.2%,#3549ea 58.3%,#364aea 61.5%,#4963ee 64.7%,#7991f2 68.7%,#bbc6f8 76.6%,#d7def8 82.9%,#ecf0f8 94.8%,#eef1f6 99.6%)"></i><i style="background:linear-gradient(90deg,#f3f4f1 0.4%,#e9edf8 28.2%,#d4dbf8 37.7%,#b9c4f8 43.3%,#748cf1 51.2%,#455fee 55.2%,#384deb 58.3%,#3b51eb 60.7%,#4862ee 63.1%,#7890f2 67.1%,#bbc6f8 75.0%,#d7def8 81.3%,#ecf0f8 93.3%,#eff1f5 99.6%)"></i><i style="background:linear-gradient(90deg,#f3f4f0 0.4%,#eaeef8 28.2%,#d5dcf8 37.7%,#b9c5f8 43.3%,#738bf1 51.2%,#4862ee 55.2%,#3f56ec 57.5%,#415aed 59.9%,#536cee 62.3%,#7e95f3 66.3%,#bcc6f8 73.4%,#d9dff8 79.8%,#ecf0f8 90.9%,#f0f2f4 99.6%)"></i><i style="background:linear-gradient(90deg,#f3f4f0 0.4%,#eaeef8 29.0%,#d3dbf8 38.5%,#bbc6f8 43.3%,#758df2 51.2%,#4f68ee 55.2%,#4861ee 57.5%,#516aee 59.9%,#7f96f3 64.7%,#bdc8f8 71.8%,#dae0f8 78.2%,#edf0f7 89.3%,#f1f2f3 99.6%)"></i><i style="background:linear-gradient(90deg,#f3f4f0 0.4%,#eaeef8 29.8%,#d5dcf8 38.5%,#bdc8f8 43.3%,#728af1 52.0%,#5b73ee 55.2%,#5a72ee 57.5%,#6e86f1 60.7%,#bfcaf8 70.2%,#dce2f8 76.6%,#edf1f7 86.9%,#f1f3f3 99.6%)"></i><i style="background:linear-gradient(90deg,#f3f4ef 0.4%,#eaeef8 30.6%,#d5dcf8 39.3%,#bbc6f8 44.0%,#859af4 50.4%,#6d85f0 54.4%,#6b83f0 56.7%,#8ea0f5 62.3%,#c3cdf8 68.7%,#e0e5f8 75.8%,#eef1f6 85.3%,#f2f3f2 99.6%)"></i><i style="background:linear-gradient(90deg,#f4f5ef 0.4%,#ebeff8 31.3%,#d5dcf8 40.1%,#bbc6f8 44.8%,#8ea0f5 50.4%,#7e94f3 54.4%,#8398f3 57.5%,#9babf6 61.5%,#c2cdf8 66.3%,#e0e6f8 73.4%,#eef1f6 82.1%,#f3f4f1 99.6%)"></i><i style="background:linear-gradient(90deg,#f4f5ee 0.4%,#ebeff8 32.9%,#d6ddf8 40.9%,#b7c2f8 46.4%,#95a6f6 51.2%,#8fa1f5 55.2%,#9babf6 58.3%,#ccd5f8 65.5%,#e5eaf8 72.6%,#eff2f5 82.1%,#f3f4f0 99.6%)"></i><i style="background:linear-gradient(90deg,#f4f5ed 0.4%,#ecf0f8 33.7%,#d5dcf8 42.5%,#a6b4f7 52.0%,#a7b5f7 55.2%,#dde3f8 66.3%,#edf1f7 75.0%,#f4f5ee 99.6%)"></i><i style="background:linear-gradient(90deg,#f5f6ed 0.4%,#ecf0f8 36.1%,#d4dcf8 44.8%,#bdc8f8 52.0%,#c6d0f8 56.7%,#e6ebf8 66.3%,#f0f2f4 76.6%,#f4f5ed 99.6%)"></i><i style="background:linear-gradient(90deg,#f5f6ec 0.4%,#edf1f7 37.7%,#d2daf8 52.0%,#edf1f7 66.3%,#f5f6ec 99.6%)"></i><i style="background:linear-gradient(90deg,#f5f6eb 0.4%,#eff1f5 40.1%,#e6ebf8 52.8%,#f3f4f0 72.6%,#f5f6eb 99.6%)"></i><i style="background:linear-gradient(90deg,#f6f7eb 0.4%,#f2f3f2 44.8%,#f6f7eb 99.6%)"></i><i style="background:linear-gradient(90deg,#f6f7e9 0.4%,#f7f8e1 40.1%,#f7f8dd 53.6%,#f6f7e8 82.9%,#f6f7e9 99.6%)"></i><i style="background:linear-gradient(90deg,#f6f7e6 0.4%,#f7f8db 27.4%,#f8f9c7 37.7%,#f8faab 47.2%,#f8fab0 52.8%,#f8f9d4 64.7%,#f7f8e3 82.1%,#f6f7e7 99.6%)"></i><i style="background:linear-gradient(90deg,#f7f8e3 0.4%,#f8f9d6 22.6%,#f8fac0 32.1%,#fafa82 45.6%,#fafa80 49.6%,#f8f9c4 64.7%,#f7f8d7 74.2%,#f6f7e4 99.6%)"></i><i style="background:linear-gradient(90deg,#f7f8e0 0.4%,#f8f9d0 20.2%,#f8fab4 29.8%,#fafa8e 36.9%,#faf86d 41.7%,#f8f061 46.4%,#f9f569 51.2%,#fafa7f 55.2%,#f8faab 62.3%,#f8f9ca 71.0%,#f7f8dc 85.3%,#f7f8e2 99.6%)"></i><i style="background:linear-gradient(90deg,#f7f8dd 0.4%,#f8f9cc 17.1%,#f8faaf 26.6%,#fafa8e 32.9%,#f9f76b 37.7%,#f3dd4d 44.0%,#f3dc4c 48.0%,#f9f364 53.6%,#fafa7f 57.5%,#f9faa7 63.9%,#f8f9c7 73.4%,#f7f8da 87.7%,#f7f8e0 99.6%)"></i><i style="background:linear-gradient(90deg,#f7f8d9 0.4%,#f8f9c8 14.7%,#f9faa7 25.0%,#fafa82 31.3%,#f9f466 35.3%,#f0d141 41.7%,#efc340 44.8%,#efca40 48.0%,#f3da4a 51.2%,#f9f568 56.0%,#fafa7e 59.1%,#f9faa5 65.5%,#f8f9c7 75.8%,#f7f8d9 90.9%,#f7f8de 99.6%)"></i><i style="background:linear-gradient(90deg,#f8f9d5 0.4%,#f8f9c1 13.9%,#f9fa9c 24.2%,#faf86d 31.3%,#f6e959 34.5%,#f0d040 38.5%,#edb93f 40.9%,#e9ad3d 44.0%,#ebb33e 47.2%,#efc240 49.6%,#f2d646 52.0%,#f9f366 56.7%,#fafa81 60.7%,#f9faa5 67.1%,#f8f9c5 77.4%,#f7f8d8 92.5%,#f7f8dc 99.6%)"></i><i style="background:linear-gradient(90deg,#f8f9d1 0.4%,#f8faba 13.1%,#fafa96 22.6%,#faf86c 29.0%,#f6e959 32.1%,#f0cd40 36.1%,#ebb43e 38.5%,#e59437 42.5%,#e49236 44.8%,#e7a33a 47.2%,#efc740 51.2%,#f1d646 52.8%,#f9f365 57.5%,#fafa7f 61.5%,#f9faa6 68.7%,#f8f9c6 79.8%,#f7f8d9 96.4%,#f7f8da 99.6%)"></i><i style="background:linear-gradient(90deg,#f8f9cd 0.4%,#f8fab1 13.1%,#fafa91 21.0%,#faf86d 26.6%,#f7ea5a 29.8%,#f0cf40 33.7%,#ebb43e 36.1%,#e28834 40.1%,#e07c32 42.5%,#e18033 44.8%,#e49237 47.2%,#eab03d 49.6%,#f0d242 52.8%,#f9f466 58.3%,#fafa7f 62.3%,#f9faa5 69.4%,#f8f9c6 81.3%,#f7f8d8 98.8%,#f7f8d9 99.6%)"></i><i style="background:linear-gradient(90deg,#f8f9c8 0.4%,#f8faa9 13.1%,#fafa84 21.0%,#f9f66a 25.0%,#f4e252 29.0%,#efcb40 32.1%,#e8a93c 35.3%,#e28634 37.7%,#db6436 40.9%,#db6236 43.3%,#df7932 45.6%,#e7a13a 48.8%,#f1d545 53.6%,#f8f264 58.3%,#fafa7b 62.3%,#f9faa1 69.4%,#f8f9c4 82.1%,#f7f8d7 99.6%)"></i><i style="background:linear-gradient(90deg,#f8f9c2 0.4%,#f9faa0 13.1%,#fafa7b 20.2%,#f9f364 24.2%,#f0d141 29.8%,#e7a53b 33.7%,#df7733 36.9%,#d85538 39.3%,#d74835 40.9%,#d74a35 42.5%,#db6336 44.8%,#e28634 47.2%,#e8aa3c 49.6%,#f1d343 53.6%,#f9f466 59.1%,#fafa7d 63.1%,#f9faa4 71.0%,#f8f9c4 83.7%,#f8f9d6 99.6%)"></i><i style="background:linear-gradient(90deg,#f8fabd 0.4%,#f9fa9a 12.3%,#f9f76b 21.0%,#f5e555 25.0%,#f0d141 28.2%,#e7a53b 32.1%,#de7433 35.3%,#d74b35 37.7%,#d53830 39.3%,#d5322e 40.9%,#d63b31 42.5%,#da5d37 44.8%,#e28534 47.2%,#e8aa3c 49.6%,#f1d343 53.6%,#f9f365 59.1%,#fafa7b 63.1%,#f9faa1 71.0%,#f8f9c4 84.5%,#f8f9d5 99.6%)"></i><i style="background:linear-gradient(90deg,#f8fab7 0.4%,#fafa95 11.5%,#faf86d 18.7%,#f6e959 22.6%,#f0d141 26.6%,#e7a73b 30.6%,#df7633 33.7%,#d95837 35.3%,#d5302e 37.7%,#d1292c 39.3%,#d42b2c 41.7%,#d84f37 44.0%,#e07c32 46.4%,#e8ab3c 49.6%,#f1d343 53.6%,#f8f264 59.1%,#fafa79 63.1%,#f9fa9f 71.0%,#f8f9c3 85.3%,#f8f9d3 99.6%)"></i><i style="background:linear-gradient(90deg,#f8fab1 0.4%,#fafa8f 10.7%,#faf86d 17.1%,#f6e959 21.0%,#efca40 25.8%,#e8aa3c 29.0%,#e07b32 32.1%,#d74c36 34.5%,#d5302e 36.1%,#cd272b 37.7%,#cb272b 40.1%,#d42a2c 41.7%,#d85338 44.0%,#e17f33 46.4%,#e9ad3d 49.6%,#f1d444 53.6%,#f8f264 59.1%,#fafa7c 63.9%,#f9faa3 72.6%,#f8f9c4 86.9%,#f8f9d2 99.6%)"></i><i style="background:linear-gradient(90deg,#f8faac 0.4%,#fafa8a 9.9%,#f9f669 16.3%,#f5e555 20.2%,#f0cd40 24.2%,#e7a23a 28.2%,#de7233 31.3%,#d85438 32.9%,#d32a2c 35.3%,#c7252b 37.7%,#cb272b 40.1%,#d42d2d 41.7%,#d95a37 44.0%,#e28434 46.4%,#eab03d 49.6%,#f0d040 52.8%,#f8f264 59.1%,#fafa7b 63.9%,#f9faa1 72.6%,#f8f9c4 87.7%,#f8f9d1 99.6%)"></i><i style="background:linear-gradient(90deg,#f9faa6 0.4%,#fafa82 9.9%,#f9f669 14.7%,#f5e656 18.7%,#f0d040 22.6%,#e8a93c 26.6%,#e07c32 29.8%,#d84f37 32.1%,#d5312e 33.7%,#d1292c 34.5%,#c6252a 36.9%,#ca262b 39.3%,#d42a2c 40.9%,#d85538 43.3%,#e18033 45.6%,#e9ac3c 48.8%,#f2d646 53.6%,#f8f264 59.1%,#fafa7b 63.9%,#f9faa0 72.6%,#f8f9c3 88.5%,#f8f9d0 99.6%)"></i><i style="background:linear-gradient(90deg,#f9faa1 0.4%,#fafa7d 9.1%,#f9f466 13.9%,#f0d242 21.0%,#e7a43b 25.8%,#df7833 29.0%,#d74c36 31.3%,#d5302e 32.9%,#cc272b 34.5%,#c6252a 36.9%,#d32a2c 40.1%,#d85238 42.5%,#e07d32 44.8%,#eab03d 48.8%,#f1d343 52.8%,#f9f364 59.1%,#fafa7b 63.9%,#f9faa2 73.4%,#f8f9c3 89.3%,#f8f9cf 99.6%)"></i><i style="background:linear-gradient(90deg,#f9fa9b 0.4%,#fafa74 9.1%,#f7ec5c 14.7%,#f0cf40 20.2%,#e8ab3c 24.2%,#df7533 28.2%,#d74c36 30.6%,#d5312e 32.1%,#d2292c 32.9%,#c8252b 36.1%,#d42b2c 39.3%,#d85237 41.7%,#e07b32 44.0%,#e9ad3d 48.0%,#f1d545 52.8%,#f9f365 59.1%,#fafa7f 64.7%,#f9faa3 74.2%,#f8f9c4 90.9%,#f8f9ce 99.6%)"></i><i style="background:linear-gradient(90deg,#fafa95 0.4%,#f9f76b 9.9%,#f5e555 14.7%,#f0cb40 19.4%,#e8a83c 23.4%,#de7433 27.4%,#d74d36 29.8%,#d42b2c 32.1%,#cb272b 35.3%,#d2292c 37.7%,#d53930 39.3%,#d85338 40.9%,#e18333 44.0%,#e9ac3c 47.2%,#f1d343 52.0%,#f9f466 59.1%,#fafa7f 64.7%,#f9faa4 75.0%,#f8f9c5 92.5%,#f8f9cd 99.6%)"></i><i style="background:linear-gradient(90deg,#fafa8f 0.4%,#f9f76b 8.3%,#f6e757 13.1%,#f0d040 17.9%,#e7a63b 22.6%,#df7533 26.6%,#d85137 29.0%,#d5312e 31.3%,#d1292c 32.9%,#d2292c 36.1%,#d5342f 37.7%,#d85638 40.1%,#e18333 43.3%,#e8aa3c 46.4%,#f1d646 52.0%,#f9f467 59.1%,#fafa7f 64.7%,#f9faa4 75.0%,#f8f9c5 92.5%,#f8f9cc 99.6%)"></i><i style="background:linear-gradient(90deg,#fafa88 0.4%,#f9f669 7.5%,#f5e555 12.3%,#f0cd40 17.1%,#e7a53b 21.8%,#df7733 25.8%,#d85638 28.2%,#d53830 30.6%,#d42a2c 32.9%,#d42e2d 35.3%,#d64433 37.7%,#db6436 40.1%,#e18333 42.5%,#eaaf3d 46.4%,#f1d444 51.2%,#f9f365 58.3%,#fafa7c 63.9%,#f9faa1 74.2%,#f8f9c4 92.5%,#f8f9cc 99.6%)"></i><i style="background:linear-gradient(90deg,#fafa82 0.4%,#f9f567 6.7%,#f2d949 13.9%,#efc440 17.1%,#e7a53b 21.0%,#e07a32 25.0%,#d85137 28.2%,#d63a31 30.6%,#d5332e 32.9%,#d63c31 35.3%,#da5e36 38.5%,#e28434 41.7%,#eaaf3d 45.6%,#f1d343 50.4%,#f9f466 58.3%,#fafa7d 63.9%,#f9faa3 75.0%,#f8f9c5 94.0%,#f8f9cb 99.6%)"></i><i style="background:linear-gradient(90deg,#fafa7c 0.4%,#f9f466 6.0%,#f0d040 14.7%,#e7a53b 20.2%,#e18333 23.4%,#d74935 29.0%,#d63d31 31.3%,#d64133 33.7%,#d95b37 36.9%,#e28634 40.9%,#e9ae3d 44.8%,#f1d545 50.4%,#f9f467 58.3%,#fafa81 64.7%,#f9faa6 76.6%,#f8f9c6 95.6%,#f8f9ca 99.6%)"></i><i style="background:linear-gradient(90deg,#fafa76 0.4%,#f7eb5b 7.5%,#f0cf40 13.9%,#e7a63b 19.4%,#df7833 24.2%,#d85338 28.2%,#d74834 30.6%,#d74b35 32.9%,#dc6935 36.9%,#e28834 40.1%,#eaaf3d 44.0%,#f1d545 49.6%,#f9f365 57.5%,#fafa7b 63.1%,#f9faa1 74.2%,#f8f9c4 94.0%,#f8f9ca 99.6%)"></i><i style="background:linear-gradient(90deg,#fafa70 0.4%,#f6ea5a 6.7%,#f0ce40 13.1%,#e69e39 19.4%,#df7533 24.2%,#d95738 28.2%,#d85338 31.3%,#db6236 34.5%,#e38a35 39.3%,#eaaf3d 43.3%,#f1d444 48.8%,#f9f467 57.5%,#fafa7f 63.9%,#f9faa4 75.8%,#f8f9c5 95.6%,#f8f9c9 99.6%)"></i><i style="background:linear-gradient(90deg,#f9f76c 0.4%,#f5e555 6.7%,#f0ce40 12.3%,#e7a13a 18.7%,#e18033 22.6%,#da5f36 27.4%,#da5c37 30.6%,#dc6a35 33.7%,#e38d35 38.5%,#eab03d 42.5%,#f1d343 48.0%,#f9f366 56.7%,#fafa7d 63.1%,#f9faa2 75.0%,#f8f9c4 95.6%,#f8f9c9 99.6%)"></i><i style="background:linear-gradient(90deg,#f9f568 0.4%,#f3de4e 7.5%,#efc840 12.3%,#e7a33a 17.9%,#e28434 21.8%,#dc6635 27.4%,#dc6635 30.6%,#e38b35 36.9%,#eab03d 41.7%,#f1d343 47.2%,#f9f467 56.7%,#fafa7e 63.1%,#f9faa4 75.8%,#f8f9c6 97.2%,#f8f9c8 99.6%)"></i><i style="background:linear-gradient(90deg,#f9f365 0.4%,#f0ce40 10.7%,#eab03d 15.5%,#e18333 21.8%,#dd6e34 26.6%,#de7234 30.6%,#e59437 36.9%,#e9ad3d 40.1%,#f1d343 46.4%,#f9f466 56.0%,#fafa7f 63.1%,#f9faa4 75.8%,#f8f9c5 97.2%,#f8f9c8 99.6%)"></i><i style="background:linear-gradient(90deg,#f8f162 0.4%,#f0ce40 9.9%,#e9ad3d 15.5%,#e28834 21.0%,#df7633 26.6%,#e17f33 31.3%,#e59838 36.1%,#eaaf3d 39.3%,#f1d343 45.6%,#f9f365 55.2%,#fafa7a 61.5%,#f9faa1 74.2%,#f8f9c4 96.4%,#f8f9c7 99.6%)"></i><i style="background:linear-gradient(90deg,#f8ee5e 0.4%,#f0ce40 9.1%,#eaaf3d 14.7%,#e38935 21.0%,#e07e32 26.6%,#e38a35 32.1%,#ebb43e 39.3%,#f1d343 44.8%,#f9f467 55.2%,#fafa7f 62.3%,#f9faa5 75.8%,#f8f9c5 98.0%,#f8f9c7 99.6%)"></i><i style="background:linear-gradient(90deg,#f7eb5b 0.4%,#efca40 9.1%,#e69f39 17.1%,#e38a35 21.0%,#e18333 26.6%,#e49236 32.1%,#ebb23e 37.7%,#f1d343 44.0%,#f9f466 54.4%,#fafa7d 61.5%,#f9faa3 75.0%,#f8f9c5 98.0%,#f8f9c7 99.6%)"></i><i style="background:linear-gradient(90deg,#f6e858 0.4%,#f0cb40 8.3%,#eaaf3d 13.9%,#e38d35 21.0%,#e38935 26.6%,#e59738 31.3%,#ebb43e 36.9%,#f1d444 43.3%,#f9f568 54.4%,#fafa82 62.3%,#f9faa7 76.6%,#f8f9c6 99.6%)"></i><i style="background:linear-gradient(90deg,#f5e555 0.4%,#f0cc40 7.5%,#e9ae3d 13.9%,#e49036 21.0%,#e48f36 26.6%,#e7a53b 32.1%,#efc940 40.1%,#f6e858 48.8%,#fafa72 57.5%,#f9fa9b 71.0%,#f8f9c0 94.0%,#f8f9c6 99.6%)"></i><i style="background:linear-gradient(90deg,#f4e252 0.4%,#efc940 7.5%,#eab13d 13.1%,#e59437 21.0%,#e59738 26.6%,#efc640 38.5%,#f2d747 42.5%,#f9f467 52.8%,#fafa7f 60.7%,#f9faa6 75.8%,#f8f9c6 99.6%)"></i><i style="background:linear-gradient(90deg,#f4df4f 0.4%,#efcb40 6.7%,#eab03d 13.1%,#e59a38 21.0%,#e69f39 26.6%,#efc440 36.9%,#f1d545 40.9%,#f9f466 52.0%,#fafa7e 59.9%,#f9faa4 75.0%,#f8f9c6 99.6%)"></i><i style="background:linear-gradient(90deg,#f3dd4d 0.4%,#f0cd40 6.0%,#ebb33e 12.3%,#e69f3a 21.0%,#e8a73b 26.6%,#efc240 35.3%,#f1d646 40.1%,#f9f568 52.0%,#fafa85 61.5%,#f8faaa 78.2%,#f8f9c5 99.6%)"></i><i style="background:linear-gradient(90deg,#f3dc4c 0.4%,#efcb40 6.0%,#ebb33e 12.3%,#e7a53b 21.0%,#edb83f 31.3%,#f1d242 37.7%,#f9f567 51.2%,#fafa81 59.9%,#f9faa7 75.8%,#f8f9c5 99.6%)"></i><i style="background:linear-gradient(90deg,#f3da4a 0.4%,#efc940 6.0%,#ebb43e 12.3%,#e8ab3c 21.0%,#edba40 30.6%,#f1d343 36.9%,#f9f567 50.4%,#fafa80 59.1%,#f9faa7 75.8%,#f8f9c5 99.6%)"></i><i style="background:linear-gradient(90deg,#f2d949 0.4%,#efc840 6.0%,#ebb43e 12.3%,#e9ae3d 21.0%,#eebd40 29.8%,#f1d444 36.1%,#f9f467 49.6%,#fafa7f 58.3%,#f9faa6 75.0%,#f8f9c5 99.6%)"></i><i style="background:linear-gradient(90deg,#f2d848 0.4%,#efc740 6.0%,#ecb63f 12.3%,#eab13e 21.0%,#eec040 29.0%,#f1d545 35.3%,#f9f467 48.8%,#fafa81 58.3%,#f9faa8 75.8%,#f8f9c5 99.6%)"></i><i style="background:linear-gradient(90deg,#f2d747 0.4%,#efc740 6.0%,#ecb63f 13.1%,#ecb63f 22.6%,#efc840 29.8%,#f2d949 36.1%,#f9f569 48.8%,#fafa87 59.9%,#f8faac 78.2%,#f8f9c5 99.6%)"></i><i style="background:linear-gradient(90deg,#f2d646 0.4%,#efc740 6.0%,#edb83f 13.1%,#edba40 22.6%,#f1d343 32.1%,#f9f569 48.0%,#fafa86 59.1%,#f8faac 78.2%,#f8f9c5 99.6%)"></i><i style="background:linear-gradient(90deg,#f1d545 0.4%,#efc540 6.7%,#edb93f 14.7%,#eec040 23.4%,#f1d343 30.6%,#f9f569 47.2%,#fafa86 58.3%,#f8faab 77.4%,#f8f9c5 99.6%)"></i><i style="background:linear-gradient(90deg,#f1d545 0.4%,#efc440 7.5%,#eebc40 16.3%,#efc940 25.0%,#f2d949 32.1%,#f9f569 46.4%,#fafa85 57.5%,#f8faaa 76.6%,#f8f9c5 99.6%)"></i><i style="background:linear-gradient(90deg,#f1d545 0.4%,#efc540 8.3%,#eec040 17.1%,#f1d444 28.2%,#f9f66a 46.4%,#fafa97 64.7%,#f8fabd 90.9%,#f8f9c5 99.6%)"></i><i style="background:linear-gradient(90deg,#f1d545 0.4%,#efc640 9.1%,#efc540 17.9%,#f1d444 26.6%,#f9f66a 45.6%,#fafa98 64.7%,#f8fabe 92.5%,#f8f9c5 99.6%)"></i><i style="background:linear-gradient(90deg,#f1d545 0.4%,#efc740 10.7%,#f0cd40 20.2%,#f5e555 34.5%,#faf96f 47.2%,#f9fa9d 67.1%,#f8f9c3 97.2%,#f8f9c5 99.6%)"></i><i style="background:linear-gradient(90deg,#f1d545 0.4%,#efca40 11.5%,#f1d444 23.4%,#f9f76c 44.8%,#f9fa9f 67.9%,#f8f9c3 98.0%,#f8f9c5 99.6%)"></i><i style="background:linear-gradient(90deg,#f1d545 0.4%,#f0cd40 13.1%,#f3da4a 25.8%,#f9f76b 43.3%,#f9faa0 67.9%,#f8f9c4 98.8%,#f8f9c5 99.6%)"></i><i style="background:linear-gradient(90deg,#f1d646 0.4%,#f0d141 14.7%,#f5e656 31.3%,#fafa70 45.6%,#f9fa9d 65.5%,#f8f9c2 96.4%,#f8f9c5 99.6%)"></i><i style="background:linear-gradient(90deg,#f2d646 0.4%,#f1d343 14.7%,#f6e858 31.3%,#fafa73 45.6%,#f9fa9f 66.3%,#f8f9c3 98.0%,#f8f9c5 99.6%)"></i><i style="background:linear-gradient(90deg,#f2d747 0.4%,#f1d646 15.5%,#f7ec5c 32.1%,#fafa77 46.4%,#f9faa2 67.9%,#f8f9c5 99.6%)"></i><i style="background:linear-gradient(90deg,#f2d848 0.4%,#f2d848 15.5%,#f8ee5e 32.1%,#fafa79 46.4%,#f9faa3 67.9%,#f8f9c5 99.6%)"></i><i style="background:linear-gradient(90deg,#f2d949 0.4%,#f3da4a 16.3%,#fafa71 42.5%,#f9fa9f 64.7%,#f8f9c4 98.0%,#f8f9c5 99.6%)"></i><i style="background:linear-gradient(90deg,#f2da4a 0.4%,#f3dc4c 16.3%,#fafa71 41.7%,#f9fa9e 63.9%,#f8f9c3 97.2%,#f8f9c5 99.6%)"></i><i style="background:linear-gradient(90deg,#f3db4b 0.4%,#f4df4f 17.1%,#fafa70 40.1%,#f9fa9e 63.1%,#f8f9c3 97.2%,#f8f9c5 99.6%)"></i><i style="background:linear-gradient(90deg,#f3dc4c 0.4%,#f4e151 17.1%,#fafa70 39.3%,#f9fa9f 63.1%,#f8f9c4 98.0%,#f8f9c5 99.6%)"></i><i style="background:linear-gradient(90deg,#f3dd4d 0.4%,#f5e353 17.1%,#fafa72 39.3%,#f9faa1 63.9%,#f8f9c5 98.8%,#f8f9c5 99.6%)"></i><i style="background:linear-gradient(90deg,#f3de4e 0.4%,#f5e555 17.1%,#fafa73 38.5%,#f9faa0 63.1%,#f8f9c5 98.8%,#f8f9c5 99.6%)"></i><i style="background:linear-gradient(90deg,#f4df4f 0.4%,#f6e757 17.1%,#fafa77 39.3%,#f9faa3 64.7%,#f8f9c5 99.6%)"></i><i style="background:linear-gradient(90deg,#f4e050 0.4%,#f7ea5a 17.9%,#fafa77 38.5%,#f9faa4 64.7%,#f8f9c5 99.6%)"></i><i style="background:linear-gradient(90deg,#f4e252 0.4%,#f7ed5d 18.7%,#fafa79 38.5%,#f9faa6 65.5%,#f8f9c6 99.6%)"></i><i style="background:linear-gradient(90deg,#f5e353 0.4%,#f8f061 20.2%,#fafa7a 37.7%,#f9faa6 65.5%,#f8f9c6 99.6%)"></i></div><div class="hm" style="left:181px;top:161px;width:126px;height:125px"><i style="background:linear-gradient(90deg,#f9fa9f 0.4%,#fafa8f 51.2%,#f9fa9b 70.2%,#f8fab6 83.7%,#f6f7eb 99.6%)"></i><i style="background:linear-gradient(90deg,#f9fa9f 0.4%,#fafa8e 51.2%,#f9fa99 69.4%,#f8fab5 82.9%,#f6f7eb 98.8%,#f5f6ec 99.6%)"></i><i style="background:linear-gradient(90deg,#f9fa9e 0.4%,#fafa8c 50.4%,#fafa98 68.7%,#f8fab3 82.1%,#f6f7eb 98.0%,#f5f6ed 99.6%)"></i><i style="background:linear-gradient(90deg,#f9fa9d 0.4%,#fafa8b 50.4%,#fafa97 68.7%,#f8fab4 82.1%,#f6f7eb 97.2%,#f4f5ee 99.6%)"></i><i style="background:linear-gradient(90deg,#f9fa9c 0.4%,#fafa8a 49.6%,#fafa94 67.1%,#f8fab0 80.6%,#f6f7eb 96.4%,#f4f5ef 99.6%)"></i><i style="background:linear-gradient(90deg,#f9fa9b 0.4%,#fafa88 49.6%,#fafa93 67.1%,#f8fab1 80.6%,#f6f7eb 95.6%,#f3f4f0 99.6%)"></i><i style="background:linear-gradient(90deg,#f9fa9a 0.4%,#fafa86 49.6%,#fafa91 66.3%,#f8faaf 79.8%,#f6f7eb 94.8%,#f3f4f1 99.6%)"></i><i style="background:linear-gradient(90deg,#f9fa9a 0.4%,#fafa85 48.8%,#fafa8f 65.5%,#f8faab 78.2%,#f6f7eb 94.0%,#f2f3f2 99.6%)"></i><i style="background:linear-gradient(90deg,#f9fa99 0.4%,#fafa83 48.8%,#fafa8d 64.7%,#f8faa9 77.4%,#f6f7eb 93.3%,#f1f3f3 99.6%)"></i><i style="background:linear-gradient(90deg,#fafa98 0.4%,#fafa81 48.8%,#fafa8c 64.7%,#f8faaa 77.4%,#f6f7eb 92.5%,#f0f2f4 99.6%)"></i><i style="background:linear-gradient(90deg,#fafa97 0.4%,#fafa80 48.0%,#fafa89 63.9%,#f9faa5 75.8%,#f7f8da 87.7%,#f6f7eb 91.7%,#f0f2f4 99.6%)"></i><i style="background:linear-gradient(90deg,#fafa96 0.4%,#fafa7e 48.0%,#fafa87 63.1%,#f9faa3 75.0%,#f8f9ce 84.5%,#f6f7eb 90.9%,#eff1f5 99.6%)"></i><i style="background:linear-gradient(90deg,#fafa95 0.4%,#fafa7c 48.0%,#fafa86 63.1%,#f9faa1 74.2%,#f8f9c8 82.9%,#f5f6eb 90.1%,#eef1f6 99.6%)"></i><i style="background:linear-gradient(90deg,#fafa94 0.4%,#fafa7a 47.2%,#fafa83 62.3%,#f9fa9f 73.4%,#f8f9c2 81.3%,#f5f6eb 89.3%,#edf0f7 99.6%)"></i><i style="background:linear-gradient(90deg,#fafa93 0.4%,#fafa78 47.2%,#fafa81 61.5%,#f9fa9c 72.6%,#f8f9c1 80.6%,#f5f6eb 88.5%,#ecf0f8 99.6%)"></i><i style="background:linear-gradient(90deg,#fafa92 0.4%,#fafa76 47.2%,#fafa7f 61.5%,#f9fa9a 71.8%,#f8fabf 79.8%,#f5f6eb 87.7%,#eaeef8 99.6%)"></i><i style="background:linear-gradient(90deg,#fafa91 0.4%,#fafa74 47.2%,#fafa7c 60.7%,#fafa97 71.0%,#f8fabd 79.0%,#f5f6eb 86.9%,#e9edf8 98.8%,#e8ecf8 99.6%)"></i><i style="background:linear-gradient(90deg,#fafa90 0.4%,#fafa71 46.4%,#fafa79 59.9%,#fafa94 70.2%,#f8fabb 78.2%,#f5f6eb 86.1%,#e8edf8 98.0%,#e5eaf8 99.6%)"></i><i style="background:linear-gradient(90deg,#fafa8f 0.4%,#fafa70 45.6%,#fafa75 58.3%,#fafa8c 67.9%,#f8fab4 76.6%,#f5f6eb 85.3%,#e9edf8 96.4%,#e3e8f8 99.6%)"></i><i style="background:linear-gradient(90deg,#fafa8d 0.4%,#faf96e 44.0%,#fafa73 58.3%,#fafa8c 67.9%,#f8fab7 76.6%,#f5f6eb 84.5%,#e7ecf8 95.6%,#e1e6f8 99.6%)"></i><i style="background:linear-gradient(90deg,#fafa8c 0.4%,#faf86d 41.7%,#fafa71 58.3%,#fafa8c 67.9%,#f8fab5 75.8%,#f5f6eb 83.7%,#e8edf8 94.0%,#dee4f8 99.6%)"></i><i style="background:linear-gradient(90deg,#fafa8b 0.4%,#faf86c 40.1%,#fafa70 58.3%,#fafa88 67.1%,#f8fab3 75.0%,#f6f7e9 82.1%,#ecf0f8 90.9%,#dce2f8 99.6%)"></i><i style="background:linear-gradient(90deg,#fafa8a 0.4%,#f9f76b 38.5%,#faf86d 56.7%,#fafa7c 63.9%,#f9faa1 71.8%,#f5f6ec 82.1%,#e8ecf8 91.7%,#d9dff8 99.6%)"></i><i style="background:linear-gradient(90deg,#fafa89 0.4%,#f9f76b 36.9%,#f9f76b 56.0%,#fafa78 63.1%,#f9fa9e 71.0%,#f7f8dc 79.0%,#f5f6ec 81.3%,#e8edf8 90.1%,#d6ddf8 99.6%)"></i><i style="background:linear-gradient(90deg,#fafa87 0.4%,#f9f66a 35.3%,#f9f568 54.4%,#fafa74 62.3%,#f9fa9b 70.2%,#f8f9c7 75.8%,#f6f7e9 79.8%,#ebeff8 87.7%,#d3daf8 99.6%)"></i><i style="background:linear-gradient(90deg,#fafa86 0.4%,#f9f569 34.5%,#f9f466 53.6%,#fafa73 62.3%,#f9fa98 69.4%,#f8f9c5 75.0%,#f6f7e9 79.0%,#ecf0f8 86.1%,#d0d8f8 99.6%)"></i><i style="background:linear-gradient(90deg,#fafa85 0.4%,#f9f569 32.1%,#f8f264 52.8%,#fafa72 62.3%,#f9fa9a 69.4%,#f8f9cb 75.0%,#f6f7e9 78.2%,#ecf0f8 85.3%,#cdd6f8 98.8%,#cdd5f8 99.6%)"></i><i style="background:linear-gradient(90deg,#fafa83 0.4%,#f9f568 29.8%,#f8f161 51.2%,#faf96f 61.5%,#fafa91 67.9%,#f8f9c1 73.4%,#f6f7e8 77.4%,#edf0f7 83.7%,#ccd5f8 97.2%,#cad3f8 99.6%)"></i><i style="background:linear-gradient(90deg,#fafa82 0.4%,#f9f568 28.2%,#f8ef5f 50.4%,#f9f76c 60.7%,#fafa7d 64.7%,#f8faae 71.0%,#f6f7e8 76.6%,#ecf0f8 82.9%,#cbd4f8 95.6%,#c7d1f8 99.6%)"></i><i style="background:linear-gradient(90deg,#fafa81 0.4%,#f9f568 26.6%,#f7ec5c 49.6%,#f9f669 59.9%,#fafa79 63.9%,#f8faab 70.2%,#f6f7e8 75.8%,#edf0f7 81.3%,#cad3f8 94.0%,#c4cef8 99.6%)"></i><i style="background:linear-gradient(90deg,#fafa7f 0.4%,#f9f467 25.8%,#f6ea5a 48.8%,#f9f466 59.1%,#fafa74 63.1%,#f8faa8 69.4%,#f6f7e8 75.0%,#ecf0f8 80.6%,#c9d2f8 92.5%,#c1cbf8 99.6%)"></i><i style="background:linear-gradient(90deg,#fafa7e 0.4%,#f9f466 25.0%,#f6e757 48.0%,#f8f161 57.5%,#fafa75 63.1%,#f8faae 69.4%,#f6f7e8 74.2%,#edf1f7 79.0%,#c8d2f8 90.9%,#bdc8f8 99.6%)"></i><i style="background:linear-gradient(90deg,#fafa7c 0.4%,#f9f365 24.2%,#f5e454 48.0%,#f8f060 57.5%,#fafa76 63.1%,#f8faab 68.7%,#f6f7e8 73.4%,#edf0f7 78.2%,#c7d1f8 89.3%,#bbc6f8 98.8%,#bbc6f8 99.6%)"></i><i style="background:linear-gradient(90deg,#fafa7b 0.4%,#f8f162 25.0%,#f4e252 47.2%,#f7eb5b 56.0%,#fafa70 62.3%,#f9faa8 67.9%,#f6f7e8 72.6%,#ecf0f8 77.4%,#c6d0f8 87.7%,#b8c4f8 96.4%,#b8c3f8 99.6%)"></i><i style="background:linear-gradient(90deg,#fafa79 0.4%,#f8f060 25.8%,#f4df4f 47.2%,#f6e959 56.0%,#fafa71 62.3%,#f8faae 67.9%,#f6f7e8 71.8%,#ebf0f8 76.6%,#c2ccf8 86.9%,#b5c1f8 95.6%,#b6c1f8 99.6%)"></i><i style="background:linear-gradient(90deg,#fafa77 0.4%,#f7ed5d 26.6%,#f3dc4c 46.4%,#f5e555 55.2%,#faf86e 61.5%,#fafa97 65.5%,#f6f7e8 71.0%,#edf1f7 75.0%,#bec9f8 86.1%,#b2bef8 94.0%,#b3bff8 99.6%)"></i><i style="background:linear-gradient(90deg,#fafa76 0.4%,#f7eb5b 26.6%,#f2da4a 45.6%,#f4e151 54.4%,#faf96f 61.5%,#f9faa8 66.3%,#f6f7e8 70.2%,#ecf0f8 74.2%,#bdc8f8 84.5%,#afbbf8 92.5%,#b1bdf8 99.6%)"></i><i style="background:linear-gradient(90deg,#fafa74 0.4%,#f7eb5b 25.0%,#f2d747 45.6%,#f4df4f 54.4%,#f9f76b 60.7%,#fafa79 62.3%,#f8fab0 66.3%,#f6f7e7 69.4%,#eef1f6 72.6%,#b8c4f8 83.7%,#abb8f8 91.7%,#afbcf8 99.6%)"></i><i style="background:linear-gradient(90deg,#fafa72 0.4%,#f6e959 24.2%,#f1d444 45.6%,#f3dd4d 54.4%,#f9f467 59.9%,#fafa7e 62.3%,#f8fabc 66.3%,#f6f7e7 68.7%,#eef1f6 71.8%,#b7c2f8 82.1%,#a7b5f7 89.3%,#aebaf8 99.6%)"></i><i style="background:linear-gradient(90deg,#fafa71 0.4%,#f6e959 22.6%,#f0d242 44.8%,#f2d949 53.6%,#f8ee5e 58.3%,#faf96e 60.7%,#f8faaa 64.7%,#f6f7e7 67.9%,#eff2f5 70.2%,#d4dcf8 75.0%,#afbbf8 82.1%,#a3b1f7 88.5%,#acb9f8 99.6%)"></i><i style="background:linear-gradient(90deg,#fafa6f 0.4%,#f6e858 21.8%,#f0cf40 43.3%,#f0d141 50.4%,#f4e050 56.0%,#fafa72 60.7%,#f8fab5 64.7%,#f6f7e7 67.1%,#eff1f5 69.4%,#b1bcf8 79.8%,#a0aef7 85.3%,#a2b0f7 94.0%,#abb8f8 99.6%)"></i><i style="background:linear-gradient(90deg,#faf96e 0.4%,#f6e858 20.2%,#f0cc40 40.9%,#efc840 48.0%,#f1d343 52.8%,#f5e454 56.7%,#faf86d 59.9%,#f9faa2 63.1%,#f6f7e7 66.3%,#eff1f5 68.7%,#aab7f8 79.0%,#9aaaf6 84.5%,#9eadf7 93.3%,#aab7f7 99.6%)"></i><i style="background:linear-gradient(90deg,#faf86d 0.4%,#f6e858 18.7%,#f0cc40 37.7%,#eec140 46.4%,#efcb40 51.2%,#f3db4b 55.2%,#f9f669 59.1%,#fafa71 59.9%,#f8faae 63.1%,#f6f7e6 65.5%,#eef1f6 67.9%,#a8b6f7 77.4%,#97a7f6 82.1%,#98a8f6 90.9%,#a9b6f7 99.6%)"></i><i style="background:linear-gradient(90deg,#faf86c 0.4%,#f6e757 17.9%,#efca40 36.1%,#eebb40 44.8%,#eec040 49.6%,#f1d343 53.6%,#f5e656 56.7%,#faf86d 59.1%,#f9fa99 61.5%,#f6f7e6 64.7%,#edf1f7 67.1%,#a1b0f7 76.6%,#92a4f5 81.3%,#95a6f6 90.1%,#a8b6f7 99.6%)"></i><i style="background:linear-gradient(90deg,#f9f76b 0.4%,#f6e757 17.1%,#efcb40 33.7%,#edb83f 42.5%,#edb93f 48.8%,#efc740 52.0%,#f1d646 54.4%,#f8f060 57.5%,#fafa72 59.1%,#f8fabc 62.3%,#f6f7e6 63.9%,#f0f2f4 65.5%,#e0e5f8 67.9%,#9faef7 75.0%,#8fa2f5 79.0%,#8ea0f5 86.1%,#a8b5f7 99.6%)"></i><i style="background:linear-gradient(90deg,#f9f66a 0.4%,#f5e656 16.3%,#efca40 32.1%,#ecb53e 40.9%,#ebb33e 48.0%,#eebd40 51.2%,#f0d141 53.6%,#f7eb5b 56.7%,#faf86d 58.3%,#f9faa3 60.7%,#f6f7e6 63.1%,#f0f2f4 64.7%,#e5eaf8 66.3%,#98a8f6 74.2%,#899df4 79.0%,#8d9ff5 86.9%,#a8b5f7 99.6%)"></i><i style="background:linear-gradient(90deg,#f9f569 0.4%,#f5e555 15.5%,#efc940 30.6%,#eab13d 40.1%,#e9ad3d 47.2%,#edba40 51.2%,#f0d141 53.6%,#f8ef5f 56.7%,#fafa76 58.3%,#f8fab5 60.7%,#f6f7e5 62.3%,#eff2f5 63.9%,#e3e8f8 65.5%,#96a7f6 72.6%,#8599f4 77.4%,#879bf4 84.5%,#a8b5f7 99.6%)"></i><i style="background:linear-gradient(90deg,#f9f567 0.4%,#f5e353 15.5%,#f0cc40 28.2%,#e9ae3d 38.5%,#e7a43b 45.6%,#edb83f 51.2%,#f0d141 53.6%,#f6e959 56.0%,#fafa70 57.5%,#f8fab1 59.9%,#f6f7e5 61.5%,#eff1f5 63.1%,#d7def8 65.5%,#95a6f6 71.0%,#8298f3 75.0%,#8096f3 81.3%,#a8b6f7 99.6%)"></i><i style="background:linear-gradient(90deg,#f9f466 0.4%,#f4de4e 17.1%,#efc940 27.4%,#e69a38 43.3%,#e69f39 47.2%,#eebe40 52.0%,#f1d343 53.6%,#f8ef5f 56.0%,#f9f76b 56.7%,#fafa95 58.3%,#f6f7e5 60.7%,#f3f4f0 61.5%,#dee4f8 63.9%,#95a6f6 69.4%,#7e95f3 73.4%,#7a91f2 79.0%,#9eadf7 95.6%,#a9b6f7 99.6%)"></i><i style="background:linear-gradient(90deg,#f9f365 0.4%,#f1d444 21.8%,#e7a53b 36.9%,#e49036 43.3%,#e49337 46.4%,#e7a23a 48.8%,#eebe40 52.0%,#f1d545 53.6%,#f9f467 56.0%,#fafa77 56.7%,#f8faaa 58.3%,#f6f7e4 59.9%,#f3f4f1 60.7%,#e6ebf8 62.3%,#96a7f6 67.9%,#7e95f3 71.0%,#728af1 75.8%,#8a9df4 87.7%,#aab7f7 99.6%)"></i><i style="background:linear-gradient(90deg,#f8f264 0.4%,#f0d040 22.6%,#e7a33a 35.3%,#e38b35 40.9%,#e38935 45.6%,#e59537 48.0%,#eec140 52.0%,#f0d040 52.8%,#f8f162 55.2%,#fafa70 56.0%,#f9faa6 57.5%,#f6f7e4 59.1%,#f2f3f1 59.9%,#e4e9f8 61.5%,#99a8f6 66.3%,#7c93f3 69.4%,#6b83f0 73.4%,#6f87f1 78.2%,#abb8f8 99.6%)"></i><i style="background:linear-gradient(90deg,#f8f263 0.4%,#f0cc40 22.6%,#e7a23a 33.7%,#e28734 39.3%,#e17f33 44.0%,#e38935 47.2%,#e59938 48.8%,#efc640 52.0%,#f1d444 52.8%,#faf86c 55.2%,#f9faa2 56.7%,#f6f7e4 58.3%,#f2f3f2 59.1%,#edf0f7 59.9%,#bbc6f8 63.1%,#92a3f5 65.5%,#6e86f1 69.4%,#637bef 72.6%,#6c84f0 78.2%,#8398f3 85.3%,#acb8f8 99.6%)"></i><i style="background:linear-gradient(90deg,#f8f161 0.4%,#f0cd40 21.0%,#e7a33a 32.1%,#e18133 38.5%,#de7333 43.3%,#e17f33 46.4%,#e59738 48.8%,#eebc40 51.2%,#f0ce40 52.0%,#f6e858 53.6%,#f9f568 54.4%,#fafa7f 55.2%,#f7f8e3 57.5%,#f2f3f2 58.3%,#ecf0f8 59.1%,#b5c1f8 62.3%,#96a6f6 63.9%,#6a82f0 67.9%,#5c74ee 71.0%,#6179ef 75.8%,#7f95f3 83.7%,#adb9f8 99.6%)"></i><i style="background:linear-gradient(90deg,#f8f060 0.4%,#f0cc40 20.2%,#e7a43b 30.6%,#de7134 39.3%,#dc6635 42.5%,#dd6b35 44.8%,#e38b35 48.0%,#f1d545 52.0%,#f8f264 53.6%,#fafa7a 54.4%,#f7f8e3 56.7%,#f2f3f2 57.5%,#ebeff8 58.3%,#afbbf8 61.5%,#90a2f5 63.1%,#6179ef 67.1%,#526bee 70.2%,#5870ee 74.2%,#7d94f3 82.9%,#aebaf8 99.6%)"></i><i style="background:linear-gradient(90deg,#f8ef5f 0.4%,#efcb40 19.4%,#e7a53b 29.0%,#de7333 36.9%,#d95b37 40.9%,#d95a37 43.3%,#dc6a35 45.6%,#e38c35 48.0%,#eebb40 50.4%,#f0d141 51.2%,#f8f060 52.8%,#fafa74 53.6%,#f7f8e3 56.0%,#f1f3f3 56.7%,#eaeef8 57.5%,#a9b6f7 60.7%,#899df4 62.3%,#5f77ee 65.5%,#4d66ee 67.9%,#4a64ee 71.0%,#6880f0 78.2%,#7e94f3 82.9%,#afbcf8 99.6%)"></i><i style="background:linear-gradient(90deg,#f7ed5d 0.4%,#f0cd40 17.9%,#e7a23a 28.2%,#de7233 35.3%,#d84f37 40.1%,#d74b35 42.5%,#d95b37 44.8%,#e18233 47.2%,#e49036 48.0%,#efc940 50.4%,#f2da4a 51.2%,#faf96f 52.8%,#f8fab8 54.4%,#f7f8e2 55.2%,#f1f3f3 56.0%,#e9edf8 56.7%,#b6c2f8 59.1%,#91a3f5 60.7%,#6a82f0 63.1%,#4d67ee 65.5%,#435ced 67.9%,#4862ee 71.8%,#7c93f3 82.1%,#b1bdf8 99.6%)"></i><i style="background:linear-gradient(90deg,#f7ec5c 0.4%,#f0cc40 17.1%,#e7a53b 26.6%,#de7333 33.7%,#d85037 37.7%,#d63c31 40.9%,#d64333 43.3%,#db6535 45.6%,#e28734 47.2%,#f2d646 50.4%,#faf86c 52.0%,#f8fab6 53.6%,#f7f8e2 54.4%,#f1f2f3 55.2%,#e7ecf8 56.0%,#b2bef8 58.3%,#8c9ff4 59.9%,#566eee 63.1%,#455eee 64.7%,#3e55ec 67.1%,#435ded 71.0%,#7b92f2 81.3%,#b2bef8 99.6%)"></i><i style="background:linear-gradient(90deg,#f7ea5a 0.4%,#efcb40 16.3%,#e7a33a 25.8%,#df7633 32.1%,#d74f36 36.1%,#d5332f 39.3%,#d5302e 41.7%,#d63c31 43.3%,#d95937 44.8%,#e17f33 46.4%,#e49036 47.2%,#e8aa3c 48.0%,#edba40 48.8%,#f1d343 49.6%,#f9f669 51.2%,#fafa8b 52.0%,#f7f8e2 53.6%,#f1f2f3 54.4%,#e6ebf8 55.2%,#adbaf8 57.5%,#97a7f6 58.3%,#7991f2 59.9%,#4d67ee 62.3%,#3f57ec 63.9%,#394eeb 66.3%,#4058ed 70.2%,#7a91f2 80.6%,#b3bff8 99.6%)"></i><i style="background:linear-gradient(90deg,#f6e959 0.4%,#efca40 15.5%,#e8a73b 24.2%,#de7333 31.3%,#d85137 34.5%,#d52f2e 37.7%,#d2292c 39.3%,#d32a2c 41.7%,#d63b31 43.3%,#da5f36 44.8%,#e38935 46.4%,#f0cf40 48.8%,#f9f467 50.4%,#fafa88 51.2%,#f7f8e1 52.8%,#f0f2f4 53.6%,#e5eaf8 54.4%,#a9b6f7 56.7%,#8398f3 58.3%,#4660ee 61.5%,#374ceb 63.9%,#364beb 67.1%,#4d66ee 72.6%,#7c93f2 80.6%,#b5c0f8 99.6%)"></i><i style="background:linear-gradient(90deg,#f6e757 0.4%,#f0cd40 13.9%,#e7a63b 23.4%,#df7833 29.8%,#d74c36 33.7%,#d32a2c 36.9%,#cc272b 40.1%,#d1292c 41.7%,#d5312e 42.5%,#d85638 44.0%,#e28434 45.6%,#f0cb40 48.0%,#f4de4e 48.8%,#f9f365 49.6%,#fafa86 50.4%,#f7f8e1 52.0%,#f0f2f4 52.8%,#e4e9f8 53.6%,#a6b4f7 56.0%,#7f96f3 57.5%,#4d66ee 59.9%,#3b52ec 61.5%,#3347e9 63.9%,#364aea 67.1%,#4b64ee 71.8%,#7b92f2 79.8%,#b4c0f8 98.8%,#b6c1f8 99.6%)"></i><i style="background:linear-gradient(90deg,#f5e656 0.4%,#f0cd40 13.1%,#e7a53b 22.6%,#df7633 29.0%,#d85338 32.1%,#d42b2c 35.3%,#c8252b 38.5%,#cd272b 40.9%,#d32a2c 41.7%,#d53930 42.5%,#d84f37 43.3%,#e18033 44.8%,#efc840 47.2%,#f3dd4d 48.0%,#f8f264 48.8%,#fafa84 49.6%,#f7f8e1 51.2%,#f0f2f4 52.0%,#e4e9f8 52.8%,#8ea0f5 56.0%,#6b83f0 57.5%,#4963ee 59.1%,#3448ea 61.5%,#3448ea 66.3%,#4f68ee 71.8%,#7a92f2 79.0%,#b4c0f8 98.0%,#b7c3f8 99.6%)"></i><i style="background:linear-gradient(90deg,#f5e454 0.4%,#f0cd40 12.3%,#e7a53b 21.8%,#df7533 28.2%,#d85137 31.3%,#d32a2c 34.5%,#c6252a 37.7%,#cb272b 40.1%,#d1292c 40.9%,#d5352f 41.7%,#db6336 43.3%,#e07e32 44.0%,#e59337 44.8%,#efc640 46.4%,#f3dc4c 47.2%,#f8f263 48.0%,#fafa83 48.8%,#f7f8e1 50.4%,#f0f2f4 51.2%,#e4e9f8 52.0%,#8da0f5 55.2%,#6981f0 56.7%,#4760ee 58.3%,#374ceb 59.9%,#3245e7 62.3%,#354aea 66.3%,#4e67ee 71.0%,#7a92f2 78.2%,#b4c0f8 97.2%,#b9c4f8 99.6%)"></i><i style="background:linear-gradient(90deg,#f5e353 0.4%,#f0cd40 11.5%,#e7a43b 21.0%,#df7533 27.4%,#d85137 30.6%,#d32a2c 33.7%,#c6252a 36.9%,#cb262b 39.3%,#d1292c 40.1%,#d5342f 40.9%,#db6236 42.5%,#e07e32 43.3%,#e49337 44.0%,#efc640 45.6%,#f3dc4c 46.4%,#f8f263 47.2%,#fafa83 48.0%,#f7f8e1 49.6%,#f0f2f4 50.4%,#e4e9f8 51.2%,#8c9ff5 54.4%,#6880f0 56.0%,#4660ee 57.5%,#374ceb 59.1%,#3244e7 61.5%,#354aea 65.5%,#4e67ee 70.2%,#7a92f2 77.4%,#b4c0f8 96.4%,#bac5f8 99.6%)"></i><i style="background:linear-gradient(90deg,#f4e151 0.4%,#f0cd40 10.7%,#e7a53b 20.2%,#df7633 26.6%,#d85237 29.8%,#d42a2c 32.9%,#c7252b 36.1%,#cc272b 38.5%,#d2292c 39.3%,#d53730 40.1%,#d74d36 40.9%,#e17f33 42.5%,#efc740 44.8%,#f3dc4c 45.6%,#f8f263 46.4%,#fafa83 47.2%,#f7f8e1 48.8%,#f0f2f4 49.6%,#e4e9f8 50.4%,#8da0f5 53.6%,#6a82f0 55.2%,#4862ee 56.7%,#3448ea 59.1%,#3448ea 63.9%,#4e67ee 69.4%,#7a92f2 76.6%,#b4c0f8 95.6%,#bcc6f8 99.6%)"></i><i style="background:linear-gradient(90deg,#f4e050 0.4%,#efca40 10.7%,#e7a63b 19.4%,#df7733 25.8%,#d85538 29.0%,#d42e2d 32.1%,#ca262b 35.3%,#d0282c 37.7%,#d42d2d 38.5%,#d85338 40.1%,#e18233 41.7%,#efca40 44.0%,#f3de4e 44.8%,#f9f364 45.6%,#fafa85 46.4%,#f7f8e1 48.0%,#f0f2f4 48.8%,#e4e9f8 49.6%,#8fa1f5 52.8%,#4b65ee 56.0%,#3a50eb 57.5%,#3346e9 59.9%,#374ceb 63.9%,#4f69ee 68.7%,#7b92f2 75.8%,#b4c0f8 94.8%,#bdc8f8 99.6%)"></i><i style="background:linear-gradient(90deg,#f4df4f 0.4%,#efca40 9.9%,#e7a73b 18.7%,#de7134 25.8%,#d84f37 29.0%,#d42c2d 32.1%,#cf282b 35.3%,#d42b2c 36.9%,#d74734 38.5%,#e28734 40.9%,#f0ce40 43.3%,#f4e050 44.0%,#f9f466 44.8%,#fafa87 45.6%,#f7f8e1 47.2%,#f0f2f4 48.0%,#e5eaf8 48.8%,#a8b5f7 51.2%,#8197f3 52.8%,#5069ee 55.2%,#3e55ec 56.7%,#3448ea 59.1%,#394feb 63.1%,#516aee 67.9%,#7b92f2 75.0%,#b4c0f8 94.0%,#bec9f8 99.6%)"></i><i style="background:linear-gradient(90deg,#f3de4e 0.4%,#efcb40 9.1%,#e7a23a 18.7%,#df7533 25.0%,#d74c36 29.0%,#d42f2d 32.1%,#d42b2c 34.5%,#d53730 36.1%,#d85438 37.7%,#e07c32 39.3%,#e38d35 40.1%,#e7a73b 40.9%,#edb93f 41.7%,#f0d141 42.5%,#f9f568 44.0%,#fafa8a 44.8%,#f7f8e1 46.4%,#f1f2f3 47.2%,#e6ebf8 48.0%,#acb8f8 50.4%,#95a6f6 51.2%,#778ff2 52.8%,#4a64ee 55.2%,#3a50eb 57.5%,#384eeb 60.7%,#4963ee 65.5%,#7c93f3 74.2%,#b5c0f8 93.3%,#c0caf8 99.6%)"></i><i style="background:linear-gradient(90deg,#f3dd4d 0.4%,#f0cb40 8.3%,#e7a43b 17.9%,#de7134 25.0%,#d74c36 29.0%,#d53730 32.1%,#d63d31 34.5%,#d85237 36.1%,#e28434 38.5%,#f1d545 41.7%,#f9f76b 43.3%,#fafa8d 44.0%,#f7f8e2 45.6%,#f1f2f3 46.4%,#e7ebf8 47.2%,#b0bcf8 49.6%,#9aaaf6 50.4%,#526bee 54.4%,#425bed 56.0%,#3c52ec 58.3%,#425bed 62.3%,#7a92f2 72.6%,#b3bff8 91.7%,#c1ccf8 99.6%)"></i><i style="background:linear-gradient(90deg,#f3dc4c 0.4%,#efc940 8.3%,#e7a73b 17.1%,#df7733 24.2%,#d84f37 29.0%,#d74434 31.3%,#d74d36 33.7%,#da6036 35.3%,#e17f33 36.9%,#e38c35 37.7%,#efc640 40.1%,#f2d848 40.9%,#faf96e 42.5%,#f8fab7 44.0%,#f7f8e2 44.8%,#f1f2f3 45.6%,#e8edf8 46.4%,#b4c0f8 48.8%,#8fa1f5 50.4%,#516aee 54.4%,#425bed 56.7%,#425bed 59.9%,#566fee 64.7%,#7b93f2 71.8%,#b4bff8 90.9%,#c3cdf8 99.6%)"></i><i style="background:linear-gradient(90deg,#f3db4b 0.4%,#efca40 7.5%,#e7a43b 17.1%,#df7733 24.2%,#d95738 29.0%,#d85438 31.3%,#db6436 33.7%,#e28834 36.1%,#edb93f 38.5%,#f0ce40 39.3%,#f8ee5e 40.9%,#fafa72 41.7%,#f7f8e2 44.0%,#f1f3f3 44.8%,#e9eef8 45.6%,#b9c4f8 48.0%,#94a5f6 49.6%,#5b73ee 53.6%,#4963ee 56.0%,#4761ee 59.1%,#677ff0 66.3%,#7d94f3 71.0%,#b4c0f8 90.1%,#c4cef8 99.6%)"></i><i style="background:linear-gradient(90deg,#f2da4a 0.4%,#efc840 7.5%,#e7a23a 17.1%,#de7233 25.0%,#db6136 29.0%,#db6535 31.3%,#e28734 34.5%,#eec140 37.7%,#f1d343 38.5%,#f8f162 40.1%,#fafa77 40.9%,#f7f8e3 43.3%,#f2f3f2 44.0%,#ebeff8 44.8%,#adb9f8 48.0%,#8da0f5 49.6%,#5d75ee 53.6%,#5069ee 56.0%,#536bee 59.9%,#7f95f3 70.2%,#b6c2f8 90.1%,#c5cff8 99.6%)"></i><i style="background:linear-gradient(90deg,#f2d949 0.4%,#efca40 6.7%,#e7a63b 16.3%,#e18233 22.6%,#dd6e34 27.4%,#de7034 29.8%,#e28834 32.9%,#e6a03a 34.5%,#edb93f 36.1%,#efca40 36.9%,#f5e656 38.5%,#f9f466 39.3%,#fafa7d 40.1%,#f7f8e3 42.5%,#f2f3f2 43.3%,#ecf0f8 44.0%,#b3bff8 47.2%,#93a5f5 48.8%,#677ff0 52.8%,#5870ee 56.0%,#5c74ee 59.9%,#8096f3 69.4%,#b7c2f8 89.3%,#c7d1f8 99.6%)"></i><i style="background:linear-gradient(90deg,#f2d848 0.4%,#efc840 6.7%,#e7a53b 16.3%,#e28534 22.6%,#e07b32 27.4%,#e28534 30.6%,#e49337 32.1%,#efc240 35.3%,#f1d242 36.1%,#f9f76b 38.5%,#f9faa1 40.1%,#f6f7e4 41.7%,#f2f3f2 42.5%,#edf0f7 43.3%,#b8c4f8 46.4%,#8fa1f5 48.8%,#6a82f0 52.8%,#5f77ee 56.0%,#6a82f0 61.5%,#8298f3 68.7%,#b7c2f8 88.5%,#c8d1f8 99.6%)"></i><i style="background:linear-gradient(90deg,#f2d747 0.4%,#efc740 6.7%,#e7a63b 16.3%,#e38b35 21.8%,#e28434 26.6%,#e48f36 29.8%,#eebd40 33.7%,#f0cc40 34.5%,#f4e252 36.1%,#faf96f 37.7%,#f9faa5 39.3%,#f6f7e4 40.9%,#f2f3f1 41.7%,#e3e8f8 43.3%,#96a6f6 48.0%,#7991f2 51.2%,#6981f0 54.4%,#6b83f0 59.1%,#90a2f5 71.8%,#b8c3f8 87.7%,#c9d2f8 99.6%)"></i><i style="background:linear-gradient(90deg,#f2d747 0.4%,#efc640 6.7%,#e7a33a 17.1%,#e48e36 22.6%,#e48e36 26.6%,#e69c39 29.0%,#eebb40 32.1%,#f1d343 33.7%,#f9f365 36.1%,#fafa75 36.9%,#f8faa8 38.5%,#f6f7e4 40.1%,#f3f4f1 40.9%,#e5eaf8 42.5%,#94a5f5 48.0%,#7c93f2 51.2%,#6f87f1 55.2%,#7991f2 61.5%,#b8c4f8 86.9%,#cad3f8 99.6%)"></i><i style="background:linear-gradient(90deg,#f2d646 0.4%,#efc540 6.7%,#e59537 22.6%,#e69a38 25.8%,#edba40 30.6%,#f0d141 32.1%,#f7ed5d 34.5%,#fafa7b 36.1%,#f8faac 37.7%,#f6f7e5 39.3%,#f3f4f1 40.1%,#dde3f8 42.5%,#93a4f5 48.0%,#7c93f2 52.0%,#778ff2 56.7%,#99a9f6 72.6%,#bac5f8 86.9%,#cbd4f8 99.6%)"></i><i style="background:linear-gradient(90deg,#f1d646 0.4%,#efc540 6.7%,#e6a03a 21.8%,#e8aa3c 25.8%,#eebb40 29.0%,#f0cf40 30.6%,#f6e757 32.9%,#faf96e 34.5%,#f8fab0 36.9%,#f6f7e5 38.5%,#f3f4f0 39.3%,#e9edf8 40.9%,#9aa9f6 47.2%,#8298f3 51.2%,#7c93f3 56.7%,#9babf6 71.8%,#bbc6f8 86.1%,#ccd5f8 99.6%)"></i><i style="background:linear-gradient(90deg,#f1d545 0.4%,#efc540 6.7%,#e9ac3c 17.9%,#e9ac3d 23.4%,#eebd40 27.4%,#f0ce40 29.0%,#f5e353 31.3%,#fafa73 33.7%,#f8fab3 36.1%,#f6f7e5 37.7%,#eff2f5 39.3%,#d9e0f8 41.7%,#9aa9f6 47.2%,#869af4 51.2%,#8298f3 57.5%,#a5b3f7 74.2%,#c6d0f8 92.5%,#cdd6f8 99.6%)"></i><i style="background:linear-gradient(90deg,#f1d545 0.4%,#efc340 7.5%,#eab03d 17.1%,#ebb23e 22.6%,#eebf40 25.8%,#f1d444 28.2%,#f6e959 30.6%,#f9f76c 32.1%,#fafa8d 33.7%,#f6f7e6 36.9%,#f0f2f4 38.5%,#e4e9f8 40.1%,#9baaf6 47.2%,#899df4 51.2%,#879bf4 57.5%,#a7b5f7 73.4%,#c7d1f8 92.5%,#ced7f8 99.6%)"></i><i style="background:linear-gradient(90deg,#f1d545 0.4%,#efc240 8.3%,#ebb43e 17.1%,#eebb40 22.6%,#f0d040 25.8%,#f5e656 29.0%,#fafa70 31.3%,#f8faba 34.5%,#f6f7e6 36.1%,#f0f2f4 37.7%,#dfe4f8 40.1%,#9cacf6 47.2%,#8c9ff4 52.0%,#8fa1f5 59.9%,#bec9f8 84.5%,#cfd7f8 99.6%)"></i><i style="background:linear-gradient(90deg,#f1d545 0.4%,#efc240 9.1%,#edb93f 17.1%,#efc340 21.8%,#f1d545 25.0%,#f7eb5b 28.2%,#fafa76 30.6%,#f8fabd 33.7%,#f6f7e6 35.3%,#f0f2f4 36.9%,#dae0f8 40.1%,#9fadf7 47.2%,#90a2f5 52.0%,#94a5f5 60.7%,#c0cbf8 84.5%,#d0d8f8 99.6%)"></i><i style="background:linear-gradient(90deg,#f1d646 0.4%,#efc540 9.1%,#eebf40 16.3%,#f0cb40 21.0%,#f3dd4d 25.0%,#faf96f 29.0%,#f8faad 32.1%,#f6f7e6 34.5%,#eef1f6 36.9%,#a6b3f7 46.4%,#95a6f6 51.2%,#97a7f6 59.9%,#c2cdf8 84.5%,#d1d9f8 99.6%)"></i><i style="background:linear-gradient(90deg,#f2d646 0.4%,#efc740 9.9%,#efc640 16.3%,#f1d444 21.0%,#f6e858 25.0%,#fafa75 28.2%,#f8fab0 31.3%,#f6f7e7 33.7%,#eef1f6 36.1%,#a8b5f7 46.4%,#98a8f6 52.0%,#9dacf6 60.7%,#c7d1f8 86.9%,#d2daf8 99.6%)"></i><i style="background:linear-gradient(90deg,#f2d747 0.4%,#efcb40 11.5%,#f1d444 18.7%,#f6e757 23.4%,#fafa6f 26.6%,#f8fab4 30.6%,#f6f7e7 32.9%,#eff1f5 35.3%,#c5cff8 41.7%,#a4b2f7 48.0%,#9cabf6 54.4%,#afbcf8 68.7%,#ced6f8 93.3%,#d3daf8 99.6%)"></i><i style="background:linear-gradient(90deg,#f2d848 0.4%,#f0d141 13.1%,#f4df4f 20.2%,#faf86d 25.0%,#f9fa9b 28.2%,#f6f7e7 32.1%,#eff2f5 34.5%,#bfcaf8 42.5%,#a6b3f7 48.8%,#a1b0f7 56.0%,#ced6f8 91.7%,#d4dbf8 99.6%)"></i><i style="background:linear-gradient(90deg,#f2d949 0.4%,#f1d444 12.3%,#f4e050 18.7%,#fafa71 24.2%,#f8faac 28.2%,#f6f7e7 31.3%,#edf1f7 34.5%,#b5c1f8 44.8%,#a5b3f7 52.0%,#aebaf8 63.1%,#ced7f8 90.9%,#d4dcf8 99.6%)"></i><i style="background:linear-gradient(90deg,#f2da4a 0.4%,#f2d848 12.3%,#f5e555 17.9%,#faf96f 22.6%,#f8faaf 27.4%,#f6f7e7 30.6%,#eef1f6 33.7%,#b7c2f8 44.8%,#a9b6f7 52.8%,#bbc6f8 71.0%,#d5ddf8 99.6%)"></i><i style="background:linear-gradient(90deg,#f3db4b 0.4%,#f3dc4c 11.5%,#f7ed5d 17.9%,#fafa74 21.8%,#f8fab2 26.6%,#f6f7e7 29.8%,#eef1f6 32.9%,#b9c4f8 44.8%,#adbaf8 53.6%,#d6ddf8 99.6%)"></i><i style="background:linear-gradient(90deg,#f3dd4d 0.4%,#f4e050 11.5%,#f9f568 18.7%,#fafa79 21.0%,#f8fab5 25.8%,#f6f7e8 29.0%,#edf0f7 32.9%,#bdc7f8 44.0%,#b1bdf8 52.0%,#bec8f8 69.4%,#d7def8 99.6%)"></i><i style="background:linear-gradient(90deg,#f4de4e 0.4%,#f5e454 10.7%,#f9f76c 17.9%,#fafa87 21.0%,#f8fab8 25.0%,#f6f7e8 28.2%,#edf1f7 32.1%,#c1cbf8 43.3%,#b4c0f8 52.0%,#c3cdf8 71.8%,#d8dff8 99.6%)"></i><i style="background:linear-gradient(90deg,#f4e151 0.4%,#f6e757 9.9%,#faf96f 17.1%,#f9fa9d 21.8%,#f6f7e8 27.4%,#ecf0f8 32.1%,#c4cef8 42.5%,#b7c3f8 51.2%,#c2cdf8 69.4%,#d9dff8 99.6%)"></i><i style="background:linear-gradient(90deg,#f5e353 0.4%,#f7ed5d 9.9%,#fafa73 16.3%,#f8faa9 21.8%,#f6f7e8 26.6%,#edf0f7 31.3%,#c6d0f8 42.5%,#bac5f8 52.0%,#d9e0f8 99.6%)"></i><i style="background:linear-gradient(90deg,#f6e656 0.4%,#f8f162 9.9%,#fafa73 14.7%,#f8faac 21.0%,#f6f7e8 25.8%,#edf1f7 30.6%,#c7d1f8 42.5%,#bcc7f8 52.8%,#dae0f8 99.6%)"></i><i style="background:linear-gradient(90deg,#f6e959 0.4%,#f9f467 9.9%,#fafa78 13.9%,#f8faaf 20.2%,#f6f7e8 25.0%,#ecf0f8 30.6%,#c9d3f8 41.7%,#bfc9f8 52.8%,#dbe1f8 99.6%)"></i><i style="background:linear-gradient(90deg,#f7ec5c 0.4%,#faf86c 9.9%,#fafa82 13.9%,#f8fab2 19.4%,#f6f7e8 24.2%,#edf0f7 29.8%,#cad4f8 41.7%,#c1ccf8 53.6%,#dbe2f8 99.6%)"></i><i style="background:linear-gradient(90deg,#f8f060 0.4%,#faf96f 9.1%,#f9fa98 15.5%,#f8f9c7 20.2%,#f6f7e8 23.4%,#ecf0f8 29.8%,#cbd4f8 41.7%,#c4cef8 54.4%,#dce2f8 99.6%)"></i><i style="background:linear-gradient(90deg,#f8f263 0.4%,#fafa73 8.3%,#f9faa2 15.5%,#f6f7e8 22.6%,#ecf0f8 29.0%,#cdd5f8 41.7%,#c6d0f8 55.2%,#dde3f8 99.6%)"></i><i style="background:linear-gradient(90deg,#f9f466 0.4%,#fafa74 6.7%,#f9fa9f 13.9%,#f6f7e9 21.8%,#ebeff8 29.0%,#ced6f8 41.7%,#c8d2f8 56.7%,#dde3f8 99.6%)"></i><i style="background:linear-gradient(90deg,#f9f66a 0.4%,#fafa78 6.0%,#f9faa2 13.1%,#f6f7e9 21.0%,#ecf0f8 28.2%,#cfd7f8 41.7%,#cad3f8 57.5%,#dee4f8 99.6%)"></i><i style="background:linear-gradient(90deg,#faf86d 0.4%,#fafa83 6.7%,#f8fab0 13.9%,#f6f7e9 20.2%,#edf0f7 27.4%,#cfd7f8 42.5%,#ccd5f8 59.9%,#dee4f8 99.6%)"></i><i style="background:linear-gradient(90deg,#fafa71 0.4%,#fafa94 8.3%,#f8f9c1 14.7%,#f6f7e9 19.4%,#ecf0f8 27.4%,#d0d8f8 42.5%,#ced6f8 60.7%,#dfe4f8 99.6%)"></i><i style="background:linear-gradient(90deg,#fafa78 0.4%,#f9fa9b 8.3%,#f8f9c9 14.7%,#f5f6ec 19.4%,#e7ecf8 29.0%,#d1d9f8 43.3%,#d0d8f8 63.9%,#dfe5f8 99.6%)"></i><i style="background:linear-gradient(90deg,#fafa7e 0.4%,#f9faa8 9.1%,#f5f6eb 18.7%,#e8edf8 28.2%,#d2daf8 43.3%,#d2daf8 65.5%,#e0e5f8 99.6%)"></i><i style="background:linear-gradient(90deg,#fafa84 0.4%,#f8faaf 9.1%,#f5f6eb 17.9%,#e8ecf8 28.2%,#d2daf8 44.0%,#d4dcf8 68.7%,#e0e6f8 99.6%)"></i><i style="background:linear-gradient(90deg,#fafa8a 0.4%,#f8fab6 9.1%,#f5f6eb 17.1%,#e9edf8 27.4%,#d3dbf8 44.0%,#d6ddf8 70.2%,#e1e6f8 99.6%)"></i><i style="background:linear-gradient(90deg,#fafa90 0.4%,#f8fab9 8.3%,#f5f6eb 16.3%,#e8edf8 27.4%,#d4dcf8 44.8%,#d9e0f8 75.0%,#e1e6f8 99.6%)"></i><i style="background:linear-gradient(90deg,#fafa96 0.4%,#f8fac0 8.3%,#f5f6eb 15.5%,#e9edf8 26.6%,#d5dcf8 44.8%,#dbe1f8 77.4%,#e2e7f8 99.6%)"></i><i style="background:linear-gradient(90deg,#f9fa9c 0.4%,#f8f9c2 7.5%,#f5f6eb 14.7%,#e9edf8 26.6%,#d6ddf8 44.8%,#dde3f8 80.6%,#e2e7f8 99.6%)"></i><i style="background:linear-gradient(90deg,#f9faa2 0.4%,#f8f9cd 8.3%,#f5f6eb 13.9%,#e8edf8 26.6%,#d7def8 45.6%,#e2e8f8 99.6%)"></i><i style="background:linear-gradient(90deg,#f9faa8 0.4%,#f5f6eb 13.1%,#e9eef8 25.8%,#d8dff8 44.8%,#e1e7f8 93.3%,#e3e8f8 99.6%)"></i><i style="background:linear-gradient(90deg,#f8faad 0.4%,#f5f6eb 12.3%,#e9edf8 25.8%,#d9dff8 45.6%,#e3e8f8 99.6%)"></i><i style="background:linear-gradient(90deg,#f8fab3 0.4%,#f5f6eb 11.5%,#e9edf8 25.8%,#dae0f8 46.4%,#e4e9f8 99.6%)"></i><i style="background:linear-gradient(90deg,#f8fab9 0.4%,#f6f7eb 10.7%,#eaeef8 25.0%,#dbe1f8 45.6%,#e4e9f8 99.6%)"></i><i style="background:linear-gradient(90deg,#f8fabe 0.4%,#f6f7eb 9.9%,#e9eef8 25.0%,#dce2f8 45.6%,#e4e9f8 99.6%)"></i><i style="background:linear-gradient(90deg,#f8f9c4 0.4%,#f6f7eb 9.1%,#e9edf8 25.0%,#dce2f8 46.4%,#e5eaf8 99.6%)"></i><i style="background:linear-gradient(90deg,#f8f9c9 0.4%,#f6f7eb 8.3%,#eaeef8 24.2%,#dde3f8 46.4%,#e5eaf8 99.6%)"></i><i style="background:linear-gradient(90deg,#f8f9ce 0.4%,#f6f7eb 7.5%,#eaeef8 24.2%,#dde3f8 47.2%,#e6eaf8 99.6%)"></i><i style="background:linear-gradient(90deg,#f8f9d2 0.4%,#f6f7eb 6.7%,#eaeef8 24.2%,#dee4f8 48.0%,#e6ebf8 99.6%)"></i><i style="background:linear-gradient(90deg,#f8f9d6 0.4%,#f5f6ec 6.7%,#e9edf8 25.0%,#dee4f8 50.4%,#e6ebf8 99.6%)"></i><i style="background:linear-gradient(90deg,#f7f8da 0.4%,#f5f6ec 6.0%,#e9edf8 25.0%,#dfe5f8 51.2%,#e7ebf8 99.6%)"></i><i style="background:linear-gradient(90deg,#f7f8dd 0.4%,#f5f6ec 5.2%,#e9edf8 25.0%,#e0e5f8 52.0%,#e7ecf8 99.6%)"></i><i style="background:linear-gradient(90deg,#f7f8e1 0.4%,#f5f6ed 5.2%,#e8edf8 25.8%,#e0e6f8 55.2%,#e7ecf8 99.6%)"></i><i style="background:linear-gradient(90deg,#f6f7e4 0.4%,#f3f4ef 6.7%,#e7ecf8 28.2%,#e1e7f8 60.7%,#e8ecf8 99.6%)"></i><i style="background:linear-gradient(90deg,#f6f7e7 0.4%,#eff1f5 15.5%,#e1e7f8 48.8%,#e8ecf8 99.6%)"></i><i style="background:linear-gradient(90deg,#f6f7e9 0.4%,#ecf0f8 21.0%,#e2e7f8 50.4%,#e8edf8 99.6%)"></i></div><div class="hm" style="left:351px;top:161px;width:125px;height:125px"><i style="background:linear-gradient(90deg,#f8f9d1 0.4%,#f7f8de 38.0%,#f3f4f0 62.0%,#e7ebf8 83.6%,#d3dbf8 99.6%)"></i><i style="background:linear-gradient(90deg,#f8f9d1 0.4%,#f7f8dd 37.2%,#f3f4f0 61.2%,#e7ebf8 82.8%,#d2daf8 99.6%)"></i><i style="background:linear-gradient(90deg,#f8f9d0 0.4%,#f7f8dd 37.2%,#f3f4ef 60.4%,#e7ebf8 82.0%,#d0d8f8 99.6%)"></i><i style="background:linear-gradient(90deg,#f8f9cf 0.4%,#f7f8dc 36.4%,#f4f5ef 59.6%,#e6ebf8 81.2%,#ced6f8 99.6%)"></i><i style="background:linear-gradient(90deg,#f8f9cf 0.4%,#f7f8dc 36.4%,#f4f5ef 58.8%,#e6ebf8 80.4%,#ccd5f8 99.6%)"></i><i style="background:linear-gradient(90deg,#f8f9ce 0.4%,#f7f8db 36.4%,#f4f5ef 58.8%,#e6ebf8 79.6%,#cad3f8 99.6%)"></i><i style="background:linear-gradient(90deg,#f8f9ce 0.4%,#f7f8da 35.6%,#f4f5ef 58.8%,#e6ebf8 78.8%,#c8d2f8 99.6%)"></i><i style="background:linear-gradient(90deg,#f8f9cd 0.4%,#f7f8da 35.6%,#f4f5ef 58.0%,#e6ebf8 78.0%,#c6d0f8 99.6%)"></i><i style="background:linear-gradient(90deg,#f8f9cc 0.4%,#f7f8d9 35.6%,#f4f5ef 58.0%,#e7ecf8 76.4%,#c3cef8 99.6%)"></i><i style="background:linear-gradient(90deg,#f8f9cc 0.4%,#f7f8d8 34.8%,#f4f5ee 57.2%,#e7ecf8 75.6%,#c1cbf8 99.6%)"></i><i style="background:linear-gradient(90deg,#f8f9cb 0.4%,#f7f8d7 34.8%,#f4f5ef 57.2%,#e7ecf8 74.8%,#bec9f8 99.6%)"></i><i style="background:linear-gradient(90deg,#f8f9ca 0.4%,#f8f9d6 34.0%,#f4f5ef 57.2%,#e7ecf8 74.0%,#bcc7f8 99.6%)"></i><i style="background:linear-gradient(90deg,#f8f9c9 0.4%,#f8f9d5 33.2%,#f4f5ef 57.2%,#e6ebf8 74.0%,#b9c4f8 99.6%)"></i><i style="background:linear-gradient(90deg,#f8f9c9 0.4%,#f8f9d3 32.4%,#f3f4ef 57.2%,#e6ebf8 73.2%,#b7c2f8 98.8%,#b6c2f8 99.6%)"></i><i style="background:linear-gradient(90deg,#f8f9c8 0.4%,#f8f9d3 32.4%,#f3f4ef 57.2%,#e6ebf8 72.4%,#b6c1f8 97.2%,#b4bff8 99.6%)"></i><i style="background:linear-gradient(90deg,#f8f9c7 0.4%,#f8f9d1 31.6%,#f6f7e8 49.2%,#e8ecf8 70.8%,#b4c0f8 96.4%,#b1bdf8 99.6%)"></i><i style="background:linear-gradient(90deg,#f8f9c6 0.4%,#f8f9d0 30.8%,#f6f7e7 48.4%,#e8edf8 70.0%,#b3bff8 94.8%,#aebbf8 99.6%)"></i><i style="background:linear-gradient(90deg,#f8f9c5 0.4%,#f8f9cf 30.8%,#f6f7e7 48.4%,#e8edf8 69.2%,#b1bdf8 94.0%,#abb8f8 99.6%)"></i><i style="background:linear-gradient(90deg,#f8f9c4 0.4%,#f8f9cd 30.0%,#f6f7e5 47.6%,#ecf0f8 66.8%,#aebaf8 93.2%,#a8b6f7 99.6%)"></i><i style="background:linear-gradient(90deg,#f8f9c3 0.4%,#f8f9cc 30.0%,#f7f8e3 46.8%,#f3f4f1 57.2%,#e7ecf8 68.4%,#abb8f8 92.4%,#a5b3f7 99.6%)"></i><i style="background:linear-gradient(90deg,#f8f9c2 0.4%,#f8f9cb 30.0%,#f7f8e2 46.8%,#f3f4ef 55.6%,#e7ecf8 67.6%,#a8b6f7 91.6%,#a3b1f7 99.6%)"></i><i style="background:linear-gradient(90deg,#f8f9c1 0.4%,#f8f9c9 29.2%,#f7f8e0 46.0%,#f4f5ee 54.0%,#e8ecf8 66.8%,#a5b3f7 90.8%,#a0aff7 99.6%)"></i><i style="background:linear-gradient(90deg,#f8f9c0 0.4%,#f8f9c8 29.2%,#f7f8e0 46.0%,#f4f5ed 53.2%,#e8ecf8 66.0%,#a2b0f7 90.0%,#9eadf6 99.6%)"></i><i style="background:linear-gradient(90deg,#f8fabf 0.4%,#f8f9c7 29.2%,#f7f8df 46.0%,#f4f5ed 53.2%,#e8edf8 65.2%,#bbc6f8 79.6%,#9dadf6 90.0%,#9babf6 99.6%)"></i><i style="background:linear-gradient(90deg,#f8fabe 0.4%,#f8f9c5 28.4%,#f7f8db 44.4%,#f5f6ed 52.4%,#e7ebf8 65.2%,#aebaf8 82.0%,#99a9f6 90.0%,#99a9f6 99.6%)"></i><i style="background:linear-gradient(90deg,#f8fabd 0.4%,#f8f9c3 28.4%,#f7f8da 44.4%,#f5f6ed 52.4%,#e7ecf8 64.4%,#bac6f8 77.2%,#9aa9f6 86.8%,#95a6f6 96.4%,#98a8f6 99.6%)"></i><i style="background:linear-gradient(90deg,#f8fabc 0.4%,#f8f9c2 28.4%,#f7f8d8 43.6%,#f5f6ed 52.4%,#e8ecf8 63.6%,#bcc7f8 75.6%,#98a8f6 85.2%,#92a3f5 94.0%,#96a7f6 99.6%)"></i><i style="background:linear-gradient(90deg,#f8fabb 0.4%,#f8fac0 28.4%,#f8f9d5 42.8%,#f5f6ec 51.6%,#e8edf8 62.8%,#bec9f8 74.0%,#97a7f6 83.6%,#8fa1f5 92.4%,#96a6f6 99.6%)"></i><i style="background:linear-gradient(90deg,#f8fab9 0.4%,#f8fabe 27.6%,#f8f9d2 42.0%,#f5f6ec 51.6%,#e7ebf8 62.8%,#bdc8f8 73.2%,#96a6f6 82.0%,#8c9ff4 90.0%,#95a6f6 99.6%)"></i><i style="background:linear-gradient(90deg,#f8fab8 0.4%,#f8fabc 27.6%,#f8f9cf 41.2%,#f5f6ec 51.6%,#e7ecf8 62.0%,#c0cbf8 71.6%,#95a6f6 80.4%,#899cf4 88.4%,#94a5f6 99.6%)"></i><i style="background:linear-gradient(90deg,#f8fab7 0.4%,#f8faba 27.6%,#f8f9cc 40.4%,#f5f6ec 51.6%,#e8edf8 61.2%,#c3cef8 70.0%,#95a5f6 78.8%,#869bf4 86.0%,#8d9ff5 95.6%,#94a5f5 99.6%)"></i><i style="background:linear-gradient(90deg,#f8fab5 0.4%,#f8fab8 27.6%,#f8f9ca 40.4%,#f5f6ec 51.6%,#e9edf8 60.4%,#c3cdf8 69.2%,#95a5f6 77.2%,#8399f3 84.4%,#889cf4 93.2%,#94a5f5 99.6%)"></i><i style="background:linear-gradient(90deg,#f8fab4 0.4%,#f8fab6 27.6%,#f8f9c8 40.4%,#f5f6ed 51.6%,#e7ecf8 60.4%,#c2ccf8 68.4%,#92a3f5 76.4%,#8096f3 83.6%,#859af4 92.4%,#94a5f6 99.6%)"></i><i style="background:linear-gradient(90deg,#f8fab2 0.4%,#f8fab4 27.6%,#f8f9c5 39.6%,#f6f7e6 49.2%,#ebeff8 58.8%,#c6d0f8 66.8%,#92a4f5 74.8%,#7e95f3 81.2%,#7f95f3 89.2%,#95a5f6 99.6%)"></i><i style="background:linear-gradient(90deg,#f8fab1 0.4%,#f8fab1 27.6%,#f8f9c2 39.6%,#f6f7e6 49.2%,#e9eef8 58.8%,#c6d0f8 66.0%,#93a4f5 73.2%,#7c93f2 79.6%,#7a92f2 86.8%,#95a6f6 99.6%)"></i><i style="background:linear-gradient(90deg,#f8faaf 0.4%,#f8faaf 28.4%,#f8f9c0 39.6%,#f6f7e6 49.2%,#ebeff8 58.0%,#c6d0f8 65.2%,#91a2f5 72.4%,#7890f2 78.8%,#748cf1 84.4%,#96a7f6 99.6%)"></i><i style="background:linear-gradient(90deg,#f8faae 0.4%,#f8faad 28.4%,#f8fabc 38.8%,#f7f8dd 47.6%,#f5f6ec 50.8%,#e9edf8 58.0%,#c6d0f8 64.4%,#93a4f5 70.8%,#758df2 77.2%,#6e86f1 82.0%,#889cf4 94.0%,#97a7f6 99.6%)"></i><i style="background:linear-gradient(90deg,#f8faac 0.4%,#f8faaa 28.4%,#f8fab9 38.8%,#f7f8d8 46.8%,#f5f6ec 50.8%,#e7ecf8 58.0%,#c0cbf8 64.4%,#90a2f5 70.0%,#6d85f0 77.2%,#6981f0 82.0%,#99a9f6 99.6%)"></i><i style="background:linear-gradient(90deg,#f8faab 0.4%,#f9faa8 28.4%,#f8fab6 38.8%,#f8f9d2 46.0%,#f5f6ec 50.8%,#e9edf8 57.2%,#c7d1f8 62.8%,#8ea0f5 69.2%,#677ff0 76.4%,#647cef 81.2%,#9baaf6 99.6%)"></i><i style="background:linear-gradient(90deg,#f8faa9 0.4%,#f9faa5 28.4%,#f8fab3 38.8%,#f8f9d1 46.0%,#f5f6ec 50.8%,#e6ebf8 57.2%,#c0cbf8 62.8%,#92a3f5 67.6%,#647cef 74.8%,#5e76ee 79.6%,#738bf1 86.8%,#9dacf6 99.6%)"></i><i style="background:linear-gradient(90deg,#f9faa8 0.4%,#f9faa2 28.4%,#f8faaf 38.8%,#f8f9ca 45.2%,#f5f6ec 50.8%,#e8edf8 56.4%,#c8d2f8 61.2%,#90a2f5 66.8%,#627aef 73.2%,#5870ee 77.2%,#637bef 82.8%,#8096f3 90.0%,#9faef7 99.6%)"></i><i style="background:linear-gradient(90deg,#f9faa6 0.4%,#f9fa9f 28.4%,#f8faac 38.8%,#f8f9c7 45.2%,#f6f7ea 50.0%,#ebeff8 55.6%,#cad3f8 60.4%,#8ea0f5 66.0%,#5c74ee 72.4%,#516aee 76.4%,#5c74ee 81.2%,#7e95f3 89.2%,#a2b0f7 99.6%)"></i><i style="background:linear-gradient(90deg,#f9faa4 0.4%,#f9fa9b 28.4%,#f8faa8 38.8%,#f8fabf 44.4%,#f6f7ea 50.0%,#e8edf8 55.6%,#c4cef8 60.4%,#8c9ff5 65.2%,#6f87f1 68.4%,#526bee 72.4%,#4b65ee 76.4%,#5f77ee 82.0%,#7d94f3 88.4%,#a4b2f7 99.6%)"></i><i style="background:linear-gradient(90deg,#f9faa2 0.4%,#f9fa98 29.2%,#f9faa5 38.8%,#f8fabc 44.4%,#f6f7ea 50.0%,#ebeff8 54.8%,#c5cff8 59.6%,#8b9ef4 64.4%,#556eee 70.0%,#4660ee 73.2%,#4963ee 77.2%,#7f96f3 88.4%,#a7b5f7 99.6%)"></i><i style="background:linear-gradient(90deg,#f9faa0 0.4%,#fafa94 29.2%,#f9faa0 38.8%,#f8fab8 44.4%,#f6f7ea 50.0%,#e9edf8 54.8%,#c7d1f8 58.8%,#8a9ef4 63.6%,#7088f1 66.0%,#4f68ee 69.2%,#435ced 71.6%,#435ced 75.6%,#5871ee 80.4%,#7c93f2 86.8%,#aab7f8 99.6%)"></i><i style="background:linear-gradient(90deg,#f9fa9e 0.4%,#fafa90 29.2%,#f9fa9c 38.8%,#f8fab4 44.4%,#f6f7ea 50.0%,#e7ebf8 54.8%,#c1cbf8 58.8%,#8a9df4 62.8%,#7890f2 64.4%,#516aee 67.6%,#415aed 70.0%,#3d54ec 73.2%,#4b65ee 78.0%,#7b92f2 86.0%,#adbaf8 99.6%)"></i><i style="background:linear-gradient(90deg,#f9fa9c 0.4%,#fafa8c 30.0%,#fafa97 38.8%,#f8fab0 44.4%,#f7f8e0 49.2%,#f6f7ea 50.0%,#eaeef8 54.0%,#c4cef8 58.0%,#8a9df4 62.0%,#778ff2 63.6%,#4c66ee 66.8%,#3d55ec 69.2%,#3a50eb 72.4%,#4862ee 77.2%,#7b92f2 85.2%,#b0bcf8 99.6%)"></i><i style="background:linear-gradient(90deg,#f9fa9a 0.4%,#fafa87 30.0%,#fafa91 38.8%,#f8faac 44.4%,#f8f9d5 48.4%,#f6f7ea 50.0%,#e8ecf8 54.0%,#c7d1f8 57.2%,#8a9ef4 61.2%,#768ef2 62.8%,#4862ee 66.0%,#3a50eb 68.4%,#374ceb 71.6%,#4660ee 76.4%,#7a92f2 84.4%,#b3bff8 99.6%)"></i><i style="background:linear-gradient(90deg,#fafa98 0.4%,#fafa82 30.8%,#fafa8b 38.8%,#f9faa1 43.6%,#f8fabe 46.8%,#f6f7ea 50.0%,#ecf0f8 53.2%,#cbd4f8 56.4%,#8b9ff4 60.4%,#768ef2 62.0%,#465fee 65.2%,#384deb 67.6%,#3549ea 70.8%,#455eee 75.6%,#7b92f2 83.6%,#b5c1f8 99.6%)"></i><i style="background:linear-gradient(90deg,#fafa96 0.4%,#fafa7c 30.8%,#fafa85 38.8%,#f9fa9c 43.6%,#f8faba 46.8%,#f6f7ea 50.0%,#eaeef8 53.2%,#c5cff8 56.4%,#8ea0f5 59.6%,#778ff2 61.2%,#445eee 64.4%,#364aea 66.8%,#3448ea 70.8%,#4962ee 75.6%,#7b92f2 82.8%,#b4c0f8 98.0%,#b8c3f8 99.6%)"></i><i style="background:linear-gradient(90deg,#fafa93 0.4%,#fafa76 31.6%,#fafa7e 38.8%,#fafa95 43.6%,#f8fab5 46.8%,#f6f7ea 50.0%,#e7ecf8 53.2%,#bec9f8 56.4%,#859af4 59.6%,#6a82f0 61.2%,#445dee 63.6%,#3549ea 66.0%,#3448ea 70.0%,#4962ee 74.8%,#7c93f2 82.0%,#b5c0f8 97.2%,#bbc6f8 99.6%)"></i><i style="background:linear-gradient(90deg,#fafa91 0.4%,#fafa6f 31.6%,#fafa76 38.8%,#fafa88 42.8%,#f9faa6 46.0%,#f8f9cc 48.4%,#f6f7ea 50.0%,#edf0f7 52.4%,#d1d9f8 54.8%,#a6b4f7 57.2%,#6e86f1 60.4%,#455eee 62.8%,#3449ea 65.2%,#3447ea 69.2%,#4963ee 74.0%,#7991f2 80.4%,#b4bff8 95.6%,#bdc8f8 99.6%)"></i><i style="background:linear-gradient(90deg,#fafa8e 0.4%,#faf86c 29.2%,#faf96e 38.8%,#fafa80 42.8%,#f9faa0 46.0%,#f8f9c9 48.4%,#f6f7ea 50.0%,#ebeff8 52.4%,#ccd5f8 54.8%,#8da0f5 58.0%,#738bf1 59.6%,#4761ee 62.0%,#364aea 64.4%,#3448ea 68.4%,#4b65ee 73.2%,#7a92f2 79.6%,#b5c0f8 94.8%,#c0cbf8 99.6%)"></i><i style="background:linear-gradient(90deg,#fafa8c 0.4%,#f9f66a 26.8%,#f9f568 38.0%,#fafa72 42.0%,#fafa8f 45.2%,#f8fab4 47.6%,#f6f7ea 50.0%,#e9edf8 52.4%,#c7d0f8 54.8%,#94a5f5 57.2%,#7991f2 58.8%,#4d66ee 61.2%,#3d53ec 62.8%,#3448ea 65.2%,#384eeb 68.4%,#4e67ee 72.4%,#7c93f2 78.8%,#b4bff8 93.2%,#c3cdf8 99.6%)"></i><i style="background:linear-gradient(90deg,#fafa89 0.4%,#f9f66a 22.8%,#f8f161 36.4%,#f9f76b 42.0%,#fafa7d 44.4%,#f9faa0 46.8%,#f8f9c1 48.4%,#f6f7ea 50.0%,#e7ebf8 52.4%,#c1cbf8 54.8%,#8da0f5 57.2%,#637bef 59.6%,#4862ee 61.2%,#394feb 63.6%,#394feb 66.8%,#4c65ee 70.8%,#7a92f2 77.2%,#b5c1f8 92.4%,#c5cff8 99.6%)"></i><i style="background:linear-gradient(90deg,#fafa86 0.4%,#f9f66a 19.6%,#f7ea5a 36.4%,#f9f365 42.0%,#fafa74 44.4%,#f9fa99 46.8%,#f8fabd 48.4%,#f6f7ea 50.0%,#edf1f7 51.6%,#cbd4f8 54.0%,#97a7f6 56.4%,#6d85f0 58.8%,#4861ee 61.2%,#3c53ec 63.6%,#3f57ed 66.8%,#516aee 70.0%,#7c93f3 76.4%,#b4c0f8 90.8%,#c7d1f8 99.6%)"></i><i style="background:linear-gradient(90deg,#fafa83 0.4%,#f9f569 18.0%,#f5e353 36.4%,#f7eb5b 41.2%,#faf86c 44.4%,#fafa83 46.0%,#f9faa4 47.6%,#f6f7ea 50.0%,#edf0f7 51.6%,#c7d1f8 54.0%,#93a4f5 56.4%,#7991f2 58.0%,#536cee 60.4%,#455fee 62.0%,#425aed 64.4%,#4c66ee 67.6%,#7c93f2 74.8%,#b6c1f8 90.0%,#c9d3f8 99.6%)"></i><i style="background:linear-gradient(90deg,#fafa80 0.4%,#f9f567 16.4%,#f3dc4c 35.6%,#f5e353 41.2%,#faf86d 45.2%,#fafa8b 46.8%,#f8fab5 48.4%,#f6f7ea 50.0%,#ecf0f8 51.6%,#c4cef8 54.0%,#90a2f5 56.4%,#6179ef 59.6%,#4d66ee 62.0%,#4b65ee 64.4%,#6880f0 70.0%,#7f95f3 74.0%,#b5c1f8 88.4%,#cbd4f8 99.6%)"></i><i style="background:linear-gradient(90deg,#fafa7d 0.4%,#f9f467 14.8%,#f1d646 35.6%,#f3dc4c 41.2%,#f8f060 44.4%,#fafa72 46.0%,#f8fab1 48.4%,#f6f7ea 50.0%,#ebeff8 51.6%,#b1bdf8 54.8%,#90a2f5 56.4%,#677ff0 59.6%,#5871ee 62.0%,#5c74ee 65.2%,#7f95f3 72.4%,#b5c1f8 86.8%,#cdd6f8 99.6%)"></i><i style="background:linear-gradient(90deg,#fafa7a 0.4%,#f8f162 15.6%,#f0ce40 35.6%,#f0d242 40.4%,#f4e151 43.6%,#f9f76c 46.0%,#fafa94 47.6%,#f8faae 48.4%,#f6f7ea 50.0%,#eaeff8 51.6%,#b1bdf8 54.8%,#92a3f5 56.4%,#6f87f1 59.6%,#647cef 62.0%,#6c84f0 66.0%,#8a9df4 73.2%,#b7c2f8 86.0%,#cfd7f8 99.6%)"></i><i style="background:linear-gradient(90deg,#fafa76 0.4%,#f7ed5d 16.4%,#f0cc40 31.6%,#eebf40 37.2%,#efc540 40.4%,#f1d545 42.8%,#f7ec5c 45.2%,#fafa77 46.8%,#f8faab 48.4%,#f6f7ea 50.0%,#eaeef8 51.6%,#95a6f6 56.4%,#7e94f3 58.8%,#7189f1 62.0%,#7d94f3 67.6%,#b7c3f8 84.4%,#cfd7f8 98.0%,#d1d9f8 99.6%)"></i><i style="background:linear-gradient(90deg,#fafa73 0.4%,#f7eb5b 15.6%,#efc940 29.2%,#ecb73f 34.8%,#ecb63f 39.6%,#efc440 42.0%,#f1d545 43.6%,#f8f263 46.0%,#fafa72 46.8%,#f8faa9 48.4%,#f6f7ea 50.0%,#eaeef8 51.6%,#9baaf6 56.4%,#859af4 58.8%,#7d93f3 62.8%,#93a4f5 71.6%,#bac5f8 83.6%,#d1d9f8 98.0%,#d3daf8 99.6%)"></i><i style="background:linear-gradient(90deg,#fafa70 0.4%,#f7ea5a 14.0%,#f0cd40 26.0%,#eab13d 33.2%,#e8a93c 38.0%,#ebb33e 41.2%,#efc140 42.8%,#f0ce40 43.6%,#f4e252 45.2%,#faf96f 46.8%,#f9faa8 48.4%,#f6f7ea 50.0%,#eaeef8 51.6%,#99a9f6 57.2%,#889cf4 60.4%,#899df4 65.2%,#bec8f8 83.6%,#d5dcf8 99.6%)"></i><i style="background:linear-gradient(90deg,#faf96e 0.4%,#f6ea5a 12.4%,#f0cb40 24.4%,#e59738 36.4%,#e59838 38.8%,#eab13d 42.0%,#efc640 43.6%,#f1d444 44.4%,#f7ee5e 46.0%,#faf86d 46.8%,#f9faa7 48.4%,#f6f7ea 50.0%,#ebeff8 51.6%,#a3b1f7 57.2%,#94a5f5 59.6%,#91a3f5 64.4%,#adbaf8 74.8%,#ccd5f8 90.0%,#d6ddf8 99.6%)"></i><i style="background:linear-gradient(90deg,#f9f76b 0.4%,#f6e858 11.6%,#efca40 22.8%,#e7a33a 30.8%,#e38b35 34.8%,#e28634 38.0%,#e49237 40.4%,#eec040 43.6%,#f0d141 44.4%,#faf86d 46.8%,#f8faa8 48.4%,#f6f7ea 50.0%,#ecf0f8 51.6%,#b4bff8 56.4%,#9eadf7 59.6%,#9aaaf6 64.4%,#c9d2f8 86.0%,#d8dff8 99.6%)"></i><i style="background:linear-gradient(90deg,#f9f669 0.4%,#f6e656 10.8%,#f0ce40 20.4%,#e7a53b 28.4%,#e28434 33.2%,#df7633 37.2%,#e28834 40.4%,#e7a13a 42.0%,#eebc40 43.6%,#f0d040 44.4%,#faf96e 46.8%,#f8faaa 48.4%,#f6f7ea 50.0%,#edf0f7 51.6%,#bbc6f8 56.4%,#a7b4f7 60.4%,#a7b4f7 66.0%,#ced6f8 87.6%,#d9e0f8 99.6%)"></i><i style="background:linear-gradient(90deg,#f9f467 0.4%,#f5e252 10.8%,#f0ce40 18.8%,#e7a43b 26.8%,#de7333 33.2%,#db6436 35.6%,#dc6635 38.0%,#e18133 40.4%,#e69c39 42.0%,#eebc40 43.6%,#f0d141 44.4%,#fafa70 46.8%,#f6f7ea 50.0%,#edf1f7 51.6%,#c3cdf8 56.4%,#b1bdf8 60.4%,#b1bdf8 66.8%,#d2daf8 89.2%,#dbe1f8 99.6%)"></i><i style="background:linear-gradient(90deg,#f9f365 0.4%,#f0d141 16.4%,#e7a43b 25.2%,#df7533 30.8%,#d95837 34.0%,#d84f37 36.4%,#da6036 38.8%,#e07c32 40.4%,#e69b39 42.0%,#f1d343 44.4%,#f8f162 46.0%,#fafa75 46.8%,#f8f9d0 49.2%,#f6f7ea 50.0%,#eef1f6 51.6%,#c5cff8 57.2%,#b7c3f8 62.0%,#bfcaf8 72.4%,#dce2f8 99.6%)"></i><i style="background:linear-gradient(90deg,#f8f162 0.4%,#f0cf40 15.6%,#e7a53b 23.6%,#de7433 29.2%,#d74935 33.2%,#d63d31 35.6%,#d64333 37.2%,#d95937 38.8%,#e07c32 40.4%,#e38a35 41.2%,#f2d646 44.4%,#f9f466 46.0%,#fafa7b 46.8%,#f8f9d2 49.2%,#f6f7ea 50.0%,#eaeff8 52.4%,#cbd4f8 57.2%,#bec9f8 62.8%,#ccd5f8 79.6%,#dee3f8 99.6%)"></i><i style="background:linear-gradient(90deg,#f8f060 0.4%,#f0cd40 14.8%,#e8a73b 22.0%,#df7633 27.6%,#d84f37 30.8%,#d5352f 33.2%,#d42f2d 35.6%,#d63b31 37.2%,#d95837 38.8%,#e17f33 40.4%,#e48f36 41.2%,#e7a73b 42.0%,#f0cb40 43.6%,#f6ea5a 45.2%,#f9f66a 46.0%,#f8fab8 48.4%,#f6f7ea 50.0%,#ecf0f8 52.4%,#cdd6f8 58.0%,#c4cef8 65.2%,#dfe4f8 99.6%)"></i><i style="background:linear-gradient(90deg,#f7ed5d 0.4%,#f0ce40 13.2%,#e7a33a 21.2%,#dd6f34 26.8%,#d85137 29.2%,#d42c2c 32.4%,#d2292c 35.6%,#d42e2d 36.4%,#d74a35 38.0%,#e28534 40.4%,#e9ae3d 42.0%,#f1d343 43.6%,#f8f060 45.2%,#faf96f 46.0%,#f8f9d6 49.2%,#f6f7ea 50.0%,#e9edf8 53.2%,#d0d8f8 58.8%,#c9d3f8 66.8%,#e0e5f8 99.6%)"></i><i style="background:linear-gradient(90deg,#f7eb5b 0.4%,#f0cc40 12.4%,#e8a73b 19.6%,#df7533 25.2%,#d74b35 28.4%,#d42d2d 30.8%,#cc272b 34.0%,#d1292c 35.6%,#d5302e 36.4%,#d85338 38.0%,#e07e32 39.6%,#e48e36 40.4%,#e7a53b 41.2%,#efc940 42.8%,#f6e656 44.4%,#f9f466 45.2%,#fafa77 46.0%,#f7f8d7 49.2%,#f6f7ea 50.0%,#ebeff8 53.2%,#d3dbf8 59.6%,#ced7f8 69.2%,#e1e6f8 99.6%)"></i><i style="background:linear-gradient(90deg,#f6e858 0.4%,#efca40 11.6%,#e7a43b 18.8%,#e07c32 23.6%,#d85338 26.8%,#d32a2c 30.0%,#ca262b 33.2%,#d42b2c 35.6%,#d74c36 37.2%,#e28834 39.6%,#eab03d 41.2%,#f1d343 42.8%,#f9f76b 45.2%,#f7f8d9 49.2%,#f6f7ea 50.0%,#edf0f7 53.2%,#d6ddf8 60.4%,#d3daf8 71.6%,#e2e7f8 99.6%)"></i><i style="background:linear-gradient(90deg,#f5e555 0.4%,#f0cd40 10.0%,#e7a23a 18.0%,#dd6f34 23.6%,#d85137 26.0%,#d32a2c 29.2%,#ca262b 32.4%,#d42a2c 34.8%,#d74935 36.4%,#e28434 38.8%,#e9ac3c 40.4%,#f0cc40 42.0%,#f9f364 44.4%,#fafa72 45.2%,#f7f8da 49.2%,#f6f7ea 50.0%,#ebf0f8 54.0%,#d9dff8 61.2%,#d7def8 74.8%,#e3e8f8 99.6%)"></i><i style="background:linear-gradient(90deg,#f5e353 0.4%,#f0cb40 9.2%,#e8a83b 16.4%,#df7833 22.0%,#d85137 25.2%,#d42a2c 28.4%,#cb272b 31.6%,#d42b2c 34.0%,#d74935 35.6%,#e49136 38.8%,#e8a73b 39.6%,#f1d545 42.0%,#f9f66a 44.4%,#f8fab7 47.6%,#f6f7ea 50.0%,#edf0f7 54.0%,#dbe2f8 62.0%,#dbe1f8 77.2%,#e4e9f8 99.6%)"></i><i style="background:linear-gradient(90deg,#f4e050 0.4%,#efca40 8.4%,#e7a63b 15.6%,#df7833 21.2%,#d85237 24.4%,#d42d2d 27.6%,#ce282b 30.8%,#d2292c 32.4%,#d63c31 34.0%,#da5d37 35.6%,#e18133 37.2%,#e48f36 38.0%,#ebb33e 39.6%,#f0d242 41.2%,#fafa71 44.4%,#f7f8dd 49.2%,#f6f7ea 50.0%,#ecf0f8 54.8%,#dde3f8 63.6%,#e2e7f8 90.8%,#e5eaf8 99.6%)"></i><i style="background:linear-gradient(90deg,#f3de4e 0.4%,#efc940 7.6%,#e7a63b 14.8%,#dd6f34 21.2%,#d74b35 24.4%,#d42c2d 27.6%,#d32a2c 30.8%,#d5362f 32.4%,#d85137 34.0%,#e18233 36.4%,#f0cf40 40.4%,#f8f060 42.8%,#fafa7a 44.4%,#f8f9d1 48.4%,#f6f7ea 50.0%,#ecf0f8 55.6%,#dee4f8 65.2%,#e6eaf8 99.6%)"></i><i style="background:linear-gradient(90deg,#f3dc4c 0.4%,#efc940 6.8%,#e7a63b 14.0%,#de7234 20.4%,#d85037 23.6%,#d5332f 26.8%,#d42e2d 29.2%,#d63e32 31.6%,#d95738 33.2%,#e18333 35.6%,#f0cc40 39.6%,#f7ec5c 42.0%,#fafa72 43.6%,#f8f9d3 48.4%,#f6f7ea 50.0%,#edf0f7 55.6%,#e0e6f8 66.8%,#e6ebf8 99.6%)"></i><i style="background:linear-gradient(90deg,#f2d949 0.4%,#efc840 6.0%,#e7a63b 13.2%,#df7533 19.6%,#d74d36 23.6%,#d53830 26.8%,#d63b31 29.2%,#d85338 31.6%,#e28634 34.8%,#eab03d 37.2%,#f1d545 39.6%,#faf86d 42.8%,#f8f9d5 48.4%,#f6f7ea 50.0%,#edf1f7 55.6%,#e1e7f8 69.2%,#e7ecf8 99.6%)"></i><i style="background:linear-gradient(90deg,#f2d747 0.4%,#efc840 5.2%,#e8a73b 12.4%,#de7034 19.6%,#d74f36 23.6%,#d64233 26.0%,#d74634 28.4%,#d95b37 30.8%,#e38935 34.0%,#eab13d 36.4%,#f1d444 38.8%,#f9f669 42.0%,#fafa93 44.4%,#f8f9d6 48.4%,#f6f7ea 50.0%,#edf1f7 56.4%,#e3e8f8 71.6%,#e8edf8 99.6%)"></i><i style="background:linear-gradient(90deg,#f1d545 0.4%,#efc440 5.2%,#e7a23a 12.4%,#df7533 18.8%,#d85338 23.6%,#d74d36 26.0%,#d85638 28.4%,#dd6e34 30.8%,#e59938 34.0%,#ebb23e 35.6%,#f1d343 38.0%,#f9f467 41.2%,#fafa7e 42.8%,#f7f8d8 48.4%,#f6f7ea 50.0%,#edf1f7 57.2%,#e4e9f8 74.8%,#e9edf8 99.6%)"></i><i style="background:linear-gradient(90deg,#f1d343 0.4%,#e7a43b 11.6%,#de7433 18.8%,#d95b37 22.8%,#d95937 26.0%,#dc6635 28.4%,#e28834 31.6%,#ebb33e 34.8%,#f1d343 37.2%,#faf86d 41.2%,#f8f9d0 47.6%,#f6f7ea 50.0%,#eef1f6 57.2%,#e6ebf8 77.2%,#eaeef8 99.6%)"></i><i style="background:linear-gradient(90deg,#f0d242 0.4%,#e7a63b 10.8%,#e18233 16.4%,#db6436 22.0%,#db6336 25.2%,#de7034 27.6%,#e59738 31.6%,#ecb53e 34.0%,#f1d343 36.4%,#f9f66a 40.4%,#f8fab0 45.2%,#f7f8db 48.4%,#f6f7ea 50.0%,#eef1f6 58.0%,#e7ecf8 81.2%,#eaeef8 99.6%)"></i><i style="background:linear-gradient(90deg,#f0d040 0.4%,#e7a23a 10.8%,#e18233 16.4%,#dd6b35 22.0%,#de7034 25.2%,#e49237 30.0%,#eab03d 32.4%,#f1d444 35.6%,#f9f569 39.6%,#fafa7c 41.2%,#f8f9d4 47.6%,#f6f7ea 50.0%,#eef1f6 58.8%,#e9edf8 86.0%,#ebeff8 99.6%)"></i><i style="background:linear-gradient(90deg,#f0cd40 0.4%,#e7a53b 10.0%,#e28634 15.6%,#de7433 22.0%,#e28534 26.8%,#e59938 29.2%,#f1d444 34.8%,#f9f467 38.8%,#fafa84 41.2%,#f8f9d5 47.6%,#f6f7ea 50.0%,#eef1f6 58.8%,#eaeef8 90.0%,#ecf0f8 99.6%)"></i><i style="background:linear-gradient(90deg,#efca40 0.4%,#e7a43b 10.0%,#e28734 15.6%,#e07d32 21.2%,#e28734 25.2%,#e59838 27.6%,#ecb53e 30.8%,#f0cf40 33.2%,#f9f466 38.0%,#fafa81 40.4%,#f7f8d7 47.6%,#f6f7ea 50.0%,#eef1f6 59.6%,#ecf0f8 95.6%,#ecf0f8 99.6%)"></i><i style="background:linear-gradient(90deg,#efc740 0.4%,#e7a33a 10.0%,#e38935 15.6%,#e28434 21.2%,#e49136 25.2%,#efc740 31.6%,#f1d646 33.2%,#f9f76b 38.0%,#f8f9d1 46.8%,#f6f7ea 50.0%,#eff1f5 60.4%,#ecf0f8 99.6%)"></i><i style="background:linear-gradient(90deg,#efc540 0.4%,#e7a23a 10.0%,#e38c35 15.6%,#e38b35 21.2%,#e59938 24.4%,#efc240 30.0%,#f2d747 32.4%,#f9f76b 37.2%,#f8fab2 43.6%,#f7f8d9 47.6%,#f6f7ea 50.0%,#eff1f5 61.2%,#edf0f7 99.6%)"></i><i style="background:linear-gradient(90deg,#efc340 0.4%,#e6a03a 10.8%,#e48f36 16.4%,#e59437 21.2%,#eebe40 28.4%,#f1d343 30.8%,#f9f66a 36.4%,#f9faa6 42.0%,#f7f8da 47.6%,#f5f6ec 50.8%,#eef1f6 64.4%,#edf0f7 99.6%)"></i><i style="background:linear-gradient(90deg,#efc240 0.4%,#e59637 15.6%,#e69c39 20.4%,#efc240 27.6%,#f1d545 30.0%,#faf96f 36.4%,#f8f9d0 46.0%,#f6f7ea 50.0%,#eff1f5 62.8%,#edf1f7 99.6%)"></i><i style="background:linear-gradient(90deg,#eec140 0.4%,#e69d39 14.8%,#e7a33a 19.6%,#eebf40 26.0%,#f1d242 28.4%,#faf96e 35.6%,#f8f9d2 46.0%,#f6f7ea 50.0%,#eff2f5 63.6%,#edf1f7 99.6%)"></i><i style="background:linear-gradient(90deg,#eec040 0.4%,#e7a33a 14.0%,#e9ae3d 20.4%,#efc440 25.2%,#f1d444 27.6%,#faf96e 34.8%,#f8f9cd 45.2%,#f6f7ea 50.0%,#eff2f5 64.4%,#eef1f6 99.6%)"></i><i style="background:linear-gradient(90deg,#eebf40 0.4%,#e8ab3c 11.6%,#eab03d 18.8%,#efc240 23.6%,#f1d545 26.8%,#faf96e 34.0%,#f8f9cf 45.2%,#f6f7ea 50.0%,#eff2f5 65.2%,#eef1f6 99.6%)"></i><i style="background:linear-gradient(90deg,#eebf40 0.4%,#e9ae3d 10.8%,#ebb33e 18.0%,#efc740 22.8%,#f2d747 26.0%,#faf96e 33.2%,#f8f9d1 45.2%,#f5f6eb 50.8%,#eff2f5 68.4%,#eef1f6 99.6%)"></i><i style="background:linear-gradient(90deg,#eec040 0.4%,#eab13e 10.8%,#edb93f 18.0%,#f1d343 23.6%,#faf96e 32.4%,#f8f9ce 44.4%,#f6f7ea 50.0%,#f0f2f4 66.8%,#eef1f6 99.6%)"></i><i style="background:linear-gradient(90deg,#eec040 0.4%,#ebb43e 10.0%,#eebc40 17.2%,#f0d242 22.0%,#f9f466 30.0%,#fafa81 34.0%,#f8f9d4 45.2%,#f6f7eb 50.8%,#eff2f5 70.0%,#eef1f6 99.6%)"></i><i style="background:linear-gradient(90deg,#efc140 0.4%,#ecb73f 9.2%,#eebf40 15.6%,#f1d444 21.2%,#faf96e 30.8%,#f8f9d1 44.4%,#f6f7eb 50.8%,#f0f2f4 70.8%,#eff1f5 99.6%)"></i><i style="background:linear-gradient(90deg,#efc340 0.4%,#eebb40 9.2%,#efc640 15.6%,#f1d646 20.4%,#faf96e 30.0%,#f8f9ce 43.6%,#f6f7eb 50.8%,#f0f2f4 72.4%,#eff1f5 99.6%)"></i><i style="background:linear-gradient(90deg,#efc540 0.4%,#eebf40 9.2%,#f1d444 18.0%,#f8f061 26.0%,#fafa7a 30.8%,#f8f9d0 43.6%,#f6f7eb 50.8%,#f0f2f4 73.2%,#eff2f5 99.6%)"></i><i style="background:linear-gradient(90deg,#efc740 0.4%,#efc440 9.2%,#f1d444 16.4%,#f8ee5e 24.4%,#fafa74 29.2%,#f8f9cd 42.8%,#f6f7eb 50.8%,#f0f2f4 74.0%,#eff2f5 99.6%)"></i><i style="background:linear-gradient(90deg,#efc940 0.4%,#efc940 9.2%,#f1d646 15.6%,#f8f060 23.6%,#fafa75 28.4%,#f8f9cf 42.8%,#f6f7eb 50.8%,#f0f2f4 75.6%,#eff2f5 99.6%)"></i><i style="background:linear-gradient(90deg,#f0cc40 0.4%,#f0cf40 9.2%,#f4e252 18.8%,#fafa70 26.8%,#f8f9cc 42.0%,#f6f7eb 50.8%,#f0f2f4 76.4%,#f0f2f4 99.6%)"></i><i style="background:linear-gradient(90deg,#f0cf40 0.4%,#f1d646 11.6%,#f7ec5c 20.4%,#fafa76 26.8%,#f8f9ce 42.0%,#f6f7eb 50.8%,#f0f2f4 78.0%,#f0f2f4 99.6%)"></i><i style="background:linear-gradient(90deg,#f0d141 0.4%,#f3da4a 12.4%,#faf96e 24.4%,#f8f9d3 42.8%,#f6f7eb 50.8%,#f0f2f4 79.6%,#f0f2f4 99.6%)"></i><i style="background:linear-gradient(90deg,#f1d343 0.4%,#f3dd4d 12.4%,#fafa72 24.4%,#f8f9cd 41.2%,#f6f7eb 50.8%,#f0f2f4 80.4%,#f0f2f4 99.6%)"></i><i style="background:linear-gradient(90deg,#f1d545 0.4%,#f4e151 12.4%,#fafa73 23.6%,#f8f9cf 41.2%,#f6f7eb 50.8%,#f1f2f3 82.0%,#f0f2f4 99.6%)"></i><i style="background:linear-gradient(90deg,#f2d747 0.4%,#f5e353 11.6%,#fafa74 22.8%,#f8f9d0 41.2%,#f6f7eb 50.8%,#f1f2f3 83.6%,#f0f2f4 99.6%)"></i><i style="background:linear-gradient(90deg,#f2d949 0.4%,#f6e757 11.6%,#fafa75 22.0%,#f8f9d1 41.2%,#f6f7eb 50.8%,#f1f2f3 85.2%,#f0f2f4 99.6%)"></i><i style="background:linear-gradient(90deg,#f3db4b 0.4%,#f6e858 10.8%,#fafa76 21.2%,#f8f9d2 41.2%,#f6f7eb 50.8%,#f1f2f3 87.6%,#f1f2f3 99.6%)"></i><i style="background:linear-gradient(90deg,#f3dd4d 0.4%,#f7ee5e 11.6%,#fafa77 20.4%,#f8f9d1 40.4%,#f6f7eb 50.8%,#f1f2f3 89.2%,#f1f2f3 99.6%)"></i><i style="background:linear-gradient(90deg,#f4df4f 0.4%,#f9f467 14.0%,#fafa7c 20.4%,#f8f9d2 40.4%,#f6f7eb 51.6%,#f1f2f3 92.4%,#f1f2f3 99.6%)"></i><i style="background:linear-gradient(90deg,#f4e252 0.4%,#faf86d 15.6%,#f8f9d3 40.4%,#f6f7eb 51.6%,#f1f3f3 94.8%,#f1f2f3 99.6%)"></i><i style="background:linear-gradient(90deg,#f5e454 0.4%,#fafa70 15.6%,#f8f9d2 39.6%,#f6f7eb 51.6%,#f1f3f3 96.4%,#f1f3f3 99.6%)"></i><i style="background:linear-gradient(90deg,#f6e757 0.4%,#fafa72 14.8%,#f8f9d3 39.6%,#f6f7eb 51.6%,#f1f3f3 98.8%,#f1f3f3 99.6%)"></i><i style="background:linear-gradient(90deg,#f6ea5a 0.4%,#fafa73 14.0%,#f8f9d2 38.8%,#f6f7eb 51.6%,#f1f3f3 99.6%)"></i><i style="background:linear-gradient(90deg,#f7ec5c 0.4%,#fafa75 13.2%,#f8f9d2 38.8%,#f6f7eb 51.6%,#f1f3f3 99.6%)"></i><i style="background:linear-gradient(90deg,#f8ef5f 0.4%,#fafa76 12.4%,#f8f9d3 38.8%,#f6f7eb 51.6%,#f1f3f3 99.6%)"></i><i style="background:linear-gradient(90deg,#f8f162 0.4%,#fafa75 10.8%,#f8f9d2 38.0%,#f6f7eb 51.6%,#f2f3f2 99.6%)"></i><i style="background:linear-gradient(90deg,#f8f264 0.4%,#fafa76 10.0%,#f8f9d3 38.0%,#f6f7eb 51.6%,#f2f3f2 99.6%)"></i><i style="background:linear-gradient(90deg,#f9f466 0.4%,#fafa77 9.2%,#f8f9d4 38.0%,#f6f7eb 51.6%,#f2f3f2 99.6%)"></i><i style="background:linear-gradient(90deg,#f9f568 0.4%,#fafa79 8.4%,#f8f9d5 38.0%,#f6f7eb 52.4%,#f2f3f2 99.6%)"></i><i style="background:linear-gradient(90deg,#f9f76b 0.4%,#fafa7f 9.2%,#f8f9d4 37.2%,#f6f7eb 51.6%,#f2f3f2 99.6%)"></i><i style="background:linear-gradient(90deg,#faf86d 0.4%,#fafa94 14.8%,#f8f9d6 38.0%,#f6f7eb 52.4%,#f2f3f2 99.6%)"></i><i style="background:linear-gradient(90deg,#faf96f 0.4%,#f8f9d5 37.2%,#f6f7eb 52.4%,#f2f3f2 99.6%)"></i><i style="background:linear-gradient(90deg,#fafa72 0.4%,#f8f9d6 37.2%,#f6f7eb 52.4%,#f2f3f2 99.6%)"></i></div>
<svg width="520" height="310" viewBox="0 0 520 310">
<defs><linearGradient id="cbg" x1="0" y1="0" x2="0" y2="1"><stop offset="0.000" stop-color="#b01c28"/><stop offset="0.043" stop-color="#d42a2c"/><stop offset="0.071" stop-color="#d85438"/><stop offset="0.106" stop-color="#e07c32"/><stop offset="0.134" stop-color="#e49036"/><stop offset="0.163" stop-color="#e8aa3c"/><stop offset="0.200" stop-color="#eebc40"/><stop offset="0.229" stop-color="#f0d040"/><stop offset="0.271" stop-color="#f4e050"/><stop offset="0.306" stop-color="#f8f060"/><stop offset="0.343" stop-color="#fafa70"/><stop offset="0.386" stop-color="#fafa90"/><stop offset="0.429" stop-color="#f8fab0"/><stop offset="0.466" stop-color="#f8f9d0"/><stop offset="0.500" stop-color="#f6f7ea"/><stop offset="0.534" stop-color="#f2f3f2"/><stop offset="0.580" stop-color="#ecf0f8"/><stop offset="0.634" stop-color="#dce2f8"/><stop offset="0.694" stop-color="#c6d0f8"/><stop offset="0.743" stop-color="#b0bcf8"/><stop offset="0.786" stop-color="#98a8f6"/><stop offset="0.857" stop-color="#7890f2"/><stop offset="0.900" stop-color="#5c74ee"/><stop offset="0.929" stop-color="#4660ee"/><stop offset="0.963" stop-color="#3448ea"/><stop offset="1.000" stop-color="#2c3ce0"/></linearGradient></defs>
<rect x="20.50" y="3.50" width="128.30" height="128.00" fill="none" stroke="#858585" stroke-width="1.00"/>
<path d="M35.65 131.50v-1.5M35.65 3.50v1.5M20.50 116.50h1.5M148.80 116.50h-1.5M60.15 131.50v-1.5M60.15 3.50v1.5M20.50 92.00h1.5M148.80 92.00h-1.5M84.65 131.50v-1.5M84.65 3.50v1.5M20.50 67.50h1.5M148.80 67.50h-1.5M109.15 131.50v-1.5M109.15 3.50v1.5M20.50 43.00h1.5M148.80 43.00h-1.5M133.65 131.50v-1.5M133.65 3.50v1.5M20.50 18.50h1.5M148.80 18.50h-1.5" stroke="#858585" stroke-width="0.80" fill="none"/>
<text class="tl" x="35.65" y="139.70" text-anchor="middle">−4</text>
<text class="tl" x="19.00" y="118.70" text-anchor="end">−4</text>
<text class="tl" x="60.15" y="139.70" text-anchor="middle">−2</text>
<text class="tl" x="19.00" y="94.20" text-anchor="end">−2</text>
<text class="tl" x="84.65" y="139.70" text-anchor="middle">0</text>
<text class="tl" x="19.00" y="69.70" text-anchor="end">0</text>
<text class="tl" x="109.15" y="139.70" text-anchor="middle">2</text>
<text class="tl" x="19.00" y="45.20" text-anchor="end">2</text>
<text class="tl" x="133.65" y="139.70" text-anchor="middle">4</text>
<text class="tl" x="19.00" y="20.70" text-anchor="end">4</text>
<text class="pl" x="0.50" y="11.30">a</text>
<text class="ti" x="80.40" y="20.90" text-anchor="middle"><tspan font-style="italic">θ</tspan><tspan font-size="0.74em" font-style="italic" dy="2.20">k</tspan><tspan font-style="normal" dy="-2.20"> &gt; 0, </tspan><tspan font-style="italic">ϵ</tspan><tspan font-size="0.74em" font-style="italic" dy="2.20">k</tspan><tspan font-style="normal" dy="-2.20"> = 0</tspan></text>
<g transform="translate(77.70 151.00)" class="al"><text x="0" y="0" font-size="12.80" font-style="italic">ϕ</text><text x="8.60" y="2.60" font-size="8.00" font-style="italic">A</text><text x="14.60" y="0.80" font-size="12.50">°</text></g>
<g transform="translate(10.30 82.40) rotate(-90)" class="al"><text x="0" y="0" font-size="12.80" font-style="italic">ϕ</text><text x="8.60" y="2.60" font-size="9.20" font-style="italic" letter-spacing="0.70">W,f</text><text x="25.30" y="0.80" font-size="12.50">°</text></g>
<rect x="181.40" y="3.50" width="128.00" height="128.00" fill="none" stroke="#858585" stroke-width="1.00"/>
<path d="M196.40 131.50v-1.5M196.40 3.50v1.5M181.40 116.50h1.5M309.40 116.50h-1.5M220.90 131.50v-1.5M220.90 3.50v1.5M181.40 92.00h1.5M309.40 92.00h-1.5M245.40 131.50v-1.5M245.40 3.50v1.5M181.40 67.50h1.5M309.40 67.50h-1.5M269.90 131.50v-1.5M269.90 3.50v1.5M181.40 43.00h1.5M309.40 43.00h-1.5M294.40 131.50v-1.5M294.40 3.50v1.5M181.40 18.50h1.5M309.40 18.50h-1.5" stroke="#858585" stroke-width="0.80" fill="none"/>
<text class="tl" x="196.40" y="139.70" text-anchor="middle">−4</text>
<text class="tl" x="179.90" y="118.70" text-anchor="end">−4</text>
<text class="tl" x="220.90" y="139.70" text-anchor="middle">−2</text>
<text class="tl" x="179.90" y="94.20" text-anchor="end">−2</text>
<text class="tl" x="245.40" y="139.70" text-anchor="middle">0</text>
<text class="tl" x="179.90" y="69.70" text-anchor="end">0</text>
<text class="tl" x="269.90" y="139.70" text-anchor="middle">2</text>
<text class="tl" x="179.90" y="45.20" text-anchor="end">2</text>
<text class="tl" x="294.40" y="139.70" text-anchor="middle">4</text>
<text class="tl" x="179.90" y="20.70" text-anchor="end">4</text>
<text class="pl" x="162.50" y="11.30">b</text>
<text class="ti" x="242.30" y="20.90" text-anchor="middle"><tspan font-style="italic">θ</tspan><tspan font-size="0.74em" font-style="italic" dy="2.20">k</tspan><tspan font-style="normal" dy="-2.20"> = 0, </tspan><tspan font-style="italic">ϵ</tspan><tspan font-size="0.74em" font-style="italic" dy="2.20">k</tspan><tspan font-style="normal" dy="-2.20"> &gt; 0</tspan></text>
<g transform="translate(235.90 151.00)" class="al"><text x="0" y="0" font-size="12.80" font-style="italic">ϕ</text><text x="8.60" y="2.60" font-size="8.00" font-style="italic">A</text><text x="14.60" y="0.80" font-size="12.50">°</text></g>
<g transform="translate(167.20 83.00) rotate(-90)" class="al"><text x="0" y="0" font-size="12.80" font-style="italic">ϕ</text><text x="8.60" y="2.60" font-size="9.20" font-style="italic" letter-spacing="0.70">W,f</text><text x="25.30" y="0.80" font-size="12.50">°</text></g>
<rect x="348.80" y="3.40" width="128.80" height="128.10" fill="none" stroke="#858585" stroke-width="1.00"/>
<path d="M364.20 131.50v-1.5M364.20 3.40v1.5M348.80 116.45h1.5M477.60 116.45h-1.5M388.70 131.50v-1.5M388.70 3.40v1.5M348.80 91.95h1.5M477.60 91.95h-1.5M413.20 131.50v-1.5M413.20 3.40v1.5M348.80 67.45h1.5M477.60 67.45h-1.5M437.70 131.50v-1.5M437.70 3.40v1.5M348.80 42.95h1.5M477.60 42.95h-1.5M462.20 131.50v-1.5M462.20 3.40v1.5M348.80 18.45h1.5M477.60 18.45h-1.5" stroke="#858585" stroke-width="0.80" fill="none"/>
<text class="tl" x="364.20" y="139.70" text-anchor="middle">−4</text>
<text class="tl" x="347.30" y="118.65" text-anchor="end">−4</text>
<text class="tl" x="388.70" y="139.70" text-anchor="middle">−2</text>
<text class="tl" x="347.30" y="94.15" text-anchor="end">−2</text>
<text class="tl" x="413.20" y="139.70" text-anchor="middle">0</text>
<text class="tl" x="347.30" y="69.65" text-anchor="end">0</text>
<text class="tl" x="437.70" y="139.70" text-anchor="middle">2</text>
<text class="tl" x="347.30" y="45.15" text-anchor="end">2</text>
<text class="tl" x="462.20" y="139.70" text-anchor="middle">4</text>
<text class="tl" x="347.30" y="20.65" text-anchor="end">4</text>
<text class="pl" x="331.50" y="11.00">c</text>
<text class="ti" x="411.50" y="20.20" text-anchor="middle"><tspan font-style="italic">θ</tspan><tspan font-size="0.74em" font-style="italic" dy="2.20">k</tspan><tspan font-style="normal" dy="-2.20"> = </tspan><tspan font-style="italic">ϵ</tspan><tspan font-size="0.74em" font-style="italic" dy="2.20">k</tspan><tspan font-style="normal" dy="-2.20"> &gt; 0</tspan></text>
<g transform="translate(404.50 150.40)" class="al"><text x="0" y="0" font-size="12.80" font-style="italic">ϕ</text><text x="8.60" y="2.60" font-size="8.00" font-style="italic">A</text><text x="14.60" y="0.80" font-size="12.50">°</text></g>
<g transform="translate(335.20 82.30) rotate(-90)" class="al"><text x="0" y="0" font-size="12.80" font-style="italic">ϕ</text><text x="8.60" y="2.60" font-size="9.20" font-style="italic" letter-spacing="0.70">W,f</text><text x="25.30" y="0.80" font-size="12.50">°</text></g>
<rect x="19.60" y="159.20" width="128.00" height="128.00" fill="none" stroke="#858585" stroke-width="1.00"/>
<path d="M34.60 287.20v-1.5M34.60 159.20v1.5M19.60 272.20h1.5M147.60 272.20h-1.5M59.10 287.20v-1.5M59.10 159.20v1.5M19.60 247.70h1.5M147.60 247.70h-1.5M83.60 287.20v-1.5M83.60 159.20v1.5M19.60 223.20h1.5M147.60 223.20h-1.5M108.10 287.20v-1.5M108.10 159.20v1.5M19.60 198.70h1.5M147.60 198.70h-1.5M132.60 287.20v-1.5M132.60 159.20v1.5M19.60 174.20h1.5M147.60 174.20h-1.5" stroke="#858585" stroke-width="0.80" fill="none"/>
<text class="tl" x="34.60" y="295.40" text-anchor="middle">−4</text>
<text class="tl" x="18.10" y="274.40" text-anchor="end">−4</text>
<text class="tl" x="59.10" y="295.40" text-anchor="middle">−2</text>
<text class="tl" x="18.10" y="249.90" text-anchor="end">−2</text>
<text class="tl" x="83.60" y="295.40" text-anchor="middle">0</text>
<text class="tl" x="18.10" y="225.40" text-anchor="end">0</text>
<text class="tl" x="108.10" y="295.40" text-anchor="middle">2</text>
<text class="tl" x="18.10" y="200.90" text-anchor="end">2</text>
<text class="tl" x="132.60" y="295.40" text-anchor="middle">4</text>
<text class="tl" x="18.10" y="176.40" text-anchor="end">4</text>
<text class="pl" x="0.50" y="172.70">d</text>
<text class="ti" x="81.60" y="176.90" text-anchor="middle"><tspan font-style="italic">θ</tspan><tspan font-size="0.74em" font-style="italic" dy="2.20">k</tspan><tspan font-style="normal" dy="-2.20"> &gt; 0, </tspan><tspan font-style="italic">ϵ</tspan><tspan font-size="0.74em" font-style="italic" dy="2.20">k</tspan><tspan font-style="normal" dy="-2.20"> = 0</tspan></text>
<g transform="translate(71.90 305.70)" class="al"><text x="0" y="0" font-size="12.80" font-style="italic">ϕ</text><text x="8.60" y="2.60" font-size="8.00" font-style="italic">A</text><text x="14.60" y="0.80" font-size="12.50">°</text></g>
<g transform="translate(10.90 237.70) rotate(-90)" class="al"><text x="0" y="0" font-size="12.80" font-style="italic">ϕ</text><text x="8.60" y="2.60" font-size="9.20" font-style="italic" letter-spacing="0.70">W,s</text><text x="25.30" y="0.80" font-size="12.50">°</text></g>
<rect x="179.80" y="159.20" width="128.40" height="128.00" fill="none" stroke="#858585" stroke-width="1.00"/>
<path d="M195.00 287.20v-1.5M195.00 159.20v1.5M179.80 272.20h1.5M308.20 272.20h-1.5M219.50 287.20v-1.5M219.50 159.20v1.5M179.80 247.70h1.5M308.20 247.70h-1.5M244.00 287.20v-1.5M244.00 159.20v1.5M179.80 223.20h1.5M308.20 223.20h-1.5M268.50 287.20v-1.5M268.50 159.20v1.5M179.80 198.70h1.5M308.20 198.70h-1.5M293.00 287.20v-1.5M293.00 159.20v1.5M179.80 174.20h1.5M308.20 174.20h-1.5" stroke="#858585" stroke-width="0.80" fill="none"/>
<text class="tl" x="195.00" y="295.40" text-anchor="middle">−4</text>
<text class="tl" x="178.30" y="274.40" text-anchor="end">−4</text>
<text class="tl" x="219.50" y="295.40" text-anchor="middle">−2</text>
<text class="tl" x="178.30" y="249.90" text-anchor="end">−2</text>
<text class="tl" x="244.00" y="295.40" text-anchor="middle">0</text>
<text class="tl" x="178.30" y="225.40" text-anchor="end">0</text>
<text class="tl" x="268.50" y="295.40" text-anchor="middle">2</text>
<text class="tl" x="178.30" y="200.90" text-anchor="end">2</text>
<text class="tl" x="293.00" y="295.40" text-anchor="middle">4</text>
<text class="tl" x="178.30" y="176.40" text-anchor="end">4</text>
<text class="pl" x="163.00" y="172.50">e</text>
<text class="ti" x="243.30" y="176.50" text-anchor="middle"><tspan font-style="italic">θ</tspan><tspan font-size="0.74em" font-style="italic" dy="2.20">k</tspan><tspan font-style="normal" dy="-2.20"> = 0, </tspan><tspan font-style="italic">ϵ</tspan><tspan font-size="0.74em" font-style="italic" dy="2.20">k</tspan><tspan font-style="normal" dy="-2.20"> &gt; 0</tspan></text>
<g transform="translate(233.10 305.70)" class="al"><text x="0" y="0" font-size="12.80" font-style="italic">ϕ</text><text x="8.60" y="2.60" font-size="8.00" font-style="italic">A</text><text x="14.60" y="0.80" font-size="12.50">°</text></g>
<g transform="translate(167.25 237.70) rotate(-90)" class="al"><text x="0" y="0" font-size="12.80" font-style="italic">ϕ</text><text x="8.60" y="2.60" font-size="9.20" font-style="italic" letter-spacing="0.70">W,s</text><text x="25.30" y="0.80" font-size="12.50">°</text></g>
<rect x="349.50" y="159.20" width="127.90" height="128.00" fill="none" stroke="#858585" stroke-width="1.00"/>
<path d="M364.45 287.20v-1.5M364.45 159.20v1.5M349.50 272.20h1.5M477.40 272.20h-1.5M388.95 287.20v-1.5M388.95 159.20v1.5M349.50 247.70h1.5M477.40 247.70h-1.5M413.45 287.20v-1.5M413.45 159.20v1.5M349.50 223.20h1.5M477.40 223.20h-1.5M437.95 287.20v-1.5M437.95 159.20v1.5M349.50 198.70h1.5M477.40 198.70h-1.5M462.45 287.20v-1.5M462.45 159.20v1.5M349.50 174.20h1.5M477.40 174.20h-1.5" stroke="#858585" stroke-width="0.80" fill="none"/>
<text class="tl" x="364.45" y="295.40" text-anchor="middle">−4</text>
<text class="tl" x="348.00" y="274.40" text-anchor="end">−4</text>
<text class="tl" x="388.95" y="295.40" text-anchor="middle">−2</text>
<text class="tl" x="348.00" y="249.90" text-anchor="end">−2</text>
<text class="tl" x="413.45" y="295.40" text-anchor="middle">0</text>
<text class="tl" x="348.00" y="225.40" text-anchor="end">0</text>
<text class="tl" x="437.95" y="295.40" text-anchor="middle">2</text>
<text class="tl" x="348.00" y="200.90" text-anchor="end">2</text>
<text class="tl" x="462.45" y="295.40" text-anchor="middle">4</text>
<text class="tl" x="348.00" y="176.40" text-anchor="end">4</text>
<text class="pl" x="330.00" y="175.60">f</text>
<text class="ti" x="412.60" y="175.90" text-anchor="middle"><tspan font-style="italic">θ</tspan><tspan font-size="0.74em" font-style="italic" dy="2.20">k</tspan><tspan font-style="normal" dy="-2.20"> = </tspan><tspan font-style="italic">ϵ</tspan><tspan font-size="0.74em" font-style="italic" dy="2.20">k</tspan><tspan font-style="normal" dy="-2.20"> &gt; 0</tspan></text>
<g transform="translate(402.70 305.70)" class="al"><text x="0" y="0" font-size="12.80" font-style="italic">ϕ</text><text x="8.60" y="2.60" font-size="8.00" font-style="italic">A</text><text x="14.60" y="0.80" font-size="12.50">°</text></g>
<g transform="translate(337.60 237.70) rotate(-90)" class="al"><text x="0" y="0" font-size="12.80" font-style="italic">ϕ</text><text x="8.60" y="2.60" font-size="9.20" font-style="italic" letter-spacing="0.70">W,s</text><text x="25.30" y="0.80" font-size="12.50">°</text></g>
<path d="M22.84 129.16L146.46 5.84M84.10 67.20H144.60" stroke="#000" stroke-width="1.80" stroke-dasharray="0 3.35" stroke-linecap="round" fill="none"/>
<path d="M98.82 55.61A18.50 18.50 0 0 1 103.01 65.25" stroke="#000" stroke-width="1.50" fill="none"/>
<text class="psi" x="110.35" y="56.50" text-anchor="start"><tspan font-style="italic">ψ</tspan><tspan font-size="0.65em" font-style="italic" dy="2.50">f</tspan></text>
<path d="M21.94 284.86L145.26 161.54M83.05 222.60H143.40" stroke="#000" stroke-width="1.80" stroke-dasharray="0 3.35" stroke-linecap="round" fill="none"/>
<path d="M97.77 211.31A18.50 18.50 0 0 1 101.96 220.95" stroke="#000" stroke-width="1.50" fill="none"/>
<text class="psi" x="108.50" y="215.00" text-anchor="start"><tspan font-style="italic">ψ</tspan><tspan font-size="0.65em" font-style="italic" dy="2.50">s</tspan></text>
<rect x="488.00" y="69.80" width="4.40" height="157.80" fill="url(#cbg)"/>
<text class="cbl" x="494.00" y="82.90">0.015</text>
<text class="cbl" x="494.00" y="105.80">0.010</text>
<text class="cbl" x="494.00" y="128.70">0.005</text>
<text class="cbl" x="494.00" y="151.60">0</text>
<text class="cbl" x="494.00" y="174.50">−0.005</text>
<text class="cbl" x="494.00" y="197.40">−0.010</text>
<text class="cbl" x="494.00" y="220.30">−0.015</text>
<text class="cbt" x="487.50" y="64.50">Δ<tspan font-style="italic">I</tspan><tspan dx="1.00">/</tspan><tspan dx="0.60" font-style="italic">Ī</tspan></text>
</svg>
</div></body></html>
